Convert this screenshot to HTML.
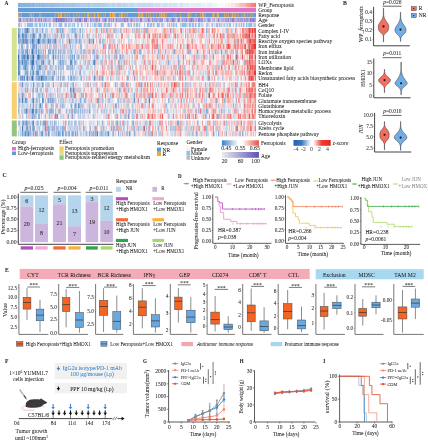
<!DOCTYPE html>
<html><head><meta charset="utf-8"><style>html,body{margin:0;padding:0;background:#fff;width:428px;height:440px;overflow:hidden}svg{display:block;will-change:transform;filter:blur(0.25px)}</style></head><body>
<svg width="428" height="440" viewBox="0 0 428 440" font-family="Liberation Serif, serif" fill="#222"><style>text{stroke:#222;stroke-width:0.04px}</style>
<rect x="0" y="0" width="428" height="440" fill="#fff"/>
<text x="4.5" y="4.5" font-size="6.16" textLength="3.97" lengthAdjust="spacingAndGlyphs" font-weight="bold">A</text>
<text x="258.2" y="7.05" font-size="6.16" textLength="35.75" lengthAdjust="spacingAndGlyphs">WP_Ferroptosis</text>
<text x="258.2" y="12.05" font-size="6.16" textLength="14.05" lengthAdjust="spacingAndGlyphs">Group</text>
<text x="258.2" y="17.1" font-size="6.16" textLength="21.08" lengthAdjust="spacingAndGlyphs">Response</text>
<text x="258.2" y="22.05" font-size="6.16" textLength="9.16" lengthAdjust="spacingAndGlyphs">Age</text>
<text x="258.2" y="27" font-size="6.16" textLength="16.19" lengthAdjust="spacingAndGlyphs">Gender</text>
<rect x="11.8" y="28" width="5" height="52.8" fill="#d5e38e"/>
<text x="258.2" y="32.54" font-size="6.16" textLength="31.01" lengthAdjust="spacingAndGlyphs">Complex I-IV</text>
<text x="258.2" y="37.82" font-size="6.16" textLength="21.84" lengthAdjust="spacingAndGlyphs">Fatty acid</text>
<text x="258.2" y="43.1" font-size="6.16" textLength="74.07" lengthAdjust="spacingAndGlyphs">Reactive oxygen species pathway</text>
<text x="258.2" y="48.38" font-size="6.16" textLength="23.57" lengthAdjust="spacingAndGlyphs">Iron efflux</text>
<text x="258.2" y="53.66" font-size="6.16" textLength="23.98" lengthAdjust="spacingAndGlyphs">Iron intake</text>
<text x="258.2" y="58.94" font-size="6.16" textLength="32.84" lengthAdjust="spacingAndGlyphs">Iron utilization</text>
<text x="258.2" y="64.22" font-size="6.16" textLength="13.44" lengthAdjust="spacingAndGlyphs">LOXs</text>
<text x="258.2" y="69.5" font-size="6.16" textLength="35.28" lengthAdjust="spacingAndGlyphs">Membrane lipid</text>
<text x="258.2" y="74.78" font-size="6.16" textLength="14.36" lengthAdjust="spacingAndGlyphs">Redox</text>
<text x="258.2" y="80.06" font-size="6.16" textLength="96.84" lengthAdjust="spacingAndGlyphs">Unsaturated fatty acids biosynthetic process</text>
<rect x="11.8" y="82.2" width="5" height="36.8" fill="#f8cf73"/>
<text x="258.2" y="86.73" font-size="6.16" textLength="10.39" lengthAdjust="spacingAndGlyphs">BH4</text>
<text x="258.2" y="91.99" font-size="6.16" textLength="15.89" lengthAdjust="spacingAndGlyphs">CoQ10</text>
<text x="258.2" y="97.24" font-size="6.16" textLength="13.75" lengthAdjust="spacingAndGlyphs">Folate</text>
<text x="258.2" y="102.5" font-size="6.16" textLength="58.19" lengthAdjust="spacingAndGlyphs">Glutamate transmembrane</text>
<text x="258.2" y="107.76" font-size="6.16" textLength="25.97" lengthAdjust="spacingAndGlyphs">Glutathione</text>
<text x="258.2" y="113.01" font-size="6.16" textLength="72.70" lengthAdjust="spacingAndGlyphs">Homocysteine metabolic process</text>
<text x="258.2" y="118.27" font-size="6.16" textLength="27.19" lengthAdjust="spacingAndGlyphs">Thioredoxin</text>
<rect x="11.8" y="120.5" width="5" height="15.9" fill="#93c57f"/>
<text x="258.2" y="125.05" font-size="6.16" textLength="23.53" lengthAdjust="spacingAndGlyphs">Glycolysis</text>
<text x="258.2" y="130.35" font-size="6.16" textLength="26.11" lengthAdjust="spacingAndGlyphs">Krebs cycle</text>
<text x="258.2" y="135.65" font-size="6.16" textLength="60.79" lengthAdjust="spacingAndGlyphs">Pentose phosphate pathway</text>
<path d="M18.5 2.90v4.50m5 -4.50v4.50m5 -4.50v4.50m1 -4.50v4.50m3 -4.50v4.50" stroke="#8ab4de" stroke-width="1" fill="none"/>
<path d="M19.5 2.90v4.50m2 -4.50v4.50" stroke="#84aede" stroke-width="1" fill="none"/>
<path d="M20.5 2.90v4.50m2 -4.50v4.50m3 -4.50v4.50m2 -4.50v4.50m3 -4.50v4.50m3 -4.50v4.50m6 -4.50v4.50" stroke="#90b4de" stroke-width="1" fill="none"/>
<path d="M24.5 2.90v4.50m2 -4.50v4.50" stroke="#84b4de" stroke-width="1" fill="none"/>
<path d="M31.5 2.90v4.50m3 -4.50v4.50m2 -4.50v4.50m8 -4.50v4.50m2 -4.50v4.50m5 -4.50v4.50m1 -4.50v4.50m1 -4.50v4.50" stroke="#96bae4" stroke-width="1" fill="none"/>
<path d="M35.5 2.90v4.50m3 -4.50v4.50m2 -4.50v4.50m5 -4.50v4.50m2 -4.50v4.50m1 -4.50v4.50m2 -4.50v4.50m5 -4.50v4.50m1 -4.50v4.50m2 -4.50v4.50m1 -4.50v4.50m3 -4.50v4.50m7 -4.50v4.50" stroke="#9cc0e4" stroke-width="1" fill="none"/>
<path d="M37.5 2.90v4.50m5 -4.50v4.50m1 -4.50v4.50" stroke="#90bade" stroke-width="1" fill="none"/>
<path d="M41.5 2.90v4.50" stroke="#90bae4" stroke-width="1" fill="none"/>
<path d="M49.5 2.90v4.50" stroke="#9cbae4" stroke-width="1" fill="none"/>
<path d="M54.5 2.90v4.50m3 -4.50v4.50m6 -4.50v4.50m1 -4.50v4.50m3 -4.50v4.50m5 -4.50v4.50m2 -4.50v4.50" stroke="#a2c0e4" stroke-width="1" fill="none"/>
<path d="M60.5 2.90v4.50m5 -4.50v4.50m1 -4.50v4.50m5 -4.50v4.50m2 -4.50v4.50m2 -4.50v4.50m2 -4.50v4.50m2 -4.50v4.50m9 -4.50v4.50m-17 31.16v5.28m-50 5.28v5.28m30 10.56v5.28m7 0v5.28m2 -5.28v5.28m-12 0v5.28m16 -5.28v5.28m8 1.40v5.26m18 -5.26v5.26m-53 10.51v5.26m32 5.26v5.26m66 -5.26v5.26m-85 6.76v5.30m63 -5.30v5.30m-64 0v5.30m121 -5.30v5.30m-20 0v5.30" stroke="#a8c6e4" stroke-width="1" fill="none"/>
<path d="M61.5 2.90v4.50m9 -4.50v4.50" stroke="#a2c6e4" stroke-width="1" fill="none"/>
<path d="M68.5 2.90v4.50m8 -4.50v4.50m2 -4.50v4.50m2 -4.50v4.50m1 -4.50v4.50m1 -4.50v4.50m1 -4.50v4.50m3 -4.50v4.50m7 -4.50v4.50m1 -4.50v4.50m2 -4.50v4.50m2 -4.50v4.50m1 -4.50v4.50m1 -4.50v4.50m2 -4.50v4.50" stroke="#aeccea" stroke-width="1" fill="none"/>
<path d="M84.5 2.90v4.50m1 -4.50v4.50m2 -4.50v4.50m2 -4.50v4.50m1 -4.50v4.50m5 -4.50v4.50m2 -4.50v4.50m6 -4.50v4.50m1 -4.50v4.50m2 -4.50v4.50" stroke="#b4ccea" stroke-width="1" fill="none"/>
<path d="M91.5 2.90v4.50m10 -4.50v4.50m6 -4.50v4.50m1 -4.50v4.50m4 -4.50v4.50m1 -4.50v4.50m1 -4.50v4.50m3 -4.50v4.50m1 -4.50v4.50m1 -4.50v4.50m1 -4.50v4.50m4 -4.50v4.50m-63 20.60v5.28m55 0v5.28m-38 0v5.28m37 -0v5.28m-38 0v5.28m41 -5.28v5.28m-42 5.28v5.28m-27 0v5.28m80 0v5.28m54 -5.28v5.28m-106 0v5.28m26 -5.28v5.28m13 -5.28v5.28m-85 1.40v5.26m15 -5.26v5.26m-3 5.26v5.26m-22 0v5.26m54 -5.26v5.26m1 -5.26v5.26m5 -5.26v5.26m24 -5.26v5.26m-12 0v5.26m9 0v5.26m-79 12.06v5.30m149 -5.30v5.30m54 -5.30v5.30m-208 0v5.30m13 -5.30v5.30m8 -5.30v5.30m41 -5.30v5.30" stroke="#bad2ea" stroke-width="1" fill="none"/>
<path d="M92.5 2.90v4.50" stroke="#b4d2ea" stroke-width="1" fill="none"/>
<path d="M105.5 2.90v4.50" stroke="#c0d2f0" stroke-width="1" fill="none"/>
<path d="M109.5 2.90v4.50m1 -4.50v4.50m1 -4.50v4.50m4 -4.50v4.50m6 -4.50v4.50m1 -4.50v4.50m3 -4.50v4.50m1 -4.50v4.50m7 -4.50v4.50m7 -4.50v4.50m2 -4.50v4.50" stroke="#c0d8f0" stroke-width="1" fill="none"/>
<path d="M116.5 2.90v4.50m11 -4.50v4.50m2 -4.50v4.50m1 -4.50v4.50m1 -4.50v4.50m1 -4.50v4.50m6 -4.50v4.50m1 -4.50v4.50m4 -4.50v4.50m1 -4.50v4.50m1 -4.50v4.50m2 -4.50v4.50m1 -4.50v4.50m1 -4.50v4.50m1 -4.50v4.50m2 -4.50v4.50m-127 15.60v4.20m9 -4.20v4.20m3 -4.20v4.20m6 -4.20v4.20m12 -4.20v4.20m3 -4.20v4.20m6 -4.20v4.20m6 -4.20v4.20m3 -4.20v4.20m9 -4.20v4.20m3 -4.20v4.20m12 -4.20v4.20m6 -4.20v4.20m3 -4.20v4.20m21 -4.20v4.20m3 -4.20v4.20m3 -4.20v4.20m21 -4.20v4.20m9 -4.20v4.20m9 -4.20v4.20m3 -4.20v4.20m6 -4.20v4.20m6 -4.20v4.20m9 -4.20v4.20m6 -4.20v4.20m6 -4.20v4.20m3 -4.20v4.20m3 -4.20v4.20m6 -4.20v4.20m3 -4.20v4.20m3 -4.20v4.20m9 -4.20v4.20m9 -4.20v4.20m3 -4.20v4.20m6 -4.20v4.20m-231 37.76v5.28" stroke="#c6d8f0" stroke-width="1" fill="none"/>
<path d="M123.5 2.90v4.50m-88 20.60v5.28m8 -5.28v5.28m4 -5.28v5.28m23 -5.28v5.28m-49 0v5.28m15 -5.28v5.28m35 -5.28v5.28m3 -5.28v5.28m-2 0v5.28m56 -5.28v5.28m15 -5.28v5.28m34 -5.28v5.28m-149 -0v5.28m22 -5.28v5.28m10 -5.28v5.28m2 -5.28v5.28m-42 0v5.28m9 0v5.28m7 -5.28v5.28m10 -5.28v5.28m147 -5.28v5.28m13 -5.28v5.28m-162 -0v5.28m20 -5.28v5.28m20 -5.28v5.28m59 -5.28v5.28m-91 0v5.28m71 -5.28v5.28m101 -5.28v5.28m-204 0v5.28m8 -5.28v5.28m3 -5.28v5.28m8 -5.28v5.28m1 -5.28v5.28m49 -5.28v5.28m39 -5.28v5.28m-53 0v5.28m18 -5.28v5.28m125 -5.28v5.28m-193 1.40v5.26m9 -5.26v5.26m2 -5.26v5.26m34 -5.26v5.26m5 -5.26v5.26m19 -5.26v5.26m129 -5.26v5.26m-180 0v5.26m11 -5.26v5.26m6 -5.26v5.26m7 -5.26v5.26m65 -5.26v5.26m-113 0v5.26m21 -5.26v5.26m8 -5.26v5.26m19 -5.26v5.26m-47 0v5.26m45 -5.26v5.26m56 -5.26v5.26m62 -5.26v5.26m1 -5.26v5.26m-161 0v5.26m9 -5.26v5.26m15 -5.26v5.26m8 -5.26v5.26m15 -5.26v5.26m13 -5.26v5.26m11 -5.26v5.26m129 -5.26v5.26m-201 0v5.26m21 -5.26v5.26m27 -5.26v5.26m16 -5.26v5.26m1 -5.26v5.26m3 -5.26v5.26m26 -5.26v5.26m106 -5.26v5.26m1 -5.26v5.26m20 -5.26v5.26m-207 0v5.26m5 -5.26v5.26m20 -5.26v5.26m-25 1.50v5.30m36 -5.30v5.30m43 -5.30v5.30m42 -5.30v5.30m22 -5.30v5.30m35 -5.30v5.30m-177 0v5.30m5 -5.30v5.30m8 -5.30v5.30m39 -5.30v5.30m8 -5.30v5.30m5 -5.30v5.30m30 -5.30v5.30m58 -5.30v5.30m-169 0v5.30m11 -5.30v5.30m21 -5.30v5.30m32 -5.30v5.30m14 -5.30v5.30m5 -5.30v5.30m2 -5.30v5.30m55 -5.30v5.30" stroke="#c0d2ea" stroke-width="1" fill="none"/>
<path d="M128.5 2.90v4.50m6 -4.50v4.50m1 -4.50v4.50m1 -4.50v4.50m1 -4.50v4.50m4 -4.50v4.50m5 -4.50v4.50m5 -4.50v4.50m4 -4.50v4.50m1 -4.50v4.50m1 -4.50v4.50m2 -4.50v4.50m5 -4.50v4.50m1 -4.50v4.50m-142 20.60v5.28m45 -5.28v5.28m149 -5.28v5.28m-164 0v5.28m16 5.28v5.28m4 -5.28v5.28m-49 0v5.28m55 -5.28v5.28m65 -5.28v5.28m-31 0v5.28m53 -5.28v5.28m45 -5.28v5.28m-50 -0v5.28m-88 0v5.28m4 -5.28v5.28m47 -5.28v5.28m4 -5.28v5.28m-51 0v5.28m8 -5.28v5.28m30 -5.28v5.28m-23 0v5.28m48 -5.28v5.28m4 -5.28v5.28m-114 1.40v5.26m91 0v5.26m-84 0v5.26m73 0v5.26m2 -5.26v5.26m-92 0v5.26m17 -5.26v5.26m1 -5.26v5.26m41 0v5.26m2 -5.26v5.26m30 -5.26v5.26m33 -5.26v5.26m-71 0v5.26m6 -5.26v5.26m104 -5.26v5.26m-113 1.50v5.30m55 -5.30v5.30m-40 0v5.30m43 0v5.30m63 -5.30v5.30" stroke="#ccdef0" stroke-width="1" fill="none"/>
<path d="M153.5 2.90v4.50m-119 20.60v5.28m19 -5.28v5.28m2 -5.28v5.28m23 -5.28v5.28m62 -5.28v5.28m48 -5.28v5.28m9 -5.28v5.28m-125 0v5.28m31 -5.28v5.28m15 -5.28v5.28m-3 0v5.28m104 -5.28v5.28m-182 -0v5.28m48 -5.28v5.28m55 -5.28v5.28m66 -5.28v5.28m-132 0v5.28m4 -5.28v5.28m47 -5.28v5.28m18 -5.28v5.28m2 -5.28v5.28m75 -5.28v5.28m-200 0v5.28m45 -5.28v5.28m2 -5.28v5.28m25 -5.28v5.28m33 -5.28v5.28m1 -5.28v5.28m46 -5.28v5.28m7 -5.28v5.28m21 -5.28v5.28m-148 -0v5.28m39 -5.28v5.28m-1 5.28v5.28m40 -5.28v5.28m1 -5.28v5.28m61 -5.28v5.28m14 -5.28v5.28m-128 0v5.28m1 -5.28v5.28m68 -5.28v5.28m17 -5.28v5.28m25 -5.28v5.28m44 -5.28v5.28m-201 1.40v5.26m48 -5.26v5.26m34 -5.26v5.26m94 -5.26v5.26m-188 0v5.26m73 0v5.26m81 -5.26v5.26m-81 0v5.26m48 -5.26v5.26m-116 0v5.26m6 -5.26v5.26m17 -5.26v5.26m17 -5.26v5.26m2 -5.26v5.26m62 -5.26v5.26m38 -5.26v5.26m35 -5.26v5.26m30 -5.26v5.26m-167 0v5.26m54 -5.26v5.26m8 -5.26v5.26m30 -5.26v5.26m2 -5.26v5.26m11 -5.26v5.26m1 -5.26v5.26m-128 0v5.26m44 -5.26v5.26m5 -5.26v5.26m19 -5.26v5.26m75 -5.26v5.26m-65 1.50v5.30m33 -5.30v5.30m4 -5.30v5.30m26 -5.30v5.30m-75 0v5.30m-48 0v5.30m17 -5.30v5.30m150 -5.30v5.30" stroke="#d8e4f0" stroke-width="1" fill="none"/>
<path d="M154.5 2.90v4.50m8 -4.50v4.50m1 -4.50v4.50m3 -4.50v4.50m1 -4.50v4.50m2 -4.50v4.50m4 -4.50v4.50m2 -4.50v4.50m56 47v5.28m-185 -0v5.28m86 33.01v5.26m-8 5.26v5.26m51 -5.26v5.26m-127 0v5.26m22 -5.26v5.26m31 1.50v5.30m47 -5.30v5.30m58 -5.30v5.30m-147 0v5.30" stroke="#d2e4f0" stroke-width="1" fill="none"/>
<path d="M158.5 2.90v4.50m12 -4.50v4.50m-118 20.60v5.28m2 -5.28v5.28m15 -5.28v5.28m15 -5.28v5.28m8 -5.28v5.28m10 -5.28v5.28m40 -5.28v5.28m-100 0v5.28m41 -5.28v5.28m66 0v5.28m-126 -0v5.28m8 -5.28v5.28m8 -5.28v5.28m22 -5.28v5.28m7 -5.28v5.28m6 -5.28v5.28m28 -5.28v5.28m4 -5.28v5.28m-55 0v5.28m25 -5.28v5.28m19 -5.28v5.28m67 -5.28v5.28m-111 0v5.28m48 -5.28v5.28m12 -5.28v5.28m1 -5.28v5.28m19 -5.28v5.28m9 -5.28v5.28m-111 -0v5.28m11 -5.28v5.28m37 -5.28v5.28m13 -5.28v5.28m51 -5.28v5.28m19 -5.28v5.28m37 -5.28v5.28m-176 0v5.28m108 -5.28v5.28m12 -5.28v5.28m48 -5.28v5.28m7 -5.28v5.28m45 -5.28v5.28m-196 0v5.28m156 -5.28v5.28m-182 0v5.28m6 -5.28v5.28m9 -5.28v5.28m27 -5.28v5.28m89 -5.28v5.28m15 -5.28v5.28m21 -5.28v5.28m20 -5.28v5.28m-122 1.40v5.26m51 -5.26v5.26m49 -5.26v5.26m-165 0v5.26m29 -5.26v5.26m149 -5.26v5.26m24 -5.26v5.26m-201 0v5.26m5 -5.26v5.26m19 -5.26v5.26m3 -5.26v5.26m32 -5.26v5.26m21 -5.26v5.26m68 -5.26v5.26m74 -5.26v5.26m-204 0v5.26m18 -5.26v5.26m55 -5.26v5.26m122 -5.26v5.26m-212 0v5.26m89 -5.26v5.26m21 -5.26v5.26m-97 0v5.26m14 -5.26v5.26m20 -5.26v5.26m20 -5.26v5.26m27 -5.26v5.26m15 -5.26v5.26m38 -5.26v5.26m-106 0v5.26m33 -5.26v5.26m102 -5.26v5.26m-156 1.50v5.30m41 -5.30v5.30m8 -5.30v5.30m3 -5.30v5.30m-57 0v5.30m50 -5.30v5.30m56 -5.30v5.30m8 -5.30v5.30m-83 0v5.30m110 -5.30v5.30m13 -5.30v5.30m44 -5.30v5.30" stroke="#d2def0" stroke-width="1" fill="none"/>
<path d="M160.5 2.90v4.50m12 -4.50v4.50m2 -4.50v4.50m2 -4.50v4.50m4 -4.50v4.50m1 -4.50v4.50m1 -4.50v4.50m5 -4.50v4.50" stroke="#d8e4f6" stroke-width="1" fill="none"/>
<path d="M161.5 2.90v4.50" stroke="#d8eaf6" stroke-width="1" fill="none"/>
<path d="M168.5 2.90v4.50m3 -4.50v4.50m8 -4.50v4.50m5 -4.50v4.50m2 -4.50v4.50m8 -4.50v4.50m3 -4.50v4.50m1 -4.50v4.50m-168 20.60v5.28m19 -5.28v5.28m32 -5.28v5.28m6 -5.28v5.28m6 -5.28v5.28m-20 0v5.28m59 0v5.28m10 -5.28v5.28m82 -5.28v5.28m-206 -0v5.28m2 -5.28v5.28m154 -5.28v5.28m-42 0v5.28m32 -5.28v5.28m-115 0v5.28m58 -5.28v5.28m-56 -0v5.28m22 -5.28v5.28m9 -5.28v5.28m17 -5.28v5.28m34 -5.28v5.28m29 -5.28v5.28m-105 0v5.28m41 -5.28v5.28m-69 0v5.28m12 -5.28v5.28m30 -5.28v5.28m-17 0v5.28m15 -5.28v5.28m60 -5.28v5.28m114 -5.28v5.28m-208 1.40v5.26m14 0v5.26m188 -5.26v5.26m1 -5.26v5.26m-164 5.26v5.26m13 -5.26v5.26m98 -5.26v5.26m-81 0v5.26m93 -5.26v5.26m-92 0v5.26m92 -5.26v5.26m21 -5.26v5.26m-160 0v5.26m27 -5.26v5.26m13 -5.26v5.26m1 -5.26v5.26m71 -5.26v5.26m-131 1.50v5.30m-8 0v5.30m9 -5.30v5.30m38 -5.30v5.30m91 -5.30v5.30m-105 0v5.30m18 -5.30v5.30m16 -5.30v5.30m133 -5.30v5.30m15 -5.30v5.30" stroke="#deeaf6" stroke-width="1" fill="none"/>
<path d="M177.5 2.90v4.50m1 -4.50v4.50m5 -4.50v4.50m13 -4.50v4.50m3 -4.50v4.50m1 -4.50v4.50m-152 20.60v5.28m50 -5.28v5.28m63 -5.28v5.28m64 0v5.28m-127 0v5.28m36 -5.28v5.28m-50 -0v5.28m7 0v5.28m9 0v5.28m1 -5.28v5.28m38 -5.28v5.28m-70 -0v5.28m69 -5.28v5.28m1 -5.28v5.28m-6 0v5.28m16 -5.28v5.28m74 -5.28v5.28m-200 0v5.28m58 -5.28v5.28m1 -5.28v5.28m33 0v5.28m6 -5.28v5.28m-47 1.40v5.26m4 -5.26v5.26m1 -5.26v5.26m55 -5.26v5.26m88 -5.26v5.26m16 -5.26v5.26m-187 0v5.26m127 -5.26v5.26m52 -5.26v5.26m-115 0v5.26m5 -5.26v5.26m114 -5.26v5.26m-188 0v5.26m31 -5.26v5.26m36 -5.26v5.26m26 -5.26v5.26m11 -5.26v5.26m32 -5.26v5.26m-65 0v5.26m-48 5.26v5.26m31 -5.26v5.26m1 -5.26v5.26m152 1.50v5.30m-131 0v5.30m4 -5.30v5.30m-107 0v5.30m97 -5.30v5.30m68 -5.30v5.30m57 -5.30v5.30" stroke="#e4eaf6" stroke-width="1" fill="none"/>
<path d="M185.5 2.90v4.50m3 -4.50v4.50m2 -4.50v4.50m1 -4.50v4.50m1 -4.50v4.50m1 -4.50v4.50m2 -4.50v4.50m8 -4.50v4.50m4 -4.50v4.50m1 -4.50v4.50m1 -4.50v4.50m1 -4.50v4.50m1 -4.50v4.50m-120 20.60v5.28m40 0v5.28m63 -5.28v5.28m-133 0v5.28m123 -5.28v5.28m-55 5.28v5.28m-16 10.56v5.28m-91 0v5.28m162 0v5.28m-35 1.40v5.26m-111 0v5.26m127 -5.26v5.26m-125 5.26v5.26m118 -5.26v5.26m68 0v5.26m-81 0v5.26m-92 0v5.26m22 -5.26v5.26m-37 12.10v5.30" stroke="#e4f0f6" stroke-width="1" fill="none"/>
<path d="M189.5 2.90v4.50m-101 20.60v5.28m2 0v5.28m56 -5.28v5.28m19 0v5.28m-99 5.28v5.28m84 -5.28v5.28m-20 0v5.28m16 -5.28v5.28m-90 -0v5.28m84 -5.28v5.28m44 -5.28v5.28m-136 0v5.28m77 -5.28v5.28m112 -5.28v5.28m-171 0v5.28m60 -5.28v5.28m50 0v5.28m29 -5.28v5.28m16 -5.28v5.28m11 -5.28v5.28m-203 1.40v5.26m13 0v5.26m2 -5.26v5.26m70 -5.26v5.26m74 5.26v5.26m49 -5.26v5.26m9 -5.26v5.26m-143 0v5.26m65 -5.26v5.26m-76 0v5.26m26 -5.26v5.26m54 -5.26v5.26m2 -5.26v5.26m53 -5.26v5.26m13 -5.26v5.26m-219 0v5.26m16 -5.26v5.26m44 -5.26v5.26m29 -5.26v5.26m90 -5.26v5.26m-133 1.50v5.30m28 -5.30v5.30m5 -5.30v5.30m10 -5.30v5.30m46 -5.30v5.30m45 -5.30v5.30m10 -5.30v5.30m-104 0v5.30m1 -5.30v5.30m3 0v5.30m21 -5.30v5.30m51 -5.30v5.30" stroke="#eaf0f6" stroke-width="1" fill="none"/>
<path d="M201.5 2.90v4.50m11 -4.50v4.50m3 -4.50v4.50m-150 57.56v5.28m98 50.26v5.30" stroke="#eaf0fc" stroke-width="1" fill="none"/>
<path d="M202.5 2.90v4.50m2 -4.50v4.50m-119 20.60v5.28m90 10.56v5.28m33 10.56v5.28m-149 5.28v5.28m32 0v5.28m118 50.30v5.30" stroke="#f0f0fc" stroke-width="1" fill="none"/>
<path d="M205.5 2.90v4.50m1 -4.50v4.50m7 -4.50v4.50m1 -4.50v4.50m2 -4.50v4.50m1 -4.50v4.50m-180 25.88v5.28m67 -5.28v5.28m68 -5.28v5.28m13 0v5.28m25 5.28v5.28m-160 0v5.28m80 -0v5.28m-37 0v5.28m6 -5.28v5.28m91 -5.28v5.28m-169 0v5.28m77 -5.28v5.28m29 -5.28v5.28m64 -5.28v5.28m43 -5.28v5.28m-130 0v5.28m135 -5.28v5.28m-195 1.40v5.26m22 0v5.26m34 -5.26v5.26m33 -5.26v5.26m-106 0v5.26m18 -5.26v5.26m69 0v5.26m28 -5.26v5.26m9 -5.26v5.26m-97 0v5.26m125 -5.26v5.26m-135 0v5.26m68 -5.26v5.26m53 0v5.26m-92 1.50v5.30m23 -5.30v5.30m9 -5.30v5.30m9 -5.30v5.30m89 -5.30v5.30m-162 0v5.30m46 -5.30v5.30m82 0v5.30m48 -5.30v5.30m27 -5.30v5.30m5 -5.30v5.30" stroke="#f0f6fc" stroke-width="1" fill="none"/>
<path d="M218.5 2.90v4.50m1 -4.50v4.50m4 -4.50v4.50m1 -4.50v4.50m-110 25.88v5.28m12 0v5.28m50 -5.28v5.28m-147 -0v5.28m54 -5.28v5.28m59 0v5.28m63 5.28v5.28m36 -5.28v5.28m-177 0v5.28m70 -5.28v5.28m-27 0v5.28m70 0v5.28m39 -5.28v5.28m-135 1.40v5.26m30 -5.26v5.26m1 -5.26v5.26m-10 0v5.26m27 0v5.26m-13 0v5.26m50 -5.26v5.26m54 -5.26v5.26m-70 0v5.26m-37 5.26v5.26" stroke="#fcfcfc" stroke-width="1" fill="none"/>
<path d="M220.5 2.90v4.50m2 -4.50v4.50m4 -4.50v4.50m-16 20.60v5.28m-87 0v5.28m10 -5.28v5.28m7 0v5.28m10 -5.28v5.28m48 -5.28v5.28m4 -5.28v5.28m1 -5.28v5.28m7 -5.28v5.28m-103 -0v5.28m54 -5.28v5.28m-55 0v5.28m82 0v5.28m-81 -0v5.28m9 -5.28v5.28m22 0v5.28m-69 0v5.28m69 -5.28v5.28m6 -5.28v5.28m70 -5.28v5.28m-61 0v5.28m97 1.40v5.26m-197 0v5.26m36 -5.26v5.26m67 -5.26v5.26m-100 0v5.26m-15 0v5.26m180 -5.26v5.26m-152 0v5.26m61 -5.26v5.26m111 -5.26v5.26m-79 0v5.26m19 -5.26v5.26m-139 0v5.26m88 -5.26v5.26m16 -5.26v5.26m18 -5.26v5.26m46 -5.26v5.26m-151 1.50v5.30m132 -5.30v5.30m-125 0v5.30m32 -5.30v5.30m112 0v5.30" stroke="#fcf6f6" stroke-width="1" fill="none"/>
<path d="M221.5 2.90v4.50m-187 85.31v5.26" stroke="#fcfcf6" stroke-width="1" fill="none"/>
<path d="M225.5 2.90v4.50m2 -4.50v4.50m2 -4.50v4.50m-13 20.60v5.28m-11 0v5.28m10 -5.28v5.28m-107 0v5.28m66 -5.28v5.28m39 -5.28v5.28m-165 -0v5.28m29 -5.28v5.28m43 -5.28v5.28m58 -5.28v5.28m-132 0v5.28m61 -5.28v5.28m16 -5.28v5.28m-48 0v5.28m111 -5.28v5.28m33 -5.28v5.28m-92 5.28v5.28m103 -5.28v5.28m-173 0v5.28m66 0v5.28m2 -5.28v5.28m13 -5.28v5.28m90 -5.28v5.28m14 -5.28v5.28m-144 1.40v5.26m127 -5.26v5.26m-131 0v5.26m19 -5.26v5.26m36 -5.26v5.26m-114 0v5.26m22 0v5.26m47 -5.26v5.26m56 -5.26v5.26m1 -5.26v5.26m33 -5.26v5.26m13 -5.26v5.26m-164 0v5.26m1 -5.26v5.26m41 -5.26v5.26m21 -5.26v5.26m53 -5.26v5.26m54 -5.26v5.26m-62 0v5.26m88 -5.26v5.26m-148 0v5.26m87 -5.26v5.26m-48 1.50v5.30m69 -5.30v5.30m-108 0v5.30m8 -5.30v5.30m122 -5.30v5.30m-80 0v5.30m41 -5.30v5.30" stroke="#fcf0f0" stroke-width="1" fill="none"/>
<path d="M228.5 2.90v4.50m-162 20.60v5.28m87 -5.28v5.28m4 -5.28v5.28m-72 0v5.28m35 -5.28v5.28m98 -5.28v5.28m-153 0v5.28m81 -5.28v5.28m35 -5.28v5.28m64 -5.28v5.28m-220 -0v5.28m57 -5.28v5.28m19 -5.28v5.28m26 -5.28v5.28m98 -5.28v5.28m21 -5.28v5.28m-76 0v5.28m-32 0v5.28m52 -5.28v5.28m25 -5.28v5.28m33 -5.28v5.28m-111 -0v5.28m78 -5.28v5.28m28 0v5.28m-175 0v5.28m151 -5.28v5.28m-169 6.68v5.26m4 -5.26v5.26m56 -5.26v5.26m23 -5.26v5.26m20 -5.26v5.26m68 -5.26v5.26m-152 0v5.26m85 -5.26v5.26m-77 0v5.26m80 -5.26v5.26m59 -5.26v5.26m-7 0v5.26m-52 0v5.26m33 -5.26v5.26m-170 0v5.26m88 -5.26v5.26m-62 0v5.26m73 -5.26v5.26m47 -5.26v5.26m32 -5.26v5.26m-112 1.50v5.30m110 -5.30v5.30m-40 0v5.30m11 -5.30v5.30m78 -5.30v5.30m-105 0v5.30" stroke="#fceaea" stroke-width="1" fill="none"/>
<path d="M230.5 2.90v4.50m-71 20.60v5.28m12 5.28v5.28m-46 -0v5.28m88 26.40v5.28" stroke="#fcf0ea" stroke-width="1" fill="none"/>
<path d="M231.5 2.90v4.50m1 -4.50v4.50m3 -4.50v4.50m-129 31.16v5.28m111 10.56v5.28m-124 10.56v5.28m145 -5.28v5.28m-23 0v5.28m-116 1.40v5.26m81 -5.26v5.26m-85 5.26v5.26m52 0v5.26m-13 0v5.26m88 5.26v5.26m-57 12.10v5.30" stroke="#fce4de" stroke-width="1" fill="none"/>
<path d="M233.5 2.90v4.50m-54 20.60v5.28m-132 15.84v5.28m167 0v5.28m-33 22.52v5.26m-84 15.77v5.26" stroke="#fceae4" stroke-width="1" fill="none"/>
<path d="M234.5 2.90v4.50m-14 20.60v5.28m4 -5.28v5.28m-173 0v5.28m73 -5.28v5.28m1 -5.28v5.28m9 -5.28v5.28m44 0v5.28m20 -0v5.28m-52 0v5.28m7 -5.28v5.28m92 0v5.28m-94 -0v5.28m30 -5.28v5.28m18 -5.28v5.28m15 -5.28v5.28m28 -5.28v5.28m-111 0v5.28m41 -5.28v5.28m15 -5.28v5.28m1 -5.28v5.28m-43 0v5.28m33 -5.28v5.28m-96 0v5.28m63 -5.28v5.28m49 -5.28v5.28m26 -5.28v5.28m-107 1.40v5.26m115 -5.26v5.26m2 -5.26v5.26m-145 0v5.26m66 -5.26v5.26m9 -5.26v5.26m29 -5.26v5.26m-85 0v5.26m55 -5.26v5.26m1 -5.26v5.26m29 -5.26v5.26m22 -5.26v5.26m6 -5.26v5.26m-74 0v5.26m-52 0v5.26m55 -5.26v5.26m27 -5.26v5.26m13 0v5.26m67 -5.26v5.26m-188 0v5.26m12 -5.26v5.26m45 -5.26v5.26m34 -5.26v5.26m25 -5.26v5.26m9 -5.26v5.26m42 -5.26v5.26m-214 6.80v5.30m165 -5.30v5.30m39 -5.30v5.30m17 -5.30v5.30m-102 0v5.30m57 -5.30v5.30" stroke="#fce4e4" stroke-width="1" fill="none"/>
<path d="M236.5 2.90v4.50m1 -4.50v4.50m-85 20.60v5.28m-51 0v5.28m82 -5.28v5.28m28 -5.28v5.28m28 -5.28v5.28m-182 0v5.28m138 -5.28v5.28m-76 -0v5.28m113 -5.28v5.28m-81 0v5.28m27 -5.28v5.28m-72 21.12v5.28m43 -5.28v5.28m32 -5.28v5.28m-126 1.40v5.26m1 -5.26v5.26m44 -5.26v5.26m66 -5.26v5.26m31 5.26v5.26m-78 0v5.26m112 -5.26v5.26m-23 22.57v5.30m25 -5.30v5.30m-13 0v5.30" stroke="#fcd2cc" stroke-width="1" fill="none"/>
<path d="M238.5 2.90v4.50m-27 20.60v5.28m-110 5.28v5.28m38 -5.28v5.28m-50 10.56v5.28m100 -5.28v5.28m-2 -0v5.28m-45 0v5.28m-47 0v5.28m56 -5.28v5.28m2 -5.28v5.28m-23 0v5.28m18 6.66v5.26m70 5.26v5.26m-36 5.26v5.26m-47 0v5.26m111 -5.26v5.26m-161 1.50v5.30" stroke="#fcd8d2" stroke-width="1" fill="none"/>
<path d="M239.5 2.90v4.50" stroke="#fcc6c0" stroke-width="1" fill="none"/>
<path d="M240.5 2.90v4.50m2 -4.50v4.50m-24 20.60v5.28m-82 0v5.28m99 -5.28v5.28m-116 0v5.28m82 -5.28v5.28m-34 -0v5.28m38 -5.28v5.28m12 -5.28v5.28m26 -5.28v5.28m4 -5.28v5.28m-113 5.28v5.28m18 -5.28v5.28m53 -5.28v5.28m-96 10.56v5.28m47 6.68v5.26m38 -5.26v5.26m5 -5.26v5.26m4 0v5.26m-113 0v5.26m98 -5.26v5.26m16 -5.26v5.26m-60 0v5.26m86 -5.26v5.26m17 17.27v5.30" stroke="#f6c0ba" stroke-width="1" fill="none"/>
<path d="M241.5 2.90v4.50" stroke="#fcc0ba" stroke-width="1" fill="none"/>
<path d="M243.5 2.90v4.50m1 -4.50v4.50m1 -4.50v4.50m-71 20.60v5.28m41 -5.28v5.28m-42 0v5.28m77 -5.28v5.28m-99 0v5.28m-28 -0v5.28m7 -5.28v5.28m15 -5.28v5.28m26 -5.28v5.28m62 -5.28v5.28m-86 0v5.28m-3 0v5.28m83 -0v5.28m-131 5.28v5.28m8 -5.28v5.28m14 -5.28v5.28m122 -5.28v5.28m-132 6.68v5.26m79 -5.26v5.26m-51 0v5.26m50 -5.26v5.26m67 -5.26v5.26m-80 0v5.26m29 0v5.26m-63 5.26v5.26m75 0v5.26m7 -5.26v5.26m10 -5.26v5.26m-107 12.10v5.30m51 -5.30v5.30" stroke="#f6bab4" stroke-width="1" fill="none"/>
<path d="M246.5 2.90v4.50" stroke="#f6a89c" stroke-width="1" fill="none"/>
<path d="M247.5 2.90v4.50m-33 20.60v5.28m-106 0v5.28m1 -5.28v5.28m30 -5.28v5.28m9 5.28v5.28m64 -5.28v5.28m-39 0v5.28m-37 0v5.28m-17 -0v5.28m135 -5.28v5.28m-124 0v5.28m108 -5.28v5.28m-119 0v5.28m109 -5.28v5.28m8 -5.28v5.28m-98 6.68v5.26m14 -5.26v5.26m-66 5.26v5.26m50 -5.26v5.26m12 -5.26v5.26m85 -5.26v5.26m13 -5.26v5.26m7 -5.26v5.26m-108 0v5.26m109 -5.26v5.26m-7 0v5.26m-19 5.26v5.26" stroke="#f6a29c" stroke-width="1" fill="none"/>
<path d="M248.5 2.90v4.50" stroke="#f6a296" stroke-width="1" fill="none"/>
<path d="M249.5 2.90v4.50" stroke="#f6968a" stroke-width="1" fill="none"/>
<path d="M250.5 2.90v4.50m-86 20.60v5.28m39 -5.28v5.28m44 5.28v5.28m-7 -0v5.28m-88 0v5.28m71 5.28v5.28m26 0v5.28m-85 0v5.28m87 -5.28v5.28m-46 6.68v5.26m-64 15.77v5.26m109 -5.26v5.26m-101 17.31v5.30m31 0v5.30" stroke="#f69690" stroke-width="1" fill="none"/>
<path d="M251.5 2.90v4.50m2 -4.50v4.50" stroke="#f08a7e" stroke-width="1" fill="none"/>
<path d="M252.5 2.90v4.50m2 -4.50v4.50" stroke="#f08478" stroke-width="1" fill="none"/>
<path d="M255.5 2.90v4.50" stroke="#f0786c" stroke-width="1" fill="none"/>
<path d="M18.5 8v4.30m1 -4.30v4.30m1 -4.30v4.30m1 -4.30v4.30m1 -4.30v4.30m1 -4.30v4.30m1 -4.30v4.30m1 -4.30v4.30m1 -4.30v4.30m1 -4.30v4.30m1 -4.30v4.30m1 -4.30v4.30m1 -4.30v4.30m1 -4.30v4.30m1 -4.30v4.30m1 -4.30v4.30m1 -4.30v4.30m1 -4.30v4.30m1 -4.30v4.30m1 -4.30v4.30m1 -4.30v4.30m1 -4.30v4.30m1 -4.30v4.30m1 -4.30v4.30m1 -4.30v4.30m1 -4.30v4.30m1 -4.30v4.30m1 -4.30v4.30m1 -4.30v4.30m1 -4.30v4.30m1 -4.30v4.30m1 -4.30v4.30m1 -4.30v4.30m1 -4.30v4.30m1 -4.30v4.30m1 -4.30v4.30m1 -4.30v4.30m1 -4.30v4.30m1 -4.30v4.30m1 -4.30v4.30m1 -4.30v4.30m1 -4.30v4.30m1 -4.30v4.30m1 -4.30v4.30m1 -4.30v4.30m1 -4.30v4.30m1 -4.30v4.30m1 -4.30v4.30m1 -4.30v4.30m1 -4.30v4.30m1 -4.30v4.30m1 -4.30v4.30m1 -4.30v4.30m1 -4.30v4.30m1 -4.30v4.30m1 -4.30v4.30m1 -4.30v4.30m1 -4.30v4.30m1 -4.30v4.30m1 -4.30v4.30m1 -4.30v4.30m1 -4.30v4.30m1 -4.30v4.30m1 -4.30v4.30m1 -4.30v4.30m1 -4.30v4.30m1 -4.30v4.30m1 -4.30v4.30m1 -4.30v4.30m1 -4.30v4.30m1 -4.30v4.30m1 -4.30v4.30m1 -4.30v4.30m1 -4.30v4.30m1 -4.30v4.30m1 -4.30v4.30m1 -4.30v4.30m1 -4.30v4.30m1 -4.30v4.30m1 -4.30v4.30m1 -4.30v4.30m1 -4.30v4.30m1 -4.30v4.30m1 -4.30v4.30m1 -4.30v4.30m1 -4.30v4.30m1 -4.30v4.30m1 -4.30v4.30m1 -4.30v4.30m1 -4.30v4.30m1 -4.30v4.30m1 -4.30v4.30m1 -4.30v4.30m1 -4.30v4.30m1 -4.30v4.30m1 -4.30v4.30m1 -4.30v4.30m1 -4.30v4.30m1 -4.30v4.30m1 -4.30v4.30m1 -4.30v4.30m1 -4.30v4.30m1 -4.30v4.30m1 -4.30v4.30m1 -4.30v4.30m1 -4.30v4.30m1 -4.30v4.30m1 -4.30v4.30m1 -4.30v4.30m1 -4.30v4.30m1 -4.30v4.30m1 -4.30v4.30m1 -4.30v4.30m1 -4.30v4.30m1 -4.30v4.30m1 -4.30v4.30m1 -4.30v4.30m1 -4.30v4.30m1 -4.30v4.30m1 -4.30v4.30m-115 0.70v4.40m1 -4.40v4.40m1 -4.40v4.40m1 -4.40v4.40m1 -4.40v4.40m1 -4.40v4.40m1 -4.40v4.40m6 -4.40v4.40m1 -4.40v4.40m1 -4.40v4.40m1 -4.40v4.40m1 -4.40v4.40m4 -4.40v4.40m1 -4.40v4.40m1 -4.40v4.40m1 -4.40v4.40m1 -4.40v4.40m1 -4.40v4.40m1 -4.40v4.40m1 -4.40v4.40m1 -4.40v4.40m1 -4.40v4.40m1 -4.40v4.40m1 -4.40v4.40m3 -4.40v4.40m7 -4.40v4.40m5 -4.40v4.40m2 -4.40v4.40m1 -4.40v4.40m1 -4.40v4.40m3 -4.40v4.40m5 -4.40v4.40m2 -4.40v4.40m1 -4.40v4.40m2 -4.40v4.40m1 -4.40v4.40m6 -4.40v4.40m4 -4.40v4.40m3 -4.40v4.40m3 -4.40v4.40m4 -4.40v4.40m1 -4.40v4.40m1 -4.40v4.40m8 -4.40v4.40m1 -4.40v4.40m1 -4.40v4.40m5 -4.40v4.40m5 -4.40v4.40m1 -4.40v4.40m1 -4.40v4.40m1 -4.40v4.40m1 -4.40v4.40m1 -4.40v4.40m1 -4.40v4.40m1 -4.40v4.40m1 -4.40v4.40m1 -4.40v4.40m7 -4.40v4.40m1 -4.40v4.40m2 -4.40v4.40m4 -4.40v4.40m1 -4.40v4.40m2 -4.40v4.40m1 -4.40v4.40m2 -4.40v4.40m1 -4.40v4.40m9 -4.40v4.40m1 -4.40v4.40m1 -4.40v4.40m1 -4.40v4.40m1 -4.40v4.40m1 -4.40v4.40m2 -4.40v4.40m3 -4.40v4.40m1 -4.40v4.40m1 -4.40v4.40m2 -4.40v4.40m1 -4.40v4.40m1 -4.40v4.40m1 -4.40v4.40m1 -4.40v4.40m1 -4.40v4.40m6 -4.40v4.40m1 -4.40v4.40m1 -4.40v4.40m3 -4.40v4.40m1 -4.40v4.40m1 -4.40v4.40m7 -4.40v4.40m1 -4.40v4.40m1 -4.40v4.40m1 -4.40v4.40m1 -4.40v4.40m1 -4.40v4.40m4 -4.40v4.40m4 -4.40v4.40m1 -4.40v4.40m1 -4.40v4.40m1 -4.40v4.40m1 -4.40v4.40m4 -4.40v4.40m2 -4.40v4.40m1 -4.40v4.40m9 -4.40v4.40m1 -4.40v4.40m6 -4.40v4.40m3 -4.40v4.40m5 -4.40v4.40m1 -4.40v4.40" stroke="#609cd8" stroke-width="1" fill="none"/>
<path d="M138.5 8v4.30m1 -4.30v4.30m1 -4.30v4.30m1 -4.30v4.30m1 -4.30v4.30m1 -4.30v4.30m1 -4.30v4.30m1 -4.30v4.30m1 -4.30v4.30m1 -4.30v4.30m1 -4.30v4.30m1 -4.30v4.30m1 -4.30v4.30m1 -4.30v4.30m1 -4.30v4.30m1 -4.30v4.30m1 -4.30v4.30m1 -4.30v4.30m1 -4.30v4.30m1 -4.30v4.30m1 -4.30v4.30m1 -4.30v4.30m1 -4.30v4.30m1 -4.30v4.30m1 -4.30v4.30m1 -4.30v4.30m1 -4.30v4.30m1 -4.30v4.30m1 -4.30v4.30m1 -4.30v4.30m1 -4.30v4.30m1 -4.30v4.30m1 -4.30v4.30m1 -4.30v4.30m1 -4.30v4.30m1 -4.30v4.30m1 -4.30v4.30m1 -4.30v4.30m1 -4.30v4.30m1 -4.30v4.30m1 -4.30v4.30m1 -4.30v4.30m1 -4.30v4.30m1 -4.30v4.30m1 -4.30v4.30m1 -4.30v4.30m1 -4.30v4.30m1 -4.30v4.30m1 -4.30v4.30m1 -4.30v4.30m1 -4.30v4.30m1 -4.30v4.30m1 -4.30v4.30m1 -4.30v4.30m1 -4.30v4.30m1 -4.30v4.30m1 -4.30v4.30m1 -4.30v4.30m1 -4.30v4.30m1 -4.30v4.30m1 -4.30v4.30m1 -4.30v4.30m1 -4.30v4.30m1 -4.30v4.30m1 -4.30v4.30m1 -4.30v4.30m1 -4.30v4.30m1 -4.30v4.30m1 -4.30v4.30m1 -4.30v4.30m1 -4.30v4.30m1 -4.30v4.30m1 -4.30v4.30m1 -4.30v4.30m1 -4.30v4.30m1 -4.30v4.30m1 -4.30v4.30m1 -4.30v4.30m1 -4.30v4.30m1 -4.30v4.30m1 -4.30v4.30m1 -4.30v4.30m1 -4.30v4.30m1 -4.30v4.30m1 -4.30v4.30m1 -4.30v4.30m1 -4.30v4.30m1 -4.30v4.30m1 -4.30v4.30m1 -4.30v4.30m1 -4.30v4.30m1 -4.30v4.30m1 -4.30v4.30m1 -4.30v4.30m1 -4.30v4.30m1 -4.30v4.30m1 -4.30v4.30m1 -4.30v4.30m1 -4.30v4.30m1 -4.30v4.30m1 -4.30v4.30m1 -4.30v4.30m1 -4.30v4.30m1 -4.30v4.30m1 -4.30v4.30m1 -4.30v4.30m1 -4.30v4.30m1 -4.30v4.30m1 -4.30v4.30m1 -4.30v4.30m1 -4.30v4.30m1 -4.30v4.30m1 -4.30v4.30m1 -4.30v4.30m1 -4.30v4.30m1 -4.30v4.30m1 -4.30v4.30m1 -4.30v4.30" stroke="#de72c6" stroke-width="1" fill="none"/>
<path d="M18.5 13v4.40m3 -4.40v4.40m8 -4.40v4.40m4 -4.40v4.40m6 -4.40v4.40m30 -4.40v4.40m12 -4.40v4.40m3 -4.40v4.40m21 -4.40v4.40m14 -4.40v4.40m27 -4.40v4.40m4 -4.40v4.40m3 -4.40v4.40m3 -4.40v4.40m3 -4.40v4.40m3 -4.40v4.40m11 -4.40v4.40m7 -4.40v4.40m9 -4.40v4.40m11 -4.40v4.40m12 -4.40v4.40m12 -4.40v4.40m4 -4.40v4.40m6 -4.40v4.40" stroke="#cca260" stroke-width="1" fill="none"/>
<path d="M19.5 13v4.40m21 -4.40v4.40m15 -4.40v4.40m9 -4.40v4.40m3 -4.40v4.40m6 -4.40v4.40m3 -4.40v4.40m3 -4.40v4.40m12 -4.40v4.40m6 -4.40v4.40m3 -4.40v4.40m3 -4.40v4.40m6 -4.40v4.40m6 -4.40v4.40m9 -4.40v4.40m3 -4.40v4.40m21 -4.40v4.40m12 -4.40v4.40m3 -4.40v4.40m3 -4.40v4.40m9 -4.40v4.40m12 -4.40v4.40m3 -4.40v4.40m6 -4.40v4.40m9 -4.40v4.40m9 -4.40v4.40m12 -4.40v4.40m9 -4.40v4.40m3 -4.40v4.40m3 -4.40v4.40m6 -4.40v4.40m3 -4.40v4.40m3 -4.40v4.40" stroke="#a8a28a" stroke-width="1" fill="none"/>
<path d="M20.5 13v4.40m10 -4.40v4.40m2 -4.40v4.40m9 -4.40v4.40m13 -4.40v4.40m3 -4.40v4.40m2 -4.40v4.40m3 -4.40v4.40m3 -4.40v4.40m1 -4.40v4.40m8 -4.40v4.40m3 -4.40v4.40m1 -4.40v4.40m11 -4.40v4.40m1 -4.40v4.40m3 -4.40v4.40m2 -4.40v4.40m6 -4.40v4.40m3 -4.40v4.40m7 -4.40v4.40m9 -4.40v4.40m5 -4.40v4.40m1 -4.40v4.40m14 -4.40v4.40m3 -4.40v4.40m6 -4.40v4.40m16 -4.40v4.40m11 -4.40v4.40m15 -4.40v4.40m4 -4.40v4.40m6 -4.40v4.40m3 -4.40v4.40m12 -4.40v4.40m9 -4.40v4.40m6 -4.40v4.40m2 -4.40v4.40m3 -4.40v4.40m1 -4.40v4.40m5 -4.40v4.40m1 -4.40v4.40m2 -4.40v4.40m3 -4.40v4.40m3 -4.40v4.40m1 -4.40v4.40" stroke="#84a2ae" stroke-width="1" fill="none"/>
<path d="M31.5 13v4.40m27 -4.40v4.40m2 -4.40v4.40m1 -4.40v4.40m26 -4.40v4.40m1 -4.40v4.40m6 -4.40v4.40m4 -4.40v4.40m12 -4.40v4.40m2 -4.40v4.40m1 -4.40v4.40m1 -4.40v4.40m7 -4.40v4.40m1 -4.40v4.40m16 -4.40v4.40m1 -4.40v4.40m2 -4.40v4.40m1 -4.40v4.40m19 -4.40v4.40m3 -4.40v4.40m24 -4.40v4.40m14 -4.40v4.40m1 -4.40v4.40m10 -4.40v4.40m4 -4.40v4.40m1 -4.40v4.40m14 -4.40v4.40m12 -4.40v4.40" stroke="#f6a83c" stroke-width="1" fill="none"/>
<path d="M18.5 18v4.30m6 -4.30v4.30m24 -4.30v4.30m2 -4.30v4.30m38 -4.30v4.30m10 -4.30v4.30m14 -4.30v4.30m21 -4.30v4.30m5 -4.30v4.30m7 -4.30v4.30m13 -4.30v4.30m29 -4.30v4.30m34 -4.30v4.30m3 -4.30v4.30m19 -4.30v4.30" stroke="#bab4de" stroke-width="1" fill="none"/>
<path d="M19.5 18v4.30m11 -4.30v4.30m41 -4.30v4.30m25 -4.30v4.30m13 -4.30v4.30m53 -4.30v4.30m89 -4.30v4.30" stroke="#9c90cc" stroke-width="1" fill="none"/>
<path d="M20.5 18v4.30m46 -4.30v4.30m74 -4.30v4.30m32 -4.30v4.30m1 -4.30v4.30m25 -4.30v4.30m34 -4.30v4.30" stroke="#9084cc" stroke-width="1" fill="none"/>
<path d="M21.5 18v4.30m52 -4.30v4.30m56 -4.30v4.30m6 -4.30v4.30m4 -4.30v4.30m12 -4.30v4.30m54 -4.30v4.30m15 -4.30v4.30" stroke="#c6c0e4" stroke-width="1" fill="none"/>
<path d="M22.5 18v4.30m11 -4.30v4.30m19 -4.30v4.30m145 -4.30v4.30" stroke="#ccc0e4" stroke-width="1" fill="none"/>
<path d="M23.5 18v4.30m9 -4.30v4.30m6 -4.30v4.30m27 -4.30v4.30m4 -4.30v4.30m7 -4.30v4.30m27 -4.30v4.30m16 -4.30v4.30m7 -4.30v4.30m29 -4.30v4.30m2 -4.30v4.30m28 -4.30v4.30m11 -4.30v4.30m18 -4.30v4.30m11 -4.30v4.30m16 -4.30v4.30m14 -4.30v4.30" stroke="#aea2d8" stroke-width="1" fill="none"/>
<path d="M25.5 18v4.30m4 -4.30v4.30m99 -4.30v4.30m9 -4.30v4.30m9 -4.30v4.30m7 -4.30v4.30m24 -4.30v4.30m11 -4.30v4.30" stroke="#b4aede" stroke-width="1" fill="none"/>
<path d="M26.5 18v4.30m41 -4.30v4.30m14 -4.30v4.30m21 -4.30v4.30m81 -4.30v4.30m12 -4.30v4.30" stroke="#b4aed8" stroke-width="1" fill="none"/>
<path d="M27.5 18v4.30m18 -4.30v4.30m12 -4.30v4.30m28 -4.30v4.30m12 -4.30v4.30m82 -4.30v4.30m13 -4.30v4.30m1 -4.30v4.30m47 -4.30v4.30m2 -4.30v4.30m4 -4.30v4.30" stroke="#a296d2" stroke-width="1" fill="none"/>
<path d="M28.5 18v4.30m12 -4.30v4.30m135 -4.30v4.30m6 -4.30v4.30m54 -4.30v4.30" stroke="#c0b4de" stroke-width="1" fill="none"/>
<path d="M31.5 18v4.30m12 -4.30v4.30m1 -4.30v4.30m5 -4.30v4.30m21 -4.30v4.30m12 -4.30v4.30m26 -4.30v4.30m9 -4.30v4.30m1 -4.30v4.30m3 -4.30v4.30m11 -4.30v4.30m2 -4.30v4.30m2 -4.30v4.30m34 -4.30v4.30m1 -4.30v4.30m33 -4.30v4.30m3 -4.30v4.30m15 -4.30v4.30m1 -4.30v4.30m4 -4.30v4.30m12 -4.30v4.30m6 -4.30v4.30m3 -4.30v4.30m1 -4.30v4.30" stroke="#b4a8d8" stroke-width="1" fill="none"/>
<path d="M34.5 18v4.30m38 -4.30v4.30m72 -4.30v4.30m6 -4.30v4.30m14 -4.30v4.30m53 -4.30v4.30m12 -4.30v4.30" stroke="#c0bae4" stroke-width="1" fill="none"/>
<path d="M35.5 18v4.30m18 -4.30v4.30m2 -4.30v4.30m20 -4.30v4.30m38 -4.30v4.30m12 -4.30v4.30m27 -4.30v4.30m8 -4.30v4.30m7 -4.30v4.30m23 -4.30v4.30m11 -4.30v4.30m8 -4.30v4.30m35 -4.30v4.30m3 -4.30v4.30m7 -4.30v4.30" stroke="#9c90d2" stroke-width="1" fill="none"/>
<path d="M36.5 18v4.30m56 -4.30v4.30m2 -4.30v4.30m53 -4.30v4.30m63 -4.30v4.30m2 -4.30v4.30m7 -4.30v4.30m17 -4.30v4.30" stroke="#baaede" stroke-width="1" fill="none"/>
<path d="M37.5 18v4.30m10 -4.30v4.30m40 -4.30v4.30m107 -4.30v4.30" stroke="#c6bae4" stroke-width="1" fill="none"/>
<path d="M39.5 18v4.30m117 -4.30v4.30m52 -4.30v4.30" stroke="#9c96d2" stroke-width="1" fill="none"/>
<path d="M41.5 18v4.30m18 -4.30v4.30m3 -4.30v4.30m2 -4.30v4.30m13 -4.30v4.30m13 -4.30v4.30m9 -4.30v4.30m17 -4.30v4.30m8 -4.30v4.30m7 -4.30v4.30m10 -4.30v4.30m37 -4.30v4.30m8 -4.30v4.30m13 -4.30v4.30m19 -4.30v4.30m10 -4.30v4.30m24 -4.30v4.30" stroke="#968acc" stroke-width="1" fill="none"/>
<path d="M42.5 18v4.30m72 -4.30v4.30m28 -4.30v4.30m1 -4.30v4.30m26 -4.30v4.30m11 -4.30v4.30m23 -4.30v4.30" stroke="#ccc6e4" stroke-width="1" fill="none"/>
<path d="M46.5 18v4.30m45 -4.30v4.30m15 -4.30v4.30m24 -4.30v4.30m70 -4.30v4.30m31 -4.30v4.30" stroke="#aea8d8" stroke-width="1" fill="none"/>
<path d="M51.5 18v4.30m50 -4.30v4.30m6 -4.30v4.30m69 -4.30v4.30m35 -4.30v4.30m4 -4.30v4.30" stroke="#d8d2ea" stroke-width="1" fill="none"/>
<path d="M54.5 18v4.30m14 -4.30v4.30m36 -4.30v4.30m50 -4.30v4.30m7 -4.30v4.30m13 -4.30v4.30m8 -4.30v4.30m44 -4.30v4.30m4 -4.30v4.30m7 -4.30v4.30" stroke="#a89cd2" stroke-width="1" fill="none"/>
<path d="M56.5 18v4.30" stroke="#7e6cc0" stroke-width="1" fill="none"/>
<path d="M58.5 18v4.30m47 -4.30v4.30" stroke="#8478c6" stroke-width="1" fill="none"/>
<path d="M60.5 18v4.30m3 -4.30v4.30m21 -4.30v4.30m2 -4.30v4.30m105 -4.30v4.30" stroke="#8a7ec6" stroke-width="1" fill="none"/>
<path d="M61.5 18v4.30m19 -4.30v4.30" stroke="#8a78c6" stroke-width="1" fill="none"/>
<path d="M74.5 18v4.30m36 -4.30v4.30m5 -4.30v4.30m98 -4.30v4.30m3 -4.30v4.30" stroke="#c0bade" stroke-width="1" fill="none"/>
<path d="M78.5 18v4.30m15 -4.30v4.30m27 -4.30v4.30m3 -4.30v4.30m45 -4.30v4.30m66 -4.30v4.30" stroke="#a8a2d8" stroke-width="1" fill="none"/>
<path d="M79.5 18v4.30m48 -4.30v4.30m21 -4.30v4.30m85 -4.30v4.30" stroke="#9684cc" stroke-width="1" fill="none"/>
<path d="M83.5 18v4.30m17 -4.30v4.30m65 -4.30v4.30" stroke="#d2ccea" stroke-width="1" fill="none"/>
<path d="M89.5 18v4.30m74 -4.30v4.30" stroke="#ded8f0" stroke-width="1" fill="none"/>
<path d="M95.5 18v4.30m27 -4.30v4.30m27 -4.30v4.30m10 -4.30v4.30m7 -4.30v4.30m18 -4.30v4.30m5 -4.30v4.30m13 -4.30v4.30" stroke="#a89cd8" stroke-width="1" fill="none"/>
<path d="M111.5 18v4.30m127 -4.30v4.30" stroke="#a29cd2" stroke-width="1" fill="none"/>
<path d="M206.5 18v4.30" stroke="#ccc6ea" stroke-width="1" fill="none"/>
<path d="M250.5 18v4.30m3 -4.30v4.30" stroke="#907ec6" stroke-width="1" fill="none"/>
<path d="M18.5 23v4.20m77 -4.20v4.20m39 -4.20v4.20m82 -4.20v4.20" stroke="#aec0c6" stroke-width="1" fill="none"/>
<path d="M19.5 23v4.20m8 -4.20v4.20m1 -4.20v4.20m1 -4.20v4.20m1 -4.20v4.20m1 -4.20v4.20m1 -4.20v4.20m4 -4.20v4.20m3 -4.20v4.20m1 -4.20v4.20m4 -4.20v4.20m2 -4.20v4.20m3 -4.20v4.20m1 -4.20v4.20m9 -4.20v4.20m1 -4.20v4.20m1 -4.20v4.20m4 -4.20v4.20m9 -4.20v4.20m7 -4.20v4.20m13 -4.20v4.20m4 -4.20v4.20m1 -4.20v4.20m1 -4.20v4.20m1 -4.20v4.20m3 -4.20v4.20m1 -4.20v4.20m3 -4.20v4.20m1 -4.20v4.20m12 -4.20v4.20m1 -4.20v4.20m6 -4.20v4.20m3 -4.20v4.20m5 -4.20v4.20m1 -4.20v4.20m2 -4.20v4.20m8 -4.20v4.20m1 -4.20v4.20m5 -4.20v4.20m4 -4.20v4.20m1 -4.20v4.20m11 -4.20v4.20m4 -4.20v4.20m3 -4.20v4.20m6 -4.20v4.20m1 -4.20v4.20m1 -4.20v4.20m1 -4.20v4.20m4 -4.20v4.20m1 -4.20v4.20m5 -4.20v4.20m3 -4.20v4.20m1 -4.20v4.20m13 -4.20v4.20m5 -4.20v4.20m2 -4.20v4.20m10 -4.20v4.20m1 -4.20v4.20m6 -4.20v4.20m5 -4.20v4.20m2 -4.20v4.20m3 -4.20v4.20m3 -4.20v4.20m1 -4.20v4.20m1 -4.20v4.20" stroke="#8ac0ea" stroke-width="1" fill="none"/>
<path d="M20.5 23v4.20m4 -4.20v4.20m9 -4.20v4.20m8 -4.20v4.20m4 -4.20v4.20m2 -4.20v4.20m1 -4.20v4.20m6 -4.20v4.20m8 -4.20v4.20m9 -4.20v4.20m13 -4.20v4.20m9 -4.20v4.20m17 -4.20v4.20m6 -4.20v4.20m4 -4.20v4.20m15 -4.20v4.20m3 -4.20v4.20m2 -4.20v4.20m9 -4.20v4.20m3 -4.20v4.20m4 -4.20v4.20m8 -4.20v4.20m4 -4.20v4.20m2 -4.20v4.20m18 -4.20v4.20m3 -4.20v4.20m3 -4.20v4.20m6 -4.20v4.20m3 -4.20v4.20m6 -4.20v4.20m6 -4.20v4.20m3 -4.20v4.20m4 -4.20v4.20m3 -4.20v4.20m3 -4.20v4.20m12 -4.20v4.20m2 -4.20v4.20m10 -4.20v4.20m-214 0.80v5.28m113 -5.28v5.28m-36 0v5.28m6 10.56v5.28m98 -5.28v5.28m-158 0v5.28m85 -0v5.28m-49 0v5.28m134 -5.28v5.28m-20 0v5.28m-1 0v5.28m-40 1.40v5.26m-141 0v5.26m64 -5.26v5.26m104 5.26v5.26m-141 5.26v5.26m42 -5.26v5.26m33 -5.26v5.26m47 -5.26v5.26m48 -5.26v5.26m-182 0v5.26m3 -5.26v5.26m50 -5.26v5.26m41 -5.26v5.26m-117 1.50v5.30m39 -5.30v5.30m32 -5.30v5.30" stroke="#dee4f0" stroke-width="1" fill="none"/>
<path d="M21.5 23v4.20m14 -4.20v4.20m7 -4.20v4.20m11 -4.20v4.20m3 -4.20v4.20m10 -4.20v4.20m2 -4.20v4.20m1 -4.20v4.20m3 -4.20v4.20m5 -4.20v4.20m1 -4.20v4.20m12 -4.20v4.20m2 -4.20v4.20m15 -4.20v4.20m4 -4.20v4.20m12 -4.20v4.20m6 -4.20v4.20m15 -4.20v4.20m15 -4.20v4.20m2 -4.20v4.20m1 -4.20v4.20m5 -4.20v4.20m4 -4.20v4.20m9 -4.20v4.20m6 -4.20v4.20m20 -4.20v4.20m1 -4.20v4.20m14 -4.20v4.20m3 -4.20v4.20m3 -4.20v4.20m6 -4.20v4.20m6 -4.20v4.20m9 -4.20v4.20m6 -4.20v4.20m1 -4.20v4.20" stroke="#a8ccea" stroke-width="1" fill="none"/>
<path d="M22.5 23v4.20m1 -4.20v4.20m3 -4.20v4.20m12 -4.20v4.20m13 -4.20v4.20m1 -4.20v4.20m5 -4.20v4.20m6 -4.20v4.20m4 -4.20v4.20m8 -4.20v4.20m1 -4.20v4.20m3 -4.20v4.20m1 -4.20v4.20m3 -4.20v4.20m3 -4.20v4.20m3 -4.20v4.20m2 -4.20v4.20m11 -4.20v4.20m10 -4.20v4.20m1 -4.20v4.20m4 -4.20v4.20m1 -4.20v4.20m1 -4.20v4.20m5 -4.20v4.20m1 -4.20v4.20m1 -4.20v4.20m6 -4.20v4.20m9 -4.20v4.20m1 -4.20v4.20m1 -4.20v4.20m2 -4.20v4.20m1 -4.20v4.20m9 -4.20v4.20m5 -4.20v4.20m5 -4.20v4.20m1 -4.20v4.20m11 -4.20v4.20m1 -4.20v4.20m1 -4.20v4.20m18 -4.20v4.20m7 -4.20v4.20m1 -4.20v4.20m5 -4.20v4.20m3 -4.20v4.20m18 -4.20v4.20m1 -4.20v4.20m2 -4.20v4.20m11 -4.20v4.20m-26 0.80v5.28m-37 10.56v5.28m-17 76.68v5.30" stroke="#fcf0f6" stroke-width="1" fill="none"/>
<path d="M87.5 23v4.20m63 -4.20v4.20m42 -4.20v4.20" stroke="#96c0de" stroke-width="1" fill="none"/>
<path d="M88.5 23v4.20m150 -4.20v4.20" stroke="#ded8d8" stroke-width="1" fill="none"/>
<path d="M96.5 23v4.20m78 -4.20v4.20m27 -4.20v4.20" stroke="#cccccc" stroke-width="1" fill="none"/>
<path d="M114.5 23v4.20m123 -4.20v4.20m-187 0.80v5.28m79 0v5.28m53 -5.28v5.28m4 -5.28v5.28m-42 0v5.28m-103 -0v5.28m165 0v5.28m-126 0v5.28m96 -5.28v5.28m-109 -0v5.28m1 -5.28v5.28m80 0v5.28m47 0v5.28m-62 0v5.28m33 -5.28v5.28m40 1.40v5.26m-172 0v5.26m47 -5.26v5.26m120 -5.26v5.26m13 -5.26v5.26m-170 5.26v5.26m198 -5.26v5.26m-156 0v5.26m76 -5.26v5.26m34 -5.26v5.26m38 -5.26v5.26m-138 0v5.26m38 6.76v5.30m-113 0v5.30m72 -5.30v5.30m159 -5.30v5.30m-133 0v5.30" stroke="#eae4ea" stroke-width="1" fill="none"/>
<path d="M115.5 23v4.20m36 -4.20v4.20m42 -4.20v4.20" stroke="#a2c0d2" stroke-width="1" fill="none"/>
<path d="M18.5 28v5.28m1 0v5.28m17 10.56v5.28m-17 5.28v5.28m21 0v5.28m-2 5.28v5.28m33 -5.28v5.28m31 -5.28v5.28m-69 22.43v5.26" stroke="#78a2d2" stroke-width="1" fill="none"/>
<path d="M19.5 28v5.28m5 -5.28v5.28m50 -5.28v5.28m-44 0v5.28m12 0v5.28m5 -5.28v5.28m33 -0v5.28m-62 0v5.28m25 -5.28v5.28m17 -5.28v5.28m24 -5.28v5.28m10 -5.28v5.28m-75 0v5.28m7 -5.28v5.28m4 -5.28v5.28m1 -5.28v5.28m10 -5.28v5.28m29 -5.28v5.28m8 -5.28v5.28m-51 -0v5.28m11 0v5.28m32 -5.28v5.28m-8 5.28v5.28m12 6.66v5.26m-35 0v5.26m42 -5.26v5.26m-42 0v5.26m12 -5.26v5.26m33 -5.26v5.26m21 0v5.26m-87 0v5.26m35 -5.26v5.26m22 -5.26v5.26m38 -5.26v5.26m16 -5.26v5.26m-96 0v5.26m16 -5.26v5.26m-30 1.50v5.30m18 -5.30v5.30m31 -5.30v5.30m48 -5.30v5.30m16 -5.30v5.30m74 0v5.30m-180 0v5.30m10 -5.30v5.30m9 -5.30v5.30m4 -5.30v5.30m7 -5.30v5.30m4 -5.30v5.30m6 -5.30v5.30m20 -5.30v5.30m16 -5.30v5.30m3 -5.30v5.30m2 -5.30v5.30" stroke="#9cbade" stroke-width="1" fill="none"/>
<path d="M20.5 28v5.28m9 -5.28v5.28m197 -5.28v5.28m-195 0v5.28m12 -5.28v5.28m21 -5.28v5.28m15 -5.28v5.28m19 -5.28v5.28m108 -5.28v5.28m-165 0v5.28m49 -5.28v5.28m-37 -0v5.28m-34 0v5.28m21 -5.28v5.28m35 -5.28v5.28m5 -5.28v5.28m12 -5.28v5.28m41 -5.28v5.28m-86 0v5.28m5 -5.28v5.28m46 -5.28v5.28m44 -5.28v5.28m-104 -0v5.28m20 -5.28v5.28m3 -5.28v5.28m40 -5.28v5.28m49 -5.28v5.28m-114 0v5.28m19 -5.28v5.28m6 -5.28v5.28m1 -5.28v5.28m70 -5.28v5.28m31 -5.28v5.28m21 -5.28v5.28m-137 0v5.28m3 -5.28v5.28m134 -5.28v5.28m-154 0v5.28m161 -5.28v5.28m31 -5.28v5.28m-174 1.40v5.26m-12 0v5.26m9 -5.26v5.26m-12 0v5.26m37 -5.26v5.26m40 -5.26v5.26m133 -5.26v5.26m-135 0v5.26m15 -5.26v5.26m1 -5.26v5.26m-106 0v5.26m24 -5.26v5.26m38 -5.26v5.26m1 -5.26v5.26m1 -5.26v5.26m7 -5.26v5.26m104 -5.26v5.26m-163 0v5.26m12 -5.26v5.26m34 -5.26v5.26m30 -5.26v5.26m22 -5.26v5.26m39 -5.26v5.26m-143 6.76v5.30m28 -5.30v5.30m22 -5.30v5.30m5 -5.30v5.30m4 -5.30v5.30m44 -5.30v5.30m19 -5.30v5.30m22 -5.30v5.30m-110 0v5.30m21 -5.30v5.30m5 -5.30v5.30m10 -5.30v5.30m29 -5.30v5.30m68 -5.30v5.30m52 -5.30v5.30m-172 0v5.30m21 -5.30v5.30m8 -5.30v5.30m12 -5.30v5.30m37 -5.30v5.30m48 -5.30v5.30" stroke="#aec6e4" stroke-width="1" fill="none"/>
<path d="M21.5 28v5.28m191 0v5.28m20 0v5.28m-208 -0v5.28m145 5.28v5.28m-7 5.28v5.28m-21 5.28v5.28m2 1.40v5.26m65 0v5.26m7 0v5.26m-165 5.26v5.26m88 0v5.26m74 6.76v5.30m-193 0v5.30m165 -5.30v5.30m43 -5.30v5.30m-113 0v5.30" stroke="#eadee4" stroke-width="1" fill="none"/>
<path d="M22.5 28v5.28m53 -5.28v5.28m-28 0v5.28m130 -5.28v5.28m-125 0v5.28m10 -5.28v5.28m40 -5.28v5.28m-31 10.56v5.28m152 -5.28v5.28m-151 -0v5.28m13 -5.28v5.28m-44 0v5.28m9 -5.28v5.28m-32 5.28v5.28m33 -5.28v5.28m38 -5.28v5.28m90 -5.28v5.28m-142 1.40v5.26m50 -5.26v5.26m-69 10.51v5.26m31 -5.26v5.26m36 -5.26v5.26m17 -5.26v5.26m-42 0v5.26m14 -5.26v5.26m-19 0v5.26m29 -5.26v5.26m20 -5.26v5.26m-11 0v5.26m-75 1.50v5.30m11 -5.30v5.30m197 -5.30v5.30m-166 0v5.30m-37 0v5.30" stroke="#a8c0e4" stroke-width="1" fill="none"/>
<path d="M25.5 28v5.28m18 5.28v5.28m50 15.84v5.28m-74 0v5.28m8 0v5.28m9 -5.28v5.28m18 -5.28v5.28m-34 0v5.28m11 -5.28v5.28m15 -5.28v5.28m88 -5.28v5.28m-59 11.91v5.26m-49 0v5.26m-3 17.27v5.30m21 -5.30v5.30m-18 0v5.30m4 -5.30v5.30m45 0v5.30m43 -5.30v5.30" stroke="#7ea2d2" stroke-width="1" fill="none"/>
<path d="M26.5 28v5.28m-3 0v5.28m52 -5.28v5.28m-50 0v5.28m2 -5.28v5.28m6 -5.28v5.28m-9 15.84v5.28m7 -5.28v5.28m8 10.56v5.28m3 1.40v5.26m-17 10.51v5.26m50 0v5.26m-39 0v5.26m19 0v5.26m-29 1.50v5.30m7 0v5.30m15 0v5.30m81 -5.30v5.30" stroke="#729ccc" stroke-width="1" fill="none"/>
<path d="M27.5 28v5.28m0 42.24v5.28m-5 17.17v5.26" stroke="#487ec0" stroke-width="1" fill="none"/>
<path d="M28.5 28v5.28m44 -5.28v5.28m-48 0v5.28m10 0v5.28m19 -5.28v5.28m46 -5.28v5.28m-28 5.28v5.28m-41 5.28v5.28m33 -5.28v5.28m11 -5.28v5.28m-30 10.56v5.28m19 -5.28v5.28m5 -5.28v5.28m2 -5.28v5.28m-45 6.66v5.26m11 5.26v5.26m188 -5.26v5.26m-194 0v5.26m9 -5.26v5.26m12 -5.26v5.26m-13 5.26v5.26m7 -5.26v5.26m-5 1.50v5.30m57 -5.30v5.30m5 -5.30v5.30m-65 5.30v5.30m189 -5.30v5.30" stroke="#96b4d8" stroke-width="1" fill="none"/>
<path d="M31.5 28v5.28m45 -5.28v5.28m59 -5.28v5.28m97 -5.28v5.28m-203 0v5.28m17 -5.28v5.28m16 -5.28v5.28m25 0v5.28m24 -5.28v5.28m1 -5.28v5.28m2 -5.28v5.28m15 -5.28v5.28m44 -5.28v5.28m-131 -0v5.28m23 -5.28v5.28m-11 0v5.28m18 -5.28v5.28m135 -5.28v5.28m-172 0v5.28m19 -5.28v5.28m28 -5.28v5.28m24 -5.28v5.28m11 -5.28v5.28m10 -5.28v5.28m68 -5.28v5.28m17 -5.28v5.28m-129 -0v5.28m9 -5.28v5.28m22 -5.28v5.28m53 -5.28v5.28m-139 0v5.28m19 -5.28v5.28m6 -5.28v5.28m37 -5.28v5.28m26 -5.28v5.28m116 -5.28v5.28m-208 0v5.28m59 -5.28v5.28m107 -5.28v5.28m-133 0v5.28m140 -5.28v5.28m20 -5.28v5.28m21 -5.28v5.28m-210 1.40v5.26m55 -5.26v5.26m134 -5.26v5.26m-187 0v5.26m-4 0v5.26m10 -5.26v5.26m5 -5.26v5.26m39 -5.26v5.26m-1 0v5.26m7 -5.26v5.26m-25 0v5.26m29 -5.26v5.26m36 -5.26v5.26m18 -5.26v5.26m-121 0v5.26m60 -5.26v5.26m2 -5.26v5.26m8 -5.26v5.26m2 -5.26v5.26m8 -5.26v5.26m7 -5.26v5.26m48 -5.26v5.26m8 -5.26v5.26m-78 0v5.26m6 -5.26v5.26m-46 1.50v5.30m3 -5.30v5.30m52 -5.30v5.30m44 -5.30v5.30m18 -5.30v5.30m-141 0v5.30m19 -5.30v5.30m18 -5.30v5.30m8 -5.30v5.30m2 -5.30v5.30m4 -5.30v5.30m31 -5.30v5.30m9 -5.30v5.30m70 -5.30v5.30m-70 0v5.30m28 -5.30v5.30m11 -5.30v5.30m4 -5.30v5.30m14 -5.30v5.30" stroke="#c6d8ea" stroke-width="1" fill="none"/>
<path d="M32.5 28v5.28m4 -5.28v5.28m9 5.28v5.28m25 -5.28v5.28m-41 5.28v5.28m10 -5.28v5.28m50 -5.28v5.28m-12 0v5.28m4 -5.28v5.28m-44 -0v5.28m22 -5.28v5.28m30 -5.28v5.28m-55 0v5.28m37 -5.28v5.28m107 -5.28v5.28m-108 0v5.28m9 -5.28v5.28m16 0v5.28m-52 1.40v5.26m78 -5.26v5.26m-74 0v5.26m73 -5.26v5.26m-47 0v5.26m36 0v5.26m-73 0v5.26m182 -5.26v5.26m-161 17.31v5.30m34 0v5.30m35 -5.30v5.30" stroke="#a8c0de" stroke-width="1" fill="none"/>
<path d="M33.5 28v5.28m22 0v5.28m8 -5.28v5.28m24 -5.28v5.28m-56 0v5.28m5 -5.28v5.28m13 -0v5.28m3 0v5.28m12 -5.28v5.28m17 -5.28v5.28m-36 0v5.28m-25 -0v5.28m8 -5.28v5.28m-1 0v5.28m33 -5.28v5.28m7 -5.28v5.28m1 -5.28v5.28m4 0v5.28m-7 6.68v5.26m93 -5.26v5.26m48 0v5.26m-188 0v5.26m20 -5.26v5.26m34 0v5.26m4 0v5.26m-29 0v5.26m11 -5.26v5.26m-32 0v5.26m21 1.50v5.30m73 -5.30v5.30m-64 0v5.30m58 -5.30v5.30m13 0v5.30m65 -5.30v5.30" stroke="#a2c0de" stroke-width="1" fill="none"/>
<path d="M37.5 28v5.28m43 -5.28v5.28m-35 0v5.28m-26 0v5.28m25 -5.28v5.28m49 5.28v5.28m-72 0v5.28m21 -0v5.28m-16 10.56v5.28m7 -5.28v5.28m25 -5.28v5.28m23 -5.28v5.28m-48 6.66v5.26m9 0v5.26m20 5.26v5.26m54 -5.26v5.26m7 0v5.26m-101 6.76v5.30m3 -5.30v5.30m152 -5.30v5.30m20 -5.30v5.30m-132 0v5.30m78 -5.30v5.30m-116 0v5.30m66 -5.30v5.30" stroke="#90aed8" stroke-width="1" fill="none"/>
<path d="M39.5 28v5.28m159 15.84v5.28m-142 0v5.28m-21 -0v5.28m92 -5.28v5.28m73 5.28v5.28m43 -5.28v5.28m-76 0v5.28m-126 1.40v5.26m62 10.51v5.26m50 -5.26v5.26m-65 0v5.26m-28 5.26v5.26m-29 1.50v5.30m69 0v5.30m-53 0v5.30" stroke="#ccd2e4" stroke-width="1" fill="none"/>
<path d="M40.5 28v5.28m88 0v5.28m-44 0v5.28m132 -5.28v5.28m-140 10.56v5.28m47 -0v5.28m94 -5.28v5.28m-19 10.56v5.28m-119 6.66v5.26m74 -5.26v5.26m-129 5.26v5.26m180 -5.26v5.26m20 0v5.26m12 12.01v5.30m-185 0v5.30m130 -5.30v5.30m60 -5.30v5.30m-158 0v5.30" stroke="#ccccde" stroke-width="1" fill="none"/>
<path d="M41.5 28v5.28m53 -5.28v5.28m33 -5.28v5.28m-33 0v5.28m78 0v5.28m50 5.28v5.28m-98 0v5.28m-2 -0v5.28m58 -5.28v5.28m12 -5.28v5.28m-137 5.28v5.28m67 -5.28v5.28m85 17.19v5.26m-177 0v5.26m37 5.26v5.26m-49 0v5.26m9 -5.26v5.26m143 12.10v5.30" stroke="#d8deea" stroke-width="1" fill="none"/>
<path d="M42.5 28v5.28m19 0v5.28m-39 0v5.28m2 -5.28v5.28m13 -5.28v5.28m17 -5.28v5.28m-32 5.28v5.28m28 -5.28v5.28m22 0v5.28m-48 5.28v5.28m-3 5.28v5.28m16 6.66v5.26m-18 5.26v5.26m24 -5.26v5.26m9 -5.26v5.26m63 0v5.26m-80 0v5.26m6 -5.26v5.26m10 -5.26v5.26m38 -5.26v5.26m-57 0v5.26m102 12.10v5.30" stroke="#84a8d8" stroke-width="1" fill="none"/>
<path d="M44.5 28v5.28m21 0v5.28m62 0v5.28m77 -5.28v5.28m-54 -0v5.28m43 0v5.28m-60 0v5.28m-27 5.28v5.28m80 -5.28v5.28m-121 0v5.28m21 -5.28v5.28m118 -5.28v5.28m6 -5.28v5.28m-144 0v5.28m16 1.40v5.26m36 -5.26v5.26m84 -5.26v5.26m-4 0v5.26m-31 5.26v5.26m67 -5.26v5.26m-185 0v5.26m128 -5.26v5.26m-123 0v5.26m9 -5.26v5.26m1 -5.26v5.26m167 -5.26v5.26m-154 6.76v5.30m7 -5.30v5.30m22 -5.30v5.30m23 -5.30v5.30m-4 0v5.30m76 -5.30v5.30m29 -5.30v5.30" stroke="#f0f0f6" stroke-width="1" fill="none"/>
<path d="M45.5 28v5.28m89 -5.28v5.28m37 -5.28v5.28m-133 0v5.28m11 -5.28v5.28m11 0v5.28m53 -5.28v5.28m-49 10.56v5.28m9 -5.28v5.28m35 -5.28v5.28m123 -0v5.28m-198 0v5.28m55 -5.28v5.28m-46 0v5.28m74 -5.28v5.28m101 -5.28v5.28m-161 0v5.28m20 -5.28v5.28m-12 1.40v5.26m-4 10.51v5.26m2 -5.26v5.26m163 -5.26v5.26m-147 10.51v5.26m-40 1.50v5.30m40 -5.30v5.30m46 -5.30v5.30m50 0v5.30m-154 0v5.30m32 -5.30v5.30m3 -5.30v5.30m35 -5.30v5.30m4 -5.30v5.30" stroke="#bacce4" stroke-width="1" fill="none"/>
<path d="M46.5 28v5.28m17 -5.28v5.28m10 -5.28v5.28m-53 0v5.28m39 0v5.28m-18 5.28v5.28m15 -5.28v5.28m14 -5.28v5.28m-2 0v5.28m22 -5.28v5.28m59 -0v5.28m-96 5.28v5.28m-26 6.68v5.26m11 -5.26v5.26m9 -5.26v5.26m143 -5.26v5.26m-145 10.51v5.26m161 -5.26v5.26m-153 0v5.26m79 -5.26v5.26m-95 0v5.26m60 -5.26v5.26m-17 0v5.26m-9 1.50v5.30m-32 0v5.30m62 -5.30v5.30m72 -5.30v5.30" stroke="#b4c6e4" stroke-width="1" fill="none"/>
<path d="M51.5 28v5.28m-24 0v5.28m141 -5.28v5.28m-138 5.28v5.28m38 0v5.28m-34 0v5.28m51 -5.28v5.28m74 -5.28v5.28m-59 -0v5.28m139 -5.28v5.28m-180 0v5.28m7 -5.28v5.28m12 -5.28v5.28m-35 0v5.28m32 -5.28v5.28m-3 0v5.28m-27 1.40v5.26m173 -5.26v5.26m-186 5.26v5.26m20 -5.26v5.26m-25 0v5.26m34 -5.26v5.26m68 -5.26v5.26m14 0v5.26m-11 0v5.26m59 -5.26v5.26m37 -5.26v5.26m-197 0v5.26m11 1.50v5.30m14 -5.30v5.30m-36 0v5.30m24 -5.30v5.30m30 -5.30v5.30m-34 0v5.30m36 -5.30v5.30m5 -5.30v5.30" stroke="#baccea" stroke-width="1" fill="none"/>
<path d="M56.5 28v5.28m24 31.68v5.28m40 -5.28v5.28m20 0v5.28m-94 32.97v5.26m8 0v5.26" stroke="#deb4ba" stroke-width="1" fill="none"/>
<path d="M57.5 28v5.28m14 59.43v5.26" stroke="#9ca8cc" stroke-width="1" fill="none"/>
<path d="M58.5 28v5.28m25 21.12v5.28m106 -0v5.28" stroke="#b4b4d2" stroke-width="1" fill="none"/>
<path d="M59.5 28v5.28m31 -5.28v5.28m77 -5.28v5.28m20 -5.28v5.28m-92 0v5.28m98 -5.28v5.28m23 -5.28v5.28m-129 5.28v5.28m73 -5.28v5.28m30 -5.28v5.28m4 -5.28v5.28m9 -5.28v5.28m1 -5.28v5.28m-104 0v5.28m36 -5.28v5.28m43 -5.28v5.28m-84 0v5.28m40 -5.28v5.28m112 -5.28v5.28m-121 5.28v5.28m17 -5.28v5.28m4 -5.28v5.28m3 -5.28v5.28m1 -5.28v5.28m47 -5.28v5.28m11 -5.28v5.28m4 -5.28v5.28m4 -5.28v5.28m22 0v5.28m-149 0v5.28m52 -5.28v5.28m26 -5.28v5.28m44 -5.28v5.28m18 -5.28v5.28m1 -5.28v5.28m6 -5.28v5.28m17 -5.28v5.28m-145 1.40v5.26m74 -5.26v5.26m12 -5.26v5.26m56 -5.26v5.26m-47 0v5.26m33 0v5.26m-75 0v5.26m65 -5.26v5.26m-120 0v5.26m41 -5.26v5.26m38 -5.26v5.26m36 -5.26v5.26m-113 0v5.26m39 -5.26v5.26m64 -5.26v5.26m25 -5.26v5.26m9 -5.26v5.26m3 -5.26v5.26m-221 0v5.26m79 -5.26v5.26m54 -5.26v5.26m30 -5.26v5.26m1 -5.26v5.26m19 -5.26v5.26m22 -5.26v5.26m9 -5.26v5.26m-176 1.50v5.30m86 -5.30v5.30m23 -5.30v5.30m7 -5.30v5.30m38 -5.30v5.30m-8 0v5.30m34 -5.30v5.30m-3 0v5.30" stroke="#f6c0c0" stroke-width="1" fill="none"/>
<path d="M60.5 28v5.28m-28 0v5.28m7 -5.28v5.28m37 0v5.28m3 -5.28v5.28m-53 5.28v5.28m7 -5.28v5.28m107 -5.28v5.28m-85 0v5.28m-19 -0v5.28m13 -5.28v5.28m119 -5.28v5.28m-142 0v5.28m5 -5.28v5.28m-1 0v5.28m2 -5.28v5.28m13 0v5.28m8 -5.28v5.28m74 -5.28v5.28m-100 6.66v5.26m5 5.26v5.26m48 -5.26v5.26m-9 0v5.26m-44 12.01v5.30m16 -5.30v5.30m11 -5.30v5.30m79 -5.30v5.30m-85 0v5.30m14 -5.30v5.30m51 -5.30v5.30m-48 0v5.30m131 -5.30v5.30" stroke="#8aaed8" stroke-width="1" fill="none"/>
<path d="M62.5 28v5.28m-18 0v5.28m-6 10.56v5.28m15 -5.28v5.28m-28 0v5.28m0 -0v5.28m16 -5.28v5.28m-16 5.28v5.28" stroke="#7ea8d2" stroke-width="1" fill="none"/>
<path d="M64.5 28v5.28m85 -5.28v5.28m51 -5.28v5.28m23 -5.28v5.28m-78 0v5.28m25 -5.28v5.28m68 -5.28v5.28m-93 0v5.28m21 -5.28v5.28m23 -5.28v5.28m5 -5.28v5.28m36 -5.28v5.28m3 -5.28v5.28m6 -5.28v5.28m-149 -0v5.28m43 -5.28v5.28m2 -5.28v5.28m56 -5.28v5.28m-78 0v5.28m73 -5.28v5.28m8 -5.28v5.28m11 -5.28v5.28m-35 0v5.28m11 -5.28v5.28m35 -5.28v5.28m-70 5.28v5.28m35 -5.28v5.28m18 -5.28v5.28m1 -5.28v5.28m11 -5.28v5.28m9 -5.28v5.28m-120 0v5.28m41 -5.28v5.28m9 -5.28v5.28m20 -5.28v5.28m-14 0v5.28m32 -5.28v5.28m7 -5.28v5.28m1 -5.28v5.28m40 -5.28v5.28m11 -5.28v5.28m-190 1.40v5.26m35 -5.26v5.26m73 -5.26v5.26m78 -5.26v5.26m4 -5.26v5.26m-157 0v5.26m5 -5.26v5.26m16 -5.26v5.26m1 -5.26v5.26m132 -5.26v5.26m-181 0v5.26m68 -5.26v5.26m63 -5.26v5.26m26 -5.26v5.26m-45 0v5.26m4 -5.26v5.26m-67 0v5.26m26 -5.26v5.26m9 -5.26v5.26m25 -5.26v5.26m53 -5.26v5.26m8 0v5.26m-169 0v5.26m39 -5.26v5.26m55 -5.26v5.26m79 -5.26v5.26m4 -5.26v5.26m-98 1.50v5.30m92 -5.30v5.30m-168 0v5.30m63 -5.30v5.30m15 -5.30v5.30m14 -5.30v5.30m66 -5.30v5.30m-102 0v5.30m16 -5.30v5.30m14 -5.30v5.30" stroke="#fcd2d2" stroke-width="1" fill="none"/>
<path d="M65.5 28v5.28m161 5.28v5.28m-144 5.28v5.28m-6 10.56v5.28m16 -5.28v5.28m-34 17.22v5.26m110 -5.26v5.26m23 -5.26v5.26m-115 0v5.26m94 0v5.26m-24 5.26v5.26m-111 6.76v5.30m90 5.30v5.30" stroke="#dedeea" stroke-width="1" fill="none"/>
<path d="M67.5 28v5.28m172 -5.28v5.28m-50 0v5.28m49 10.56v5.28m-97 0v5.28m24 -0v5.28m-136 0v5.28m85 5.28v5.28m32 1.40v5.26m93 -5.26v5.26m-174 0v5.26m99 -5.26v5.26m-10 0v5.26m2 0v5.26m84 -5.26v5.26m-144 0v5.26m24 -5.26v5.26m43 0v5.26m-114 6.76v5.30m105 0v5.30m9 0v5.30m5 -5.30v5.30" stroke="#f6e4e4" stroke-width="1" fill="none"/>
<path d="M71.5 28v5.28m8 -5.28v5.28m64 -5.28v5.28m58 -5.28v5.28m-173 0v5.28m28 -5.28v5.28m24 -5.28v5.28m144 -5.28v5.28m-189 0v5.28m11 -5.28v5.28m42 -5.28v5.28m-69 -0v5.28m7 -5.28v5.28m12 -5.28v5.28m34 -5.28v5.28m-11 0v5.28m6 -5.28v5.28m108 -5.28v5.28m43 -5.28v5.28m-139 0v5.28m23 -5.28v5.28m30 -5.28v5.28m89 -5.28v5.28m-182 -0v5.28m26 -5.28v5.28m-45 0v5.28m36 -5.28v5.28m13 -5.28v5.28m5 -5.28v5.28m20 0v5.28m-59 0v5.28m12 -5.28v5.28m3 -5.28v5.28m30 -5.28v5.28m-54 1.40v5.26m13 -5.26v5.26m10 -5.26v5.26m81 -5.26v5.26m-55 0v5.26m24 -5.26v5.26m85 -5.26v5.26m-111 5.26v5.26m96 -5.26v5.26m48 -5.26v5.26m-198 0v5.26m3 -5.26v5.26m30 -5.26v5.26m-31 0v5.26m17 -5.26v5.26m39 -5.26v5.26m107 -5.26v5.26m20 -5.26v5.26m15 -5.26v5.26m5 -5.26v5.26m-104 0v5.26m6 -5.26v5.26m6 -5.26v5.26m8 -5.26v5.26m-112 1.50v5.30m27 -5.30v5.30m14 -5.30v5.30m1 0v5.30m101 -5.30v5.30m15 -5.30v5.30m-132 0v5.30m49 -5.30v5.30m56 -5.30v5.30m1 -5.30v5.30m29 -5.30v5.30m56 -5.30v5.30" stroke="#b4cce4" stroke-width="1" fill="none"/>
<path d="M77.5 28v5.28m128 5.28v5.28" stroke="#f6ccd2" stroke-width="1" fill="none"/>
<path d="M82.5 28v5.28m21 5.28v5.28m-49 -0v5.28m48 10.56v5.28m-39 38.27v5.26m0 12.01v5.30" stroke="#b4c6de" stroke-width="1" fill="none"/>
<path d="M83.5 28v5.28m34 -5.28v5.28m-69 0v5.28m44 -5.28v5.28m35 -5.28v5.28m-64 0v5.28m23 -0v5.28m5 15.84v5.28m-56 0v5.28m73 0v5.28m115 -5.28v5.28m-171 1.40v5.26m73 -5.26v5.26m-103 0v5.26m6 -5.26v5.26m87 -5.26v5.26m31 0v5.26m-112 0v5.26m36 -5.26v5.26m162 -5.26v5.26m-204 0v5.26m204 12.01v5.30m-123 5.30v5.30m99 -5.30v5.30m30 -5.30v5.30" stroke="#d8d8e4" stroke-width="1" fill="none"/>
<path d="M86.5 28v5.28m0 15.84v5.28m63 -5.28v5.28m60 0v5.28m-124 22.52v5.26m-57 5.26v5.26m93 -5.26v5.26m12 -5.26v5.26m118 0v5.26m-78 5.26v5.26m26 -5.26v5.26m36 17.36v5.30m1 -5.30v5.30" stroke="#f0c0c0" stroke-width="1" fill="none"/>
<path d="M89.5 28v5.28m95 21.12v5.28m-127 -0v5.28m26 0v5.28m1 -5.28v5.28m111 -5.28v5.28m-12 5.28v5.28m21 -5.28v5.28m-13 1.40v5.26m-99 0v5.26m2 27.79v5.30m4 -5.30v5.30m6 -5.30v5.30m101 -5.30v5.30m-135 5.30v5.30m40 -5.30v5.30" stroke="#dee4f6" stroke-width="1" fill="none"/>
<path d="M95.5 28v5.28m14 15.84v5.28m63 -5.28v5.28m-62 5.28v5.28m26 -5.28v5.28m17 -5.28v5.28m2 -5.28v5.28m-29 10.56v5.28m118 -5.28v5.28m-176 1.40v5.26m56 5.26v5.26m-17 0v5.26m17 0v5.26m48 12.01v5.30m53 -5.30v5.30m-33 0v5.30m3 0v5.30" stroke="#e4d2d8" stroke-width="1" fill="none"/>
<path d="M96.5 28v5.28m149 26.40v5.28m-123 43.53v5.26m77 12.06v5.30" stroke="#de9ca2" stroke-width="1" fill="none"/>
<path d="M97.5 28v5.28m-1 0v5.28m16 -5.28v5.28m97 -5.28v5.28m-88 0v5.28m26 -5.28v5.28m35 -5.28v5.28m45 -5.28v5.28m13 -5.28v5.28m6 -5.28v5.28m-201 -0v5.28m93 -5.28v5.28m8 -5.28v5.28m1 -5.28v5.28m42 -5.28v5.28m19 -5.28v5.28m11 -5.28v5.28m22 -5.28v5.28m-114 0v5.28m-18 5.28v5.28m137 5.28v5.28m-124 0v5.28m39 -5.28v5.28m-57 1.40v5.26m73 -5.26v5.26m-16 0v5.26m38 -5.26v5.26m6 -5.26v5.26m19 -5.26v5.26m3 -5.26v5.26m-198 0v5.26m28 -5.26v5.26m42 -5.26v5.26m41 -5.26v5.26m1 -5.26v5.26m2 -5.26v5.26m29 -5.26v5.26m4 -5.26v5.26m72 -5.26v5.26m-3 5.26v5.26m-96 5.26v5.26m12 1.50v5.30m9 -5.30v5.30m64 -5.30v5.30m15 -5.30v5.30m-220 0v5.30m90 -5.30v5.30m42 -5.30v5.30m61 0v5.30m17 -5.30v5.30" stroke="#f6aeae" stroke-width="1" fill="none"/>
<path d="M99.5 28v5.28m96 0v5.28m-90 0v5.28m65 -5.28v5.28m-133 5.28v5.28m61 -5.28v5.28m-35 0v5.28m95 -5.28v5.28m-108 -0v5.28m48 -5.28v5.28m-68 0v5.28m4 0v5.28m50 -5.28v5.28m-61 6.68v5.26m35 -5.26v5.26m13 -5.26v5.26m-21 0v5.26m3 0v5.26m36 -5.26v5.26m42 0v5.26m-107 0v5.26m48 -5.26v5.26m61 -5.26v5.26m-19 0v5.26m55 0v5.26m-18 1.50v5.30m4 -5.30v5.30m2 0v5.30m-70 0v5.30m59 -5.30v5.30m68 -5.30v5.30m2 -5.30v5.30" stroke="#ccd8ea" stroke-width="1" fill="none"/>
<path d="M100.5 28v5.28m64 26.40v5.28m-110 0v5.28m35 11.96v5.26m107 -5.26v5.26m29 0v5.26m-148 10.51v5.26" stroke="#f0e4e4" stroke-width="1" fill="none"/>
<path d="M101.5 28v5.28m-31 10.56v5.28m-25 0v5.28" stroke="#96aed2" stroke-width="1" fill="none"/>
<path d="M103.5 28v5.28m-22 31.68v5.28m46 55.56v5.30" stroke="#b4bad2" stroke-width="1" fill="none"/>
<path d="M104.5 28v5.28m8 15.84v5.28m36 0v5.28m-11 10.56v5.28m66 -5.28v5.28m-48 0v5.28m65 1.40v5.26m3 0v5.26m-62 0v5.26m3 -5.26v5.26m11 5.26v5.26m6 -5.26v5.26m54 -5.26v5.26m-98 0v5.26m82 0v5.26m-48 1.50v5.30m37 -5.30v5.30" stroke="#f6b4ae" stroke-width="1" fill="none"/>
<path d="M105.5 28v5.28m32 0v5.28m3 -5.28v5.28m79 -5.28v5.28m10 0v5.28m-151 -0v5.28m43 -5.28v5.28m3 -5.28v5.28m98 -5.28v5.28m-84 0v5.28m25 0v5.28m28 -5.28v5.28m-95 -0v5.28m60 -5.28v5.28m69 -5.28v5.28m-130 0v5.28m44 -5.28v5.28m15 -5.28v5.28m16 -5.28v5.28m31 -5.28v5.28m38 -5.28v5.28m-78 0v5.28m25 -5.28v5.28m10 -5.28v5.28m2 -5.28v5.28m20 -5.28v5.28m3 -5.28v5.28m-134 0v5.28m67 -5.28v5.28m4 -5.28v5.28m2 1.40v5.26m40 -5.26v5.26m15 -5.26v5.26m18 -5.26v5.26m-210 0v5.26m132 -5.26v5.26m76 -5.26v5.26m-109 0v5.26m20 -5.26v5.26m24 -5.26v5.26m25 -5.26v5.26m47 -5.26v5.26m3 -5.26v5.26m-87 0v5.26m59 -5.26v5.26m13 -5.26v5.26m-139 0v5.26m91 -5.26v5.26m4 -5.26v5.26m3 -5.26v5.26m45 -5.26v5.26m-76 0v5.26m11 -5.26v5.26m15 -5.26v5.26m-21 0v5.26m66 -5.26v5.26m-72 1.50v5.30m-61 0v5.30m55 0v5.30m74 -5.30v5.30m4 -5.30v5.30" stroke="#fccccc" stroke-width="1" fill="none"/>
<path d="M106.5 28v5.28m136 97.82v5.30" stroke="#a2a8cc" stroke-width="1" fill="none"/>
<path d="M107.5 28v5.28m73 -5.28v5.28m5 -5.28v5.28m-28 0v5.28m17 -5.28v5.28m13 -5.28v5.28m34 -5.28v5.28m1 -5.28v5.28m10 -5.28v5.28m-76 0v5.28m72 -5.28v5.28m-100 -0v5.28m9 -5.28v5.28m40 -5.28v5.28m49 -5.28v5.28m4 -5.28v5.28m-95 0v5.28m52 -5.28v5.28m46 -5.28v5.28m-118 0v5.28m-9 -0v5.28m120 -5.28v5.28m27 -5.28v5.28m-12 17.24v5.26m-134 0v5.26m105 -5.26v5.26m35 -5.26v5.26m-26 0v5.26m18 -5.26v5.26m1 -5.26v5.26m-25 0v5.26m-158 0v5.26m107 0v5.26m24 0v5.26m55 -5.26v5.26m1 -5.26v5.26m-31 1.50v5.30m42 -5.30v5.30m-77 0v5.30m-16 0v5.30" stroke="#f6a2a2" stroke-width="1" fill="none"/>
<path d="M108.5 28v5.28m60 -5.28v5.28m-83 5.28v5.28m70 -5.28v5.28m-88 -0v5.28m157 0v5.28m-60 10.56v5.28m47 5.28v5.28m-104 11.91v5.26m68 -5.26v5.26m-104 0v5.26m158 5.26v5.26m-88 0v5.26m-86 6.80v5.30m131 0v5.30" stroke="#ead2d8" stroke-width="1" fill="none"/>
<path d="M109.5 28v5.28m32 -5.28v5.28m26 0v5.28m24 -5.28v5.28m45 5.28v5.28m-146 0v5.28m131 5.28v5.28m-9 38.27v5.26" stroke="#f0baba" stroke-width="1" fill="none"/>
<path d="M110.5 28v5.28m3 -5.28v5.28m77 -5.28v5.28m-47 0v5.28m9 -5.28v5.28m85 -5.28v5.28m-141 0v5.28m-10 10.56v5.28m80 -0v5.28m60 5.28v5.28m9 -5.28v5.28m-214 17.19v5.26m81 5.26v5.26m43 -5.26v5.26" stroke="#f0b4b4" stroke-width="1" fill="none"/>
<path d="M111.5 28v5.28m-28 5.28v5.28m-55 5.28v5.28m102 -5.28v5.28m31 0v5.28m-30 -0v5.28m18 5.28v5.28m-38 27.71v5.26m12 5.26v5.26m8 -5.26v5.26m71 -5.26v5.26m-182 1.50v5.30m98 -5.30v5.30m-75 5.30v5.30m1 -5.30v5.30m40 -5.30v5.30" stroke="#ded8e4" stroke-width="1" fill="none"/>
<path d="M112.5 28v5.28m70 -5.28v5.28m-79 26.40v5.28m109 -5.28v5.28m-107 0v5.28m51 -5.28v5.28m37 5.28v5.28m-61 11.91v5.26m-64 0v5.26m67 -5.26v5.26m65 22.57v5.30" stroke="#e4dee4" stroke-width="1" fill="none"/>
<path d="M114.5 28v5.28m79 -5.28v5.28m-154 75.21v5.26m-5 0v5.26" stroke="#a2b4d2" stroke-width="1" fill="none"/>
<path d="M115.5 28v5.28m-19 15.84v5.28m-40 15.84v5.28m151 0v5.28m-172 6.66v5.26m148 -5.26v5.26m-128 5.26v5.26m-14 0v5.26m86 -5.26v5.26m109 -5.26v5.26m-112 5.26v5.26m99 1.50v5.30m-92 0v5.30m25 0v5.30" stroke="#d8c0cc" stroke-width="1" fill="none"/>
<path d="M116.5 28v5.28" stroke="#d8c6cc" stroke-width="1" fill="none"/>
<path d="M118.5 28v5.28m-14 5.28v5.28m102 48.87v5.26m-137 0v5.26m-5 0v5.26m134 12.01v5.30" stroke="#c0d2e4" stroke-width="1" fill="none"/>
<path d="M119.5 28v5.28m39 -5.28v5.28m19 -5.28v5.28m9 -5.28v5.28m18 -5.28v5.28m33 -5.28v5.28m-95 0v5.28m38 -5.28v5.28m17 -5.28v5.28m44 -5.28v5.28m-124 0v5.28m7 -5.28v5.28m40 -5.28v5.28m11 -5.28v5.28m4 -5.28v5.28m1 -5.28v5.28m28 -5.28v5.28m3 -5.28v5.28m-123 -0v5.28m1 -5.28v5.28m62 -5.28v5.28m13 -5.28v5.28m1 -5.28v5.28m1 -5.28v5.28m13 -5.28v5.28m22 -5.28v5.28m30 -5.28v5.28m-74 0v5.28m4 -5.28v5.28m16 -5.28v5.28m18 -5.28v5.28m4 -5.28v5.28m-111 0v5.28m16 -5.28v5.28m50 -5.28v5.28m92 -5.28v5.28m-138 -0v5.28m20 -5.28v5.28m48 -5.28v5.28m35 -5.28v5.28m-45 0v5.28m39 -5.28v5.28m-39 0v5.28m8 -5.28v5.28m50 -5.28v5.28m-165 0v5.28m65 -5.28v5.28m15 -5.28v5.28m48 -5.28v5.28m59 -5.28v5.28m-89 1.40v5.26m5 -5.26v5.26m-61 0v5.26m17 -5.26v5.26m4 -5.26v5.26m-58 0v5.26m45 -5.26v5.26m29 -5.26v5.26m45 -5.26v5.26m3 -5.26v5.26m45 -5.26v5.26m-36 0v5.26m3 -5.26v5.26m2 -5.26v5.26m19 -5.26v5.26m-118 0v5.26m150 -5.26v5.26m-194 0v5.26m90 -5.26v5.26m103 -5.26v5.26m-93 0v5.26m79 -5.26v5.26m-18 1.50v5.30m1 -5.30v5.30m2 -5.30v5.30m25 -5.30v5.30m-86 0v5.30m49 -5.30v5.30m-73 0v5.30m69 -5.30v5.30" stroke="#fcd8d8" stroke-width="1" fill="none"/>
<path d="M120.5 28v5.28m102 26.40v5.28m-131 33.01v5.26" stroke="#bab4cc" stroke-width="1" fill="none"/>
<path d="M121.5 28v5.28m87 -5.28v5.28m-143 15.84v5.28m66 -5.28v5.28m101 -5.28v5.28m-73 5.28v5.28m-55 0v5.28m-43 0v5.28m131 0v5.28m39 1.40v5.26m-147 0v5.26m111 -5.26v5.26m-96 5.26v5.26m1 0v5.26m50 5.26v5.26m43 12.10v5.30" stroke="#e4c0c6" stroke-width="1" fill="none"/>
<path d="M122.5 28v5.28m119 -5.28v5.28m-171 0v5.28m120 0v5.28m11 5.28v5.28m-83 0v5.28m69 -5.28v5.28m10 10.56v5.28m-4 11.94v5.26m-107 21.03v5.26m122 -5.26v5.26m-120 1.50v5.30m78 5.30v5.30" stroke="#f6eaf0" stroke-width="1" fill="none"/>
<path d="M123.5 28v5.28m89 15.84v5.28m-72 10.56v5.28m-81 22.47v5.26m144 5.26v5.26m5 0v5.26m-125 0v5.26m32 -5.26v5.26m-3 6.80v5.30m28 -5.30v5.30" stroke="#dec6d2" stroke-width="1" fill="none"/>
<path d="M124.5 28v5.28m62 10.56v5.28m-144 0v5.28m31 15.84v5.28m89 0v5.28m-128 50.30v5.30" stroke="#deccd2" stroke-width="1" fill="none"/>
<path d="M125.5 28v5.28m37 -5.28v5.28m-32 5.28v5.28m76 -5.28v5.28m-160 -0v5.28m67 -5.28v5.28m62 5.28v5.28m-74 5.28v5.28m0 0v5.28m58 22.45v5.26m-17 17.27v5.30m34 5.30v5.30" stroke="#e4deea" stroke-width="1" fill="none"/>
<path d="M126.5 28v5.28" stroke="#e49696" stroke-width="1" fill="none"/>
<path d="M128.5 28v5.28m20 -5.28v5.28m59 -5.28v5.28m-107 0v5.28m56 -5.28v5.28m25 -5.28v5.28m18 -5.28v5.28m31 -5.28v5.28m23 -5.28v5.28m-144 0v5.28m91 -5.28v5.28m16 -0v5.28m-114 0v5.28m114 -5.28v5.28m28 0v5.28m-16 -0v5.28m-92 0v5.28m17 -5.28v5.28m12 -5.28v5.28m28 -5.28v5.28m15 -5.28v5.28m7 -5.28v5.28m4 -5.28v5.28m3 -5.28v5.28m-88 0v5.28m8 -5.28v5.28m12 -5.28v5.28m5 -5.28v5.28m1 -5.28v5.28m5 -5.28v5.28m16 -5.28v5.28m24 -5.28v5.28m18 -5.28v5.28m7 -5.28v5.28m7 -5.28v5.28m-113 6.68v5.26m49 -5.26v5.26m28 -5.26v5.26m-180 0v5.26m56 -5.26v5.26m19 -5.26v5.26m50 -5.26v5.26m6 -5.26v5.26m20 -5.26v5.26m3 -5.26v5.26m38 -5.26v5.26m5 -5.26v5.26m-157 0v5.26m84 -5.26v5.26m20 -5.26v5.26m35 -5.26v5.26m-104 0v5.26m133 -5.26v5.26m-108 0v5.26m86 -5.26v5.26m41 0v5.26m-219 0v5.26m22 -5.26v5.26m125 -5.26v5.26m44 -5.26v5.26m-85 1.50v5.30m54 -5.30v5.30m51 -5.30v5.30m-29 0v5.30m18 -5.30v5.30" stroke="#f6baba" stroke-width="1" fill="none"/>
<path d="M129.5 28v5.28m-6 5.28v5.28m40 15.84v5.28m-38 5.28v5.28m46 0v5.28m-95 1.40v5.26m-37 0v5.26m15 0v5.26m82 0v5.26m-77 0v5.26m55 -5.26v5.26m112 5.26v5.26m-116 6.80v5.30m37 -5.30v5.30m52 0v5.30" stroke="#e4d8e4" stroke-width="1" fill="none"/>
<path d="M130.5 28v5.28m36 15.84v5.28m52 0v5.28m-64 -0v5.28m50 -5.28v5.28m12 -5.28v5.28m-40 5.28v5.28m25 0v5.28m26 -5.28v5.28m-209 6.66v5.26m224 -5.26v5.26m-128 0v5.26m106 5.26v5.26m1 -5.26v5.26m6 -5.26v5.26m1 -5.26v5.26m-86 22.61v5.30m43 -5.30v5.30" stroke="#f6d2d2" stroke-width="1" fill="none"/>
<path d="M131.5 28v5.28m-101 15.84v5.28m39 27.80v5.26m100 -5.26v5.26m30 26.29v5.26m-35 6.80v5.30" stroke="#f0f0f0" stroke-width="1" fill="none"/>
<path d="M132.5 28v5.28m111 5.28v5.28m-209 5.28v5.28m-5 21.12v5.28m117 17.17v5.26m-24 27.87v5.30" stroke="#aec0de" stroke-width="1" fill="none"/>
<path d="M133.5 28v5.28m-67 48.92v5.26m125 10.51v5.26m-171 10.51v5.26m147 12.10v5.30" stroke="#ded2d8" stroke-width="1" fill="none"/>
<path d="M136.5 28v5.28m8 -5.28v5.28m-77 48.92v5.26" stroke="#dea2a8" stroke-width="1" fill="none"/>
<path d="M137.5 28v5.28m-26 0v5.28m37 -5.28v5.28m14 -5.28v5.28m38 -5.28v5.28m22 0v5.28m-156 -0v5.28m115 -5.28v5.28m14 -5.28v5.28m18 -5.28v5.28m14 0v5.28m8 5.28v5.28m-64 0v5.28m2 -5.28v5.28m69 -5.28v5.28m-150 0v5.28m95 -5.28v5.28m-59 6.68v5.26m36 -5.26v5.26m15 -5.26v5.26m34 -5.26v5.26m42 -5.26v5.26m-151 0v5.26m70 -5.26v5.26m-35 0v5.26m32 -5.26v5.26m24 -5.26v5.26m53 0v5.26m-135 0v5.26m52 -5.26v5.26m83 -5.26v5.26m1 -5.26v5.26m-61 0v5.26m48 -5.26v5.26m-127 0v5.26m71 -5.26v5.26m59 -5.26v5.26m-121 6.80v5.30m80 -5.30v5.30" stroke="#f6aea8" stroke-width="1" fill="none"/>
<path d="M138.5 28v5.28m-110 5.28v5.28m155 -0v5.28m-95 0v5.28m91 33.06v5.26" stroke="#ccc0d2" stroke-width="1" fill="none"/>
<path d="M139.5 28v5.28m70 -5.28v5.28m-63 42.24v5.28m-29 6.66v5.26m2 0v5.26m77 15.77v5.26" stroke="#f0aeae" stroke-width="1" fill="none"/>
<path d="M145.5 28v5.28m2 -5.28v5.28m98 -5.28v5.28m2 -5.28v5.28m-143 10.56v5.28m92 -5.28v5.28m-59 5.28v5.28m66 -5.28v5.28m45 -0v5.28m-146 0v5.28m9 -5.28v5.28m34 -5.28v5.28m-33 0v5.28m59 -5.28v5.28m17 -5.28v5.28m54 -5.28v5.28m-28 0v5.28m-77 6.66v5.26m-114 0v5.26m121 -5.26v5.26m71 10.51v5.26m-22 0v5.26m34 -5.26v5.26" stroke="#f69c9c" stroke-width="1" fill="none"/>
<path d="M146.5 28v5.28m-75 54.18v5.26" stroke="#a8aecc" stroke-width="1" fill="none"/>
<path d="M150.5 28v5.28m-72 0v5.28m93 -5.28v5.28m28 0v5.28m-140 -0v5.28m69 0v5.28m39 -5.28v5.28m2 10.56v5.28m4 0v5.28m-69 38.22v5.26m27 1.50v5.30" stroke="#f0d8d8" stroke-width="1" fill="none"/>
<path d="M154.5 28v5.28m2 -5.28v5.28m13 -5.28v5.28m14 -5.28v5.28m-78 0v5.28m87 -5.28v5.28m28 0v5.28m-88 -0v5.28m2 -5.28v5.28m39 -5.28v5.28m9 5.28v5.28m47 -5.28v5.28m-35 5.28v5.28m-74 0v5.28m79 -5.28v5.28m-91 11.94v5.26m1 -5.26v5.26m68 5.26v5.26m-132 5.26v5.26m115 -5.26v5.26m-55 0v5.26m68 1.50v5.30m66 -5.30v5.30m-45 0v5.30m8 0v5.30" stroke="#f6cccc" stroke-width="1" fill="none"/>
<path d="M155.5 28v5.28m52 48.92v5.26m-172 10.51v5.26m69 22.57v5.30" stroke="#eacccc" stroke-width="1" fill="none"/>
<path d="M160.5 28v5.28m-44 5.28v5.28m6 -5.28v5.28m112 5.28v5.28m-143 0v5.28m116 -0v5.28m-76 17.24v5.26m-100 5.26v5.26m84 0v5.26m40 -5.26v5.26m-82 0v5.26m83 -5.26v5.26m44 -5.26v5.26m1 -5.26v5.26m-110 0v5.26m-67 0v5.26m1 -5.26v5.26m51 -5.26v5.26m36 -5.26v5.26m-55 1.50v5.30m107 -5.30v5.30m3 -5.30v5.30m37 -5.30v5.30m-116 0v5.30m29 0v5.30" stroke="#f6f6fc" stroke-width="1" fill="none"/>
<path d="M163.5 28v5.28m2 -5.28v5.28m27 -5.28v5.28m21 -5.28v5.28m23 -5.28v5.28m-169 0v5.28m111 -5.28v5.28m-71 0v5.28m80 -5.28v5.28m-92 -0v5.28m8 0v5.28m101 -5.28v5.28m13 -5.28v5.28m-49 0v5.28m17 -5.28v5.28m-98 5.28v5.28m92 -5.28v5.28m33 -5.28v5.28m-106 0v5.28m46 -5.28v5.28m-45 0v5.28m30 -5.28v5.28m-20 1.40v5.26m44 -5.26v5.26m49 -5.26v5.26m19 -5.26v5.26m-106 0v5.26m22 -5.26v5.26m12 -5.26v5.26m-127 0v5.26m61 -5.26v5.26m46 -5.26v5.26m10 -5.26v5.26m30 -5.26v5.26m13 -5.26v5.26m40 -5.26v5.26m6 -5.26v5.26m-119 0v5.26m16 -5.26v5.26m56 -5.26v5.26m65 0v5.26m-99 5.26v5.26m93 -5.26v5.26m7 -5.26v5.26m-74 1.50v5.30m6 -5.30v5.30m30 -5.30v5.30m21 -5.30v5.30m-83 0v5.30m21 -5.30v5.30m34 -5.30v5.30m44 -5.30v5.30m-1 0v5.30" stroke="#f6b4b4" stroke-width="1" fill="none"/>
<path d="M166.5 28v5.28m-3 0v5.28m27 -5.28v5.28m18 -5.28v5.28m-25 0v5.28m24 -5.28v5.28m-149 -0v5.28m39 -5.28v5.28m52 -5.28v5.28m10 -5.28v5.28m48 -5.28v5.28m7 -5.28v5.28m-110 0v5.28m51 -5.28v5.28m25 -5.28v5.28m3 -5.28v5.28m25 -5.28v5.28m21 -5.28v5.28m11 -5.28v5.28m-95 0v5.28m81 -5.28v5.28m3 -0v5.28m14 -5.28v5.28m-9 0v5.28m-99 0v5.28m-24 0v5.28m25 -5.28v5.28m63 -5.28v5.28m-106 1.40v5.26m147 -5.26v5.26m-21 0v5.26m-164 0v5.26m124 -5.26v5.26m24 -5.26v5.26m23 -5.26v5.26m19 0v5.26m8 -5.26v5.26m-116 0v5.26m34 -5.26v5.26m34 -5.26v5.26m41 -5.26v5.26m-121 0v5.26m25 -5.26v5.26m2 -5.26v5.26m37 -5.26v5.26m-45 0v5.26m33 -5.26v5.26m27 -5.26v5.26m43 -5.26v5.26m3 -5.26v5.26m1 -5.26v5.26m-162 1.50v5.30m105 -5.30v5.30m16 -5.30v5.30m6 -5.30v5.30m12 -5.30v5.30m1 -5.30v5.30m-92 0v5.30m51 -5.30v5.30m52 -5.30v5.30m-62 0v5.30m26 -5.30v5.30m8 -5.30v5.30m12 -5.30v5.30m6 -5.30v5.30" stroke="#f6c6c6" stroke-width="1" fill="none"/>
<path d="M170.5 28v5.28m-26 26.40v5.28" stroke="#e49096" stroke-width="1" fill="none"/>
<path d="M172.5 28v5.28m-131 0v5.28m2 5.28v5.28m120 0v5.28m-118 5.28v5.28m21 -5.28v5.28m104 -5.28v5.28m-88 0v5.28m33 -5.28v5.28m-39 0v5.28m37 0v5.28m22 -5.28v5.28m-37 6.66v5.26m42 -5.26v5.26m-82 0v5.26m82 0v5.26m-114 0v5.26m69 -5.26v5.26m97 -5.26v5.26m-98 0v5.26m136 -5.26v5.26m-200 0v5.26m44 -5.26v5.26m10 -5.26v5.26m150 -5.26v5.26m-106 1.50v5.30m-90 0v5.30m34 -5.30v5.30m-21 0v5.30" stroke="#ccd8f0" stroke-width="1" fill="none"/>
<path d="M173.5 28v5.28m12 36.96v5.28m0 11.94v5.26m-33 33.09v5.30" stroke="#eaa8a8" stroke-width="1" fill="none"/>
<path d="M175.5 28v5.28m-62 0v5.28m-20 5.28v5.28m131 -5.28v5.28m-22 15.84v5.28m18 0v5.28m15 0v5.28m-42 1.40v5.26m21 -5.26v5.26m-22 0v5.26m-132 0v5.26m5 -5.26v5.26m53 -5.26v5.26m94 -5.26v5.26m20 -5.26v5.26m3 -5.26v5.26m-140 0v5.26m85 -5.26v5.26m-161 10.51v5.26m89 1.50v5.30m28 -5.30v5.30m84 0v5.30m29 -5.30v5.30m-70 0v5.30" stroke="#fcc6c6" stroke-width="1" fill="none"/>
<path d="M176.5 28v5.28m57 -5.28v5.28m-74 5.28v5.28m38 -5.28v5.28m15 -5.28v5.28m-112 -0v5.28m31 -5.28v5.28m-72 5.28v5.28m147 -0v5.28m7 -5.28v5.28m-22 0v5.28m-23 0v5.28m-16 0v5.28m6 6.66v5.26m62 -5.26v5.26m-142 0v5.26m44 0v5.26m107 0v5.26m-112 0v5.26m26 -5.26v5.26m64 0v5.26m46 6.80v5.30m-5 0v5.30" stroke="#f6dede" stroke-width="1" fill="none"/>
<path d="M178.5 28v5.28m-84 5.28v5.28m5 5.28v5.28m-45 5.28v5.28m35 0v5.28m2 11.96v5.26m78 0v5.26m-46 0v5.26m-29 0v5.26m-32 17.27v5.30m17 5.30v5.30" stroke="#e4eaf0" stroke-width="1" fill="none"/>
<path d="M181.5 28v5.28m71 5.28v5.28m-110 -0v5.28m69 -5.28v5.28m18 -5.28v5.28m-8 15.84v5.28m-48 17.22v5.26m9 0v5.26m36 -5.26v5.26m9 -5.26v5.26m28 -5.26v5.26m-3 10.51v5.26m-2 12.06v5.30" stroke="#f07872" stroke-width="1" fill="none"/>
<path d="M184.5 28v5.28m-43 0v5.28m-46 0v5.28m42 -5.28v5.28m12 10.56v5.28m71 -5.28v5.28m14 -5.28v5.28m-103 15.84v5.28m-69 6.66v5.26m183 -5.26v5.26m-186 21.03v5.26m28 1.50v5.30m77 5.30v5.30m90 -5.30v5.30" stroke="#f6f0f0" stroke-width="1" fill="none"/>
<path d="M189.5 28v5.28m5 -5.28v5.28m-73 31.68v5.28m72 0v5.28" stroke="#ea9c9c" stroke-width="1" fill="none"/>
<path d="M191.5 28v5.28m12 0v5.28m-71 36.96v5.28m38 -5.28v5.28m19 1.40v5.26m-22 5.26v5.26m-89 0v5.26m47 -5.26v5.26" stroke="#f0d2d2" stroke-width="1" fill="none"/>
<path d="M195.5 28v5.28m1 -5.28v5.28m-128 5.28v5.28m135 15.84v5.28m-31 5.28v5.28m16 6.68v5.26" stroke="#dec0cc" stroke-width="1" fill="none"/>
<path d="M198.5 28v5.28m-112 42.24v5.28" stroke="#aec6de" stroke-width="1" fill="none"/>
<path d="M199.5 28v5.28m27 0v5.28m-38 0v5.28m-25 -0v5.28m76 -5.28v5.28m-1 5.28v5.28m-91 -0v5.28m98 0v5.28m-137 0v5.28m126 6.68v5.26m11 -5.26v5.26m-176 5.26v5.26m18 -5.26v5.26m38 5.26v5.26m62 -5.26v5.26m32 -5.26v5.26m24 -5.26v5.26m-68 5.26v5.26m-36 1.50v5.30m51 -5.30v5.30m29 5.30v5.30" stroke="#fcccc6" stroke-width="1" fill="none"/>
<path d="M202.5 28v5.28m48 -5.28v5.28m3 5.28v5.28m1 21.12v5.28m-4 5.28v5.28m3 -5.28v5.28m-4 6.66v5.26m5 0v5.26m-106 15.77v5.26m4 -5.26v5.26" stroke="#f06c66" stroke-width="1" fill="none"/>
<path d="M205.5 28v5.28m-36 5.28v5.28m-11 21.12v5.28m-70 0v5.28m17 -5.28v5.28m129 0v5.28m-147 6.66v5.26m16 0v5.26m-21 0v5.26m-53 0v5.26m5 12.01v5.30m166 -5.30v5.30" stroke="#eaeaf6" stroke-width="1" fill="none"/>
<path d="M206.5 28v5.28" stroke="#96aed8" stroke-width="1" fill="none"/>
<path d="M212.5 28v5.28m-63 0v5.28m26 -5.28v5.28m77 -5.28v5.28m1 10.56v5.28m-25 33.06v5.26m16 10.51v5.26m-49 5.26v5.26" stroke="#f07878" stroke-width="1" fill="none"/>
<path d="M221.5 28v5.28m-91 0v5.28m21 -5.28v5.28m33 -5.28v5.28m-59 0v5.28m71 -5.28v5.28m-118 15.84v5.28m107 -5.28v5.28m55 -5.28v5.28m-131 10.56v5.28m-15 11.91v5.26m-28 5.26v5.26m85 17.31v5.30m72 0v5.30" stroke="#f6f6f6" stroke-width="1" fill="none"/>
<path d="M222.5 28v5.28m-4 26.40v5.28m-168 48.78v5.26m94 1.50v5.30m48 -5.30v5.30" stroke="#d8d8ea" stroke-width="1" fill="none"/>
<path d="M225.5 28v5.28m15 -5.28v5.28m-42 0v5.28m-10 21.12v5.28m-21 0v5.28m-21 0v5.28m-27 0v5.28m107 -5.28v5.28m-120 1.40v5.26m61 -5.26v5.26m77 -5.26v5.26m-146 5.26v5.26m19 -5.26v5.26m36 -5.26v5.26m39 -5.26v5.26m27 -5.26v5.26m-7 0v5.26m-57 5.26v5.26m32 -5.26v5.26m63 17.36v5.30" stroke="#f6c6c0" stroke-width="1" fill="none"/>
<path d="M227.5 28v5.28" stroke="#d8b4ba" stroke-width="1" fill="none"/>
<path d="M228.5 28v5.28m-90 0v5.28m63 -5.28v5.28m1 -5.28v5.28m12 0v5.28m-102 -0v5.28m60 -5.28v5.28m82 5.28v5.28m-142 -0v5.28m74 -5.28v5.28m-12 0v5.28m8 -5.28v5.28m10 -5.28v5.28m24 -5.28v5.28m-80 0v5.28m20 -5.28v5.28m66 -5.28v5.28m7 0v5.28m-122 1.40v5.26m65 -5.26v5.26m-47 0v5.26m19 -5.26v5.26m58 -5.26v5.26m-46 0v5.26m45 0v5.26m48 -5.26v5.26m-45 0v5.26m-175 0v5.26m125 0v5.26m49 -5.26v5.26m51 -5.26v5.26m-145 1.50v5.30m139 -5.30v5.30m0 0v5.30" stroke="#f6a8a8" stroke-width="1" fill="none"/>
<path d="M229.5 28v5.28m-91 5.28v5.28m39 15.84v5.28m13 -5.28v5.28m-91 5.28v5.28m-34 0v5.28m69 6.66v5.26m27 10.51v5.26m34 -5.26v5.26m-59 0v5.26m-22 0v5.26m55 1.50v5.30m-1 0v5.30" stroke="#e4e4ea" stroke-width="1" fill="none"/>
<path d="M230.5 28v5.28m-30 10.56v5.28m21 -5.28v5.28m-2 10.56v5.28m15 -5.28v5.28m-121 5.28v5.28m22 11.94v5.26m106 -5.26v5.26m-106 10.51v5.26m31 12.01v5.30" stroke="#f6ccc6" stroke-width="1" fill="none"/>
<path d="M231.5 28v5.28m-112 21.12v5.28m60 -0v5.28m-3 0v5.28m56 17.22v5.26m4 -5.26v5.26m-176 15.77v5.26m155 6.76v5.30" stroke="#d2bac6" stroke-width="1" fill="none"/>
<path d="M234.5 28v5.28m-170 5.28v5.28m18 -5.28v5.28m-1 15.84v5.28m-19 5.28v5.28m58 0v5.28m43 17.17v5.26m-95 0v5.26m147 5.26v5.26" stroke="#f0eaea" stroke-width="1" fill="none"/>
<path d="M235.5 28v5.28m11 -5.28v5.28m-86 0v5.28m73 -5.28v5.28m-12 0v5.28m-66 -0v5.28m7 -5.28v5.28m88 -5.28v5.28m-124 0v5.28m77 -5.28v5.28m-48 15.84v5.28m20 -5.28v5.28m72 -5.28v5.28m-2 0v5.28m1 1.40v5.26m2 -5.26v5.26m-98 0v5.26m32 -5.26v5.26m29 -5.26v5.26m-126 0v5.26m95 -5.26v5.26m16 -5.26v5.26m51 -5.26v5.26m-25 0v5.26m16 -5.26v5.26m-85 0v5.26m56 12.01v5.30m-92 0v5.30" stroke="#f69696" stroke-width="1" fill="none"/>
<path d="M238.5 28v5.28m-147 0v5.28m78 64.67v5.26m26 12.01v5.30" stroke="#fceaf0" stroke-width="1" fill="none"/>
<path d="M242.5 28v5.28m6 -5.28v5.28m-21 21.12v5.28m-94 10.56v5.28m14 6.68v5.26m28 -5.26v5.26m35 0v5.26m40 -5.26v5.26m1 -5.26v5.26m-11 21.03v5.26" stroke="#f07e78" stroke-width="1" fill="none"/>
<path d="M243.5 28v5.28m-99 0v5.28m38 36.96v5.28m-109 1.40v5.26m136 15.77v5.26m-60 12.01v5.30" stroke="#ea8a8a" stroke-width="1" fill="none"/>
<path d="M244.5 28v5.28m-134 5.28v5.28m-32 43.62v5.26m123 38.39v5.30" stroke="#eabac0" stroke-width="1" fill="none"/>
<path d="M249.5 28v5.28m0 0v5.28m0 10.56v5.28m2 21.12v5.28m-42 11.91v5.26" stroke="#ea423c" stroke-width="1" fill="none"/>
<path d="M251.5 28v5.28m-34 0v5.28m25 -5.28v5.28m6 0v5.28m-91 -0v5.28m31 -5.28v5.28m60 0v5.28m-86 0v5.28m88 10.56v5.28m2 -5.28v5.28m-65 17.19v5.26m63 0v5.26m-142 10.51v5.26m96 6.80v5.30m1 -5.30v5.30" stroke="#f08484" stroke-width="1" fill="none"/>
<path d="M252.5 28v5.28m3 -5.28v5.28m0 0v5.28m-5 0v5.28" stroke="#ea4842" stroke-width="1" fill="none"/>
<path d="M253.5 28v5.28m-10 0v5.28m-5 0v5.28m-121 -0v5.28m85 -5.28v5.28m40 0v5.28m13 -5.28v5.28m-136 10.56v5.28m61 -5.28v5.28m73 -5.28v5.28m-5 0v5.28m6 11.94v5.26m-142 0v5.26m40 5.26v5.26m61 0v5.26m42 -5.26v5.26m-119 0v5.26m24 -5.26v5.26" stroke="#f08a84" stroke-width="1" fill="none"/>
<path d="M254.5 28v5.28m-26 10.56v5.28m17 -5.28v5.28m8 -5.28v5.28m-1 15.84v5.28m-78 11.96v5.26" stroke="#ea544e" stroke-width="1" fill="none"/>
<path d="M18.5 33.28v5.28m15 -5.28v5.28m-10 0v5.28m25 -5.28v5.28m45 -5.28v5.28m-40 10.56v5.28m-35 -0v5.28m4 -5.28v5.28m-4 0v5.28m14 -5.28v5.28m-14 0v5.28m60 27.71v5.26m-52 0v5.26m-1 17.36v5.30m3 -5.30v5.30" stroke="#5a8ac6" stroke-width="1" fill="none"/>
<path d="M22.5 33.28v5.28m10 69.93v5.26" stroke="#4e84c0" stroke-width="1" fill="none"/>
<path d="M25.5 33.28v5.28m28 21.12v5.28m7 -5.28v5.28m-17 10.56v5.28m9 -5.28v5.28m-7 39.70v5.30m-18 0v5.30" stroke="#789cd2" stroke-width="1" fill="none"/>
<path d="M26.5 33.28v5.28m7 43.64v5.26" stroke="#6c9ccc" stroke-width="1" fill="none"/>
<path d="M34.5 33.28v5.28" stroke="#8a9cc6" stroke-width="1" fill="none"/>
<path d="M35.5 33.28v5.28" stroke="#deb4c0" stroke-width="1" fill="none"/>
<path d="M40.5 33.28v5.28m49 0v5.28m-63 15.84v5.28m13 0v5.28m-17 5.28v5.28m20 -5.28v5.28m52 -5.28v5.28m-49 45v5.30" stroke="#6c96cc" stroke-width="1" fill="none"/>
<path d="M50.5 33.28v5.28m38 -5.28v5.28m86 21.12v5.28m-37 33.01v5.26m41 -5.26v5.26m-97 17.27v5.30m43 0v5.30" stroke="#c6d2e4" stroke-width="1" fill="none"/>
<path d="M52.5 33.28v5.28m37 -5.28v5.28m69 5.28v5.28m-101 5.28v5.28m-23 -0v5.28m81 -5.28v5.28m-73 0v5.28m2 -5.28v5.28m98 11.96v5.26m12 -5.26v5.26m-34 10.51v5.26m118 5.26v5.26m-180 6.76v5.30m18 0v5.30m54 0v5.30" stroke="#c0cce4" stroke-width="1" fill="none"/>
<path d="M54.5 33.28v5.28m115 -5.28v5.28m-34 21.12v5.28m95 -5.28v5.28m6 0v5.28m-187 0v5.28m182 -5.28v5.28m-210 6.68v5.26m36 43.64v5.30" stroke="#e4bac0" stroke-width="1" fill="none"/>
<path d="M57.5 33.28v5.28m-17 0v5.28m40 -5.28v5.28m-25 5.28v5.28m8 -5.28v5.28m53 -5.28v5.28m62 0v5.28m-157 -0v5.28m42 0v5.28m-19 0v5.28m4 -5.28v5.28m1 0v5.28m79 -5.28v5.28m35 -5.28v5.28m-61 1.40v5.26m-57 15.77v5.26m121 -5.26v5.26m-142 0v5.26m7 -5.26v5.26m21 -5.26v5.26m26 -5.26v5.26m4 -5.26v5.26m116 -5.26v5.26m-123 6.76v5.30m28 0v5.30m30 -5.30v5.30m5 -5.30v5.30m-114 0v5.30m5 -5.30v5.30m122 -5.30v5.30m55 -5.30v5.30" stroke="#a2bade" stroke-width="1" fill="none"/>
<path d="M58.5 33.28v5.28m-34 43.64v5.26m42 10.51v5.26m43 0v5.26m-18 12.01v5.30m91 0v5.30" stroke="#d8def0" stroke-width="1" fill="none"/>
<path d="M59.5 33.28v5.28m91 -5.28v5.28m29 -5.28v5.28m-38 0v5.28m20 -5.28v5.28m83 -5.28v5.28m-187 -0v5.28m14 -5.28v5.28m47 -5.28v5.28m67 -5.28v5.28m8 -5.28v5.28m6 -5.28v5.28m11 -5.28v5.28m-90 0v5.28m36 -5.28v5.28m-6 0v5.28m1 -5.28v5.28m4 -5.28v5.28m70 -5.28v5.28m14 -5.28v5.28m14 -5.28v5.28m-136 -0v5.28m55 -5.28v5.28m3 -5.28v5.28m16 -5.28v5.28m7 -5.28v5.28m2 -5.28v5.28m-100 0v5.28m44 -5.28v5.28m13 -5.28v5.28m46 -5.28v5.28m1 -5.28v5.28m6 -5.28v5.28m16 -5.28v5.28m1 -5.28v5.28m-163 0v5.28m27 -5.28v5.28m14 0v5.28m119 -5.28v5.28m-173 1.40v5.26m104 -5.26v5.26m8 -5.26v5.26m64 -5.26v5.26m-141 0v5.26m24 -5.26v5.26m32 -5.26v5.26m75 -5.26v5.26m5 -5.26v5.26m-94 0v5.26m50 -5.26v5.26m23 -5.26v5.26m4 -5.26v5.26m-113 0v5.26m107 -5.26v5.26m36 -5.26v5.26m-127 0v5.26m52 -5.26v5.26m-60 0v5.26m40 -5.26v5.26m9 -5.26v5.26m-59 0v5.26m28 -5.26v5.26m25 -5.26v5.26m2 -5.26v5.26m26 -5.26v5.26m23 -5.26v5.26m-20 1.50v5.30m14 -5.30v5.30m42 -5.30v5.30m-149 0v5.30m151 -5.30v5.30m6 -5.30v5.30m-27 0v5.30" stroke="#fcdede" stroke-width="1" fill="none"/>
<path d="M60.5 33.28v5.28m26 26.40v5.28m72 0v5.28m-42 6.68v5.26m-57 0v5.26m48 27.79v5.30" stroke="#d2ccd8" stroke-width="1" fill="none"/>
<path d="M66.5 33.28v5.28m48 10.56v5.28m39 0v5.28m-46 48.81v5.26m85 -5.26v5.26" stroke="#ded2de" stroke-width="1" fill="none"/>
<path d="M68.5 33.28v5.28m26 26.40v5.28m147 0v5.28" stroke="#bac0de" stroke-width="1" fill="none"/>
<path d="M69.5 33.28v5.28m67 0v5.28m27 -5.28v5.28m48 5.28v5.28m-113 21.12v5.28m134 1.40v5.26m-149 0v5.26m46 -5.26v5.26m-39 5.26v5.26m-17 5.26v5.26m154 6.76v5.30" stroke="#e4ccd2" stroke-width="1" fill="none"/>
<path d="M76.5 33.28v5.28m-51 10.56v5.28m6 -5.28v5.28m143 -5.28v5.28m23 -5.28v5.28m-100 0v5.28m-17 10.56v5.28m54 17.19v5.26m-84 0v5.26m-9 27.87v5.30" stroke="#8aa8d8" stroke-width="1" fill="none"/>
<path d="M77.5 33.28v5.28m83 15.84v5.28m-56 -0v5.28m123 5.28v5.28m-96 11.94v5.26m-31 5.26v5.26m108 0v5.26m-87 5.26v5.26" stroke="#e4c6cc" stroke-width="1" fill="none"/>
<path d="M81.5 33.28v5.28m-26 21.12v5.28m102 -5.28v5.28m-20 0v5.28m22 -5.28v5.28m-92 0v5.28m7 -5.28v5.28m69 -5.28v5.28m-11 6.68v5.26m-71 0v5.26m132 0v5.26m-17 0v5.26m-54 0v5.26m69 -5.26v5.26m47 -5.26v5.26m-29 0v5.26m1 -5.26v5.26m-25 6.76v5.30m57 -5.30v5.30m-192 5.30v5.30" stroke="#f6f0f6" stroke-width="1" fill="none"/>
<path d="M82.5 33.28v5.28m-61 0v5.28m9 -5.28v5.28m19 -5.28v5.28m-28 -0v5.28m28 0v5.28m109 -5.28v5.28m-116 0v5.28m20 -5.28v5.28m-39 -0v5.28m0 0v5.28m35 -5.28v5.28m-32 0v5.28m-3 0v5.28m14 -5.28v5.28m3 -5.28v5.28m34 -5.28v5.28m41 1.40v5.26m11 -5.26v5.26m-47 15.77v5.26m-29 0v5.26m30 -5.26v5.26m-15 6.76v5.30m-18 0v5.30m12 0v5.30m9 -5.30v5.30m9 -5.30v5.30m24 -5.30v5.30m12 -5.30v5.30" stroke="#96b4de" stroke-width="1" fill="none"/>
<path d="M84.5 33.28v5.28m74 -5.28v5.28m-61 0v5.28m70 -5.28v5.28m-91 -0v5.28m3 -5.28v5.28m-6 0v5.28m20 0v5.28m-8 5.28v5.28m38 0v5.28m79 -5.28v5.28m-30 0v5.28m47 -5.28v5.28m-60 6.66v5.26m20 15.77v5.26m46 -5.26v5.26m-94 17.36v5.30" stroke="#f0dee4" stroke-width="1" fill="none"/>
<path d="M86.5 33.28v5.28m126 31.68v5.28m-73 27.71v5.26m-114 17.31v5.30" stroke="#eac6c6" stroke-width="1" fill="none"/>
<path d="M93.5 33.28v5.28m18 5.28v5.28m121 5.28v5.28m-123 5.28v5.28m-12 11.96v5.26m114 -5.26v5.26m-35 0v5.26m-13 10.51v5.26m-111 5.26v5.26m101 -5.26v5.26m-12 6.80v5.30m46 -5.30v5.30" stroke="#f0ccd2" stroke-width="1" fill="none"/>
<path d="M97.5 33.28v5.28m35 -5.28v5.28m53 10.56v5.28m43 -5.28v5.28m16 -5.28v5.28m-131 5.28v5.28m49 22.50v5.26m19 -5.26v5.26m27 5.26v5.26m-52 5.26v5.26m23 0v5.26m-144 6.80v5.30m163 0v5.30m29 -5.30v5.30" stroke="#f6eaea" stroke-width="1" fill="none"/>
<path d="M99.5 33.28v5.28m134 48.90v5.26m-94 33.09v5.30" stroke="#ead2d2" stroke-width="1" fill="none"/>
<path d="M102.5 33.28v5.28m59 -5.28v5.28m35 -5.28v5.28m-28 0v5.28m49 -5.28v5.28m-121 -0v5.28m101 -5.28v5.28m5 0v5.28m-92 0v5.28m123 -5.28v5.28m-147 -0v5.28m72 -5.28v5.28m13 -5.28v5.28m-93 5.28v5.28m151 -5.28v5.28m-70 0v5.28m-30 1.40v5.26m-74 0v5.26m1 -5.26v5.26m40 0v5.26m44 5.26v5.26m77 -5.26v5.26m25 0v5.26m-146 0v5.26m-8 12.10v5.30m85 -5.30v5.30" stroke="#f0e4ea" stroke-width="1" fill="none"/>
<path d="M106.5 33.28v5.28m14 0v5.28m66 -5.28v5.28m29 -5.28v5.28m-121 -0v5.28m115 -5.28v5.28m-113 15.84v5.28m71 0v5.28m-37 11.94v5.26m73 5.26v5.26m11 -5.26v5.26m-47 10.51v5.26m78 1.50v5.30m-117 0v5.30m100 -5.30v5.30" stroke="#fcded8" stroke-width="1" fill="none"/>
<path d="M107.5 33.28v5.28m48 -5.28v5.28m72 -5.28v5.28m27 -5.28v5.28m-62 5.28v5.28m62 0v5.28m-6 21.12v5.28m-103 1.40v5.26" stroke="#f69090" stroke-width="1" fill="none"/>
<path d="M110.5 33.28v5.28m87 15.84v5.28m-134 10.56v5.28m-44 32.97v5.26" stroke="#ccccd8" stroke-width="1" fill="none"/>
<path d="M117.5 33.28v5.28m2 -5.28v5.28m39 0v5.28m65 -5.28v5.28m-125 -0v5.28m18 -5.28v5.28m-6 0v5.28m74 -5.28v5.28m8 -5.28v5.28m16 0v5.28m-173 5.28v5.28m40 -5.28v5.28m102 -5.28v5.28m-131 0v5.28m154 0v5.28m-118 6.66v5.26m34 -5.26v5.26m127 -5.26v5.26m-159 0v5.26m126 -5.26v5.26m-36 0v5.26m-116 0v5.26m96 -5.26v5.26m-13 0v5.26m1 -5.26v5.26m35 -5.26v5.26m17 -5.26v5.26m-154 0v5.26m123 -5.26v5.26m11 -5.26v5.26m-121 1.50v5.30m8 -5.30v5.30m80 -5.30v5.30m52 -5.30v5.30m29 -5.30v5.30m-65 5.30v5.30m58 -5.30v5.30m37 -5.30v5.30" stroke="#f0eaf0" stroke-width="1" fill="none"/>
<path d="M121.5 33.28v5.28m32 0v5.28m-1 -0v5.28m2 -5.28v5.28m26 -5.28v5.28m65 0v5.28m2 5.28v5.28m-70 5.28v5.28m76 -5.28v5.28m-103 6.68v5.26m85 -5.26v5.26m17 -5.26v5.26m2 -5.26v5.26m-130 0v5.26m85 -5.26v5.26m31 -5.26v5.26m8 -5.26v5.26m-135 0v5.26m86 -5.26v5.26m7 5.26v5.26m-69 5.26v5.26m114 6.80v5.30" stroke="#f08a8a" stroke-width="1" fill="none"/>
<path d="M122.5 33.28v5.28m92 -5.28v5.28m30 -5.28v5.28m-87 0v5.28m-31 -0v5.28m44 -5.28v5.28m72 -5.28v5.28m9 10.56v5.28m-3 0v5.28m-109 11.96v5.26m110 -5.26v5.26m-20 0v5.26m6 -5.26v5.26m-80 0v5.26m15 -5.26v5.26m43 -5.26v5.26m10 -5.26v5.26m29 -5.26v5.26m2 10.51v5.26m-69 0v5.26m20 -5.26v5.26m4 -5.26v5.26m4 6.80v5.30" stroke="#f0908a" stroke-width="1" fill="none"/>
<path d="M126.5 33.28v5.28m9 0v5.28m98 21.12v5.28m-121 5.28v5.28m39 1.40v5.26m39 10.51v5.26m26 5.26v5.26m-33 6.76v5.30m19 0v5.30" stroke="#f0d2d8" stroke-width="1" fill="none"/>
<path d="M135.5 33.28v5.28m18 -5.28v5.28m75 -5.28v5.28m12 -5.28v5.28m11 -5.28v5.28m-129 5.28v5.28m7 -5.28v5.28m7 -5.28v5.28m89 0v5.28m-15 5.28v5.28m14 -5.28v5.28m4 0v5.28m-20 0v5.28m-6 0v5.28m-77 11.91v5.26m26 -5.26v5.26m77 0v5.26m-81 10.51v5.26" stroke="#f69c96" stroke-width="1" fill="none"/>
<path d="M147.5 33.28v5.28m-107 5.28v5.28m108 0v5.28m87 -5.28v5.28" stroke="#debac6" stroke-width="1" fill="none"/>
<path d="M154.5 33.28v5.28m12 -5.28v5.28m63 -5.28v5.28m2 -5.28v5.28m-109 10.56v5.28m38 -5.28v5.28m22 -5.28v5.28m-7 10.56v5.28m69 -5.28v5.28m-101 17.22v5.26m43 5.26v5.26m28 5.26v5.26m33 -5.26v5.26m-105 0v5.26m87 -5.26v5.26m18 6.80v5.30" stroke="#f6a8a2" stroke-width="1" fill="none"/>
<path d="M159.5 33.28v5.28m48 26.40v5.28" stroke="#ccaeba" stroke-width="1" fill="none"/>
<path d="M164.5 33.28v5.28m21 -5.28v5.28m49 5.28v5.28m-69 0v5.28m14 15.84v5.28m10 -5.28v5.28m24 -5.28v5.28m2 -5.28v5.28m-68 11.94v5.26m2 0v5.26m-32 15.77v5.26m128 -5.26v5.26" stroke="#f09690" stroke-width="1" fill="none"/>
<path d="M165.5 33.28v5.28" stroke="#96a2c6" stroke-width="1" fill="none"/>
<path d="M176.5 33.28v5.28m-33 5.28v5.28m80 0v5.28m20 0v5.28m-164 -0v5.28m141 -5.28v5.28m26 0v5.28m-195 0v5.28m8 6.68v5.26m104 0v5.26m17 -5.26v5.26m-45 0v5.26m70 0v5.26m-16 0v5.26m-54 17.31v5.30m-14 0v5.30m50 -5.30v5.30" stroke="#ead8de" stroke-width="1" fill="none"/>
<path d="M188.5 33.28v5.28m-47 10.56v5.28m-115 33.06v5.26m25 0v5.26m61 22.53v5.30" stroke="#dec0c6" stroke-width="1" fill="none"/>
<path d="M204.5 33.28v5.28m21 0v5.28m-56 5.28v5.28m44 -5.28v5.28m-91 10.56v5.28m72 17.22v5.26m21 -5.26v5.26m-123 0v5.26m-4 0v5.26m164 -5.26v5.26m-101 0v5.26m91 17.31v5.30" stroke="#f0cccc" stroke-width="1" fill="none"/>
<path d="M207.5 33.28v5.28m-116 5.28v5.28m1 -5.28v5.28m99 0v5.28m-63 0v5.28m28 -5.28v5.28m24 -5.28v5.28m-66 5.28v5.28m18 0v5.28m-114 6.68v5.26m101 -5.26v5.26m-88 0v5.26m139 -5.26v5.26m-6 5.26v5.26m7 -5.26v5.26m13 10.51v5.26m11 6.80v5.30" stroke="#f0d8de" stroke-width="1" fill="none"/>
<path d="M210.5 33.28v5.28m31 59.41v5.26m-58 0v5.26" stroke="#eae4f0" stroke-width="1" fill="none"/>
<path d="M213.5 33.28v5.28m-11 21.12v5.28m-5 0v5.28m-61 11.96v5.26m115 21.03v5.26" stroke="#f0a8a8" stroke-width="1" fill="none"/>
<path d="M220.5 33.28v5.28m25 -5.28v5.28m2 -5.28v5.28m-20 5.28v5.28m-47 21.12v5.28m75 0v5.28m-2 1.40v5.26m-87 0v5.26m34 15.77v5.26" stroke="#f0726c" stroke-width="1" fill="none"/>
<path d="M223.5 33.28v5.28m-107 15.84v5.28m-5 10.56v5.28" stroke="#c0a2b4" stroke-width="1" fill="none"/>
<path d="M234.5 33.28v5.28m-177 48.90v5.26" stroke="#f09c96" stroke-width="1" fill="none"/>
<path d="M236.5 33.28v5.28m-4 21.12v5.28m-186 0v5.28m179 -5.28v5.28m-45 32.99v5.26m5 0v5.26m-64 12.06v5.30m114 -5.30v5.30" stroke="#eab4ba" stroke-width="1" fill="none"/>
<path d="M246.5 33.28v5.28m1 26.40v5.28m-34 43.50v5.26" stroke="#f06666" stroke-width="1" fill="none"/>
<path d="M248.5 33.28v5.28m-191 75.18v5.26" stroke="#f06c6c" stroke-width="1" fill="none"/>
<path d="M18.5 38.56v5.28m15 -0v5.28m3 -5.28v5.28m-14 5.28v5.28m15 -5.28v5.28m37 -5.28v5.28m-36 10.56v5.28m20 55.58v5.30" stroke="#729cd2" stroke-width="1" fill="none"/>
<path d="M20.5 38.56v5.28m7 -0v5.28m-4 0v5.28m25 0v5.28m10 -5.28v5.28m4 -0v5.28m13 -5.28v5.28m-38 0v5.28m-1 5.28v5.28m63 -5.28v5.28m-74 27.69v5.26m24 -5.26v5.26m25 -5.26v5.26m49 6.76v5.30m-91 0v5.30m-2 0v5.30m33 -5.30v5.30m6 -5.30v5.30" stroke="#90b4d8" stroke-width="1" fill="none"/>
<path d="M26.5 38.56v5.28m1 5.28v5.28m44 5.28v5.28m-52 5.28v5.28m18 -5.28v5.28m-13 0v5.28m-2 1.40v5.26m48 0v5.26" stroke="#6690cc" stroke-width="1" fill="none"/>
<path d="M29.5 38.56v5.28m172 15.84v5.28m-104 10.56v5.28m61 11.91v5.26m-24 15.77v5.26" stroke="#c6cce4" stroke-width="1" fill="none"/>
<path d="M32.5 38.56v5.28" stroke="#4e7ec0" stroke-width="1" fill="none"/>
<path d="M38.5 38.56v5.28m0 10.56v5.28" stroke="#306cba" stroke-width="1" fill="none"/>
<path d="M39.5 38.56v5.28m16 -5.28v5.28m-22 26.40v5.28m7 27.71v5.26" stroke="#6090cc" stroke-width="1" fill="none"/>
<path d="M50.5 38.56v5.28" stroke="#849ccc" stroke-width="1" fill="none"/>
<path d="M51.5 38.56v5.28m12 -0v5.28m90 -5.28v5.28m-8 10.56v5.28m38 0v5.28m-20 0v5.28m-80 0v5.28m60 -5.28v5.28m28 6.66v5.26m12 15.77v5.26m18 -5.26v5.26m-134 0v5.26m73 1.50v5.30m36 -5.30v5.30m27 0v5.30m4 -5.30v5.30" stroke="#d8c6d2" stroke-width="1" fill="none"/>
<path d="M56.5 38.56v5.28m179 -5.28v5.28m-127 5.28v5.28m133 -5.28v5.28m-43 0v5.28m-71 33.03v5.26" stroke="#bac0d8" stroke-width="1" fill="none"/>
<path d="M58.5 38.56v5.28m90 -5.28v5.28m66 5.28v5.28m-46 10.56v5.28m-80 17.22v5.26m146 -5.26v5.26m-42 5.26v5.26m-93 0v5.26" stroke="#e4d2de" stroke-width="1" fill="none"/>
<path d="M66.5 38.56v5.28m52 -5.28v5.28m11 10.56v5.28m85 5.28v5.28m-108 17.22v5.26m-17 5.26v5.26m12 -5.26v5.26m64 -5.26v5.26m-125 5.26v5.26m42 0v5.26m95 6.80v5.30m54 -5.30v5.30m-93 0v5.30m69 -5.30v5.30" stroke="#d2d2e4" stroke-width="1" fill="none"/>
<path d="M67.5 38.56v5.28m175 -5.28v5.28m-131 48.87v5.26" stroke="#dec6cc" stroke-width="1" fill="none"/>
<path d="M69.5 38.56v5.28" stroke="#6c8ac0" stroke-width="1" fill="none"/>
<path d="M73.5 38.56v5.28m-4 5.28v5.28m55 15.84v5.28m64 11.94v5.26m-139 0v5.26m19 -5.26v5.26m135 10.51v5.26m29 17.36v5.30" stroke="#eac0c6" stroke-width="1" fill="none"/>
<path d="M74.5 38.56v5.28m50 5.28v5.28m-77 5.28v5.28m50 -5.28v5.28m60 10.56v5.28m-133 6.66v5.26m106 0v5.26m27 0v5.26m19 0v5.26m78 12.01v5.30m-125 0v5.30m60 -5.30v5.30" stroke="#d2d8ea" stroke-width="1" fill="none"/>
<path d="M75.5 38.56v5.28m16 -5.28v5.28m27 21.12v5.28m-78 17.22v5.26m199 -5.26v5.26m6 0v5.26" stroke="#babad2" stroke-width="1" fill="none"/>
<path d="M77.5 38.56v5.28m138 -0v5.28m-44 5.28v5.28m39 -5.28v5.28m-62 -0v5.28m88 -5.28v5.28m-133 0v5.28m32 -5.28v5.28m-47 5.28v5.28m87 -5.28v5.28m3 -5.28v5.28m12 -5.28v5.28m-87 6.66v5.26m69 5.26v5.26m39 5.26v5.26m12 0v5.26m-104 1.50v5.30m17 0v5.30m26 -5.30v5.30m35 -5.30v5.30m58 0v5.30" stroke="#eac6cc" stroke-width="1" fill="none"/>
<path d="M81.5 38.56v5.28" stroke="#e4c0cc" stroke-width="1" fill="none"/>
<path d="M86.5 38.56v5.28m-42 5.28v5.28m156 -5.28v5.28m-53 0v5.28m22 10.56v5.28m28 6.68v5.26m-67 10.51v5.26m22 -5.26v5.26m-68 0v5.26m35 -5.26v5.26m113 0v5.26m9 -5.26v5.26m-114 0v5.26m74 -5.26v5.26m34 -5.26v5.26m-102 12.10v5.30m70 -5.30v5.30m34 -5.30v5.30" stroke="#f6d8d8" stroke-width="1" fill="none"/>
<path d="M92.5 38.56v5.28m72 10.56v5.28m-136 15.84v5.28m44 6.66v5.26m56 5.26v5.26" stroke="#c6c0d2" stroke-width="1" fill="none"/>
<path d="M100.5 38.56v5.28m118 21.12v5.28m-168 22.47v5.26m168 15.77v5.26" stroke="#aeb4d2" stroke-width="1" fill="none"/>
<path d="M131.5 38.56v5.28m-87 -0v5.28m100 -5.28v5.28m25 -5.28v5.28m30 5.28v5.28m-14 5.28v5.28m-68 5.28v5.28m-31 1.40v5.26m15 5.26v5.26m7 -5.26v5.26m79 0v5.26m56 -5.26v5.26m-12 0v5.26m-26 0v5.26m-132 12.06v5.30m145 -5.30v5.30m-63 0v5.30" stroke="#eaccd2" stroke-width="1" fill="none"/>
<path d="M133.5 38.56v5.28m-36 48.87v5.26" stroke="#f6fcfc" stroke-width="1" fill="none"/>
<path d="M152.5 38.56v5.28m57 -5.28v5.28m-53 -0v5.28m92 -5.28v5.28m-2 0v5.28m-18 0v5.28m22 -5.28v5.28m0 -0v5.28m5 22.50v5.26m-53 0v5.26m26 -5.26v5.26m21 -5.26v5.26m2 -5.26v5.26m1 5.26v5.26m3 -5.26v5.26m-38 5.26v5.26m36 -5.26v5.26m-87 6.80v5.30m89 -5.30v5.30" stroke="#f0847e" stroke-width="1" fill="none"/>
<path d="M154.5 38.56v5.28m-44 -0v5.28m73 10.56v5.28m26 17.24v5.26m16 5.26v5.26m-63 22.53v5.30m40 -5.30v5.30" stroke="#f09c9c" stroke-width="1" fill="none"/>
<path d="M160.5 38.56v5.28m85 26.40v5.28m-68 11.94v5.26m-89 0v5.26m-26 10.51v5.26" stroke="#f6dee4" stroke-width="1" fill="none"/>
<path d="M162.5 38.56v5.28m68 10.56v5.28m-92 38.29v5.26" stroke="#ea8484" stroke-width="1" fill="none"/>
<path d="M191.5 38.56v5.28m-83 21.12v5.28m-8 5.28v5.28m-65 32.94v5.26m76 1.50v5.30m133 -5.30v5.30" stroke="#d8bac6" stroke-width="1" fill="none"/>
<path d="M192.5 38.56v5.28" stroke="#baa8ba" stroke-width="1" fill="none"/>
<path d="M193.5 38.56v5.28m-22 5.28v5.28m-51 5.28v5.28m112 5.28v5.28m-192 6.68v5.26m63 -5.26v5.26m-40 0v5.26m1 -5.26v5.26m75 -5.26v5.26m-16 10.51v5.26m-49 22.61v5.30m107 -5.30v5.30" stroke="#e4d8de" stroke-width="1" fill="none"/>
<path d="M218.5 38.56v5.28m-56 26.40v5.28m2 27.71v5.26m47 -5.26v5.26m-21 0v5.26m-57 0v5.26m118 1.50v5.30" stroke="#eababa" stroke-width="1" fill="none"/>
<path d="M231.5 38.56v5.28m-144 10.56v5.28m151 -0v5.28m-104 43.53v5.26m86 -5.26v5.26" stroke="#ead8e4" stroke-width="1" fill="none"/>
<path d="M234.5 38.56v5.28" stroke="#de9096" stroke-width="1" fill="none"/>
<path d="M236.5 38.56v5.28m-135 31.68v5.28m17 -5.28v5.28m-38 6.66v5.26m-57 5.26v5.26" stroke="#c0c6d8" stroke-width="1" fill="none"/>
<path d="M237.5 38.56v5.28m-123 -0v5.28m73 38.34v5.26" stroke="#e49ca2" stroke-width="1" fill="none"/>
<path d="M241.5 38.56v5.28m0 76.66v5.30" stroke="#909cc6" stroke-width="1" fill="none"/>
<path d="M249.5 38.56v5.28m6 -5.28v5.28m-4 -0v5.28m-99 15.84v5.28m0 22.47v5.26m70 -5.26v5.26" stroke="#ea5a54" stroke-width="1" fill="none"/>
<path d="M251.5 38.56v5.28m-16 -0v5.28m9 -5.28v5.28m-35 0v5.28m43 5.28v5.28m3 -5.28v5.28m-4 0v5.28m-5 17.22v5.26m-34 21.03v5.26m18 -5.26v5.26m-17 12.10v5.30" stroke="#f07e7e" stroke-width="1" fill="none"/>
<path d="M254.5 38.56v5.28m-12 10.56v5.28" stroke="#ea5a5a" stroke-width="1" fill="none"/>
<path d="M22.5 43.84v5.28m10 -5.28v5.28m88 5.28v5.28m-67 22.52v5.26m153 21.03v5.26m-174 6.76v5.30m146 -5.30v5.30m-156 5.30v5.30m11 -5.30v5.30m39 -5.30v5.30" stroke="#84a8d2" stroke-width="1" fill="none"/>
<path d="M34.5 43.84v5.28m14 48.85v5.26" stroke="#8aa2cc" stroke-width="1" fill="none"/>
<path d="M35.5 43.84v5.28" stroke="#d2bacc" stroke-width="1" fill="none"/>
<path d="M47.5 43.84v5.28m82 10.56v5.28" stroke="#aec0d8" stroke-width="1" fill="none"/>
<path d="M51.5 43.84v5.28m24 -5.28v5.28m-16 0v5.28m66 5.28v5.28m44 10.56v5.28m-48 27.69v5.26m-45 6.76v5.30m98 5.30v5.30" stroke="#d2ccde" stroke-width="1" fill="none"/>
<path d="M52.5 43.84v5.28m5 0v5.28m117 0v5.28m20 10.56v5.28m-127 0v5.28m18 -5.28v5.28m63 -5.28v5.28m36 11.91v5.26m-15 10.51v5.26m48 -5.26v5.26m-135 12.06v5.30" stroke="#f6e4ea" stroke-width="1" fill="none"/>
<path d="M55.5 43.84v5.28m-20 0v5.28m28 43.57v5.26" stroke="#c0c0d8" stroke-width="1" fill="none"/>
<path d="M56.5 43.84v5.28m8 -5.28v5.28m-4 33.08v5.26m63 -5.26v5.26" stroke="#c0b4cc" stroke-width="1" fill="none"/>
<path d="M81.5 43.84v5.28" stroke="#dea8ae" stroke-width="1" fill="none"/>
<path d="M99.5 43.84v5.28m83 10.56v5.28m58 10.56v5.28m-26 22.43v5.26" stroke="#f6d8de" stroke-width="1" fill="none"/>
<path d="M103.5 43.84v5.28" stroke="#ba96a8" stroke-width="1" fill="none"/>
<path d="M105.5 43.84v5.28m-57 10.56v5.28m62 10.56v5.28" stroke="#a8bad8" stroke-width="1" fill="none"/>
<path d="M108.5 43.84v5.28" stroke="#bac6e4" stroke-width="1" fill="none"/>
<path d="M109.5 43.84v5.28m46 15.84v5.28m-33 11.96v5.26" stroke="#de969c" stroke-width="1" fill="none"/>
<path d="M139.5 43.84v5.28m34 5.28v5.28m68 -5.28v5.28m-134 5.28v5.28m7 0v5.28m34 -5.28v5.28m64 6.68v5.26m-86 10.51v5.26m84 -5.26v5.26m27 0v5.26" stroke="#f0c6cc" stroke-width="1" fill="none"/>
<path d="M141.5 43.84v5.28m19 15.84v5.28m-27 38.25v5.26m49 0v5.26m34 -5.26v5.26" stroke="#eab4b4" stroke-width="1" fill="none"/>
<path d="M168.5 43.84v5.28m28 38.34v5.26" stroke="#d2b4c0" stroke-width="1" fill="none"/>
<path d="M176.5 43.84v5.28m64 15.84v5.28m-89 5.28v5.28m-99 6.66v5.26m164 -5.26v5.26m8 0v5.26m5 -5.26v5.26m-170 0v5.26m77 0v5.26m-75 0v5.26m-38 0v5.26m43 -5.26v5.26m163 12.10v5.30" stroke="#f0dede" stroke-width="1" fill="none"/>
<path d="M184.5 43.84v5.28m-21 76.68v5.30" stroke="#ccd8e4" stroke-width="1" fill="none"/>
<path d="M187.5 43.84v5.28m64 0v5.28m1 0v5.28m3 5.28v5.28m-3 17.22v5.26m-2 0v5.26" stroke="#f06660" stroke-width="1" fill="none"/>
<path d="M218.5 43.84v5.28m33 5.28v5.28m-94 10.56v5.28m32 38.22v5.26m49 -5.26v5.26m14 -5.26v5.26" stroke="#f07272" stroke-width="1" fill="none"/>
<path d="M220.5 43.84v5.28m3 -5.28v5.28m14 -5.28v5.28m1 -5.28v5.28m-34 5.28v5.28m42 -0v5.28m-17 0v5.28m6 -5.28v5.28m-26 0v5.28m-33 6.68v5.26m6 -5.26v5.26m18 0v5.26m55 5.26v5.26m-106 0v5.26" stroke="#f09090" stroke-width="1" fill="none"/>
<path d="M249.5 43.84v5.28m3 -5.28v5.28m-5 0v5.28m2 5.28v5.28m0 5.28v5.28" stroke="#f0605a" stroke-width="1" fill="none"/>
<path d="M254.5 43.84v5.28m1 -5.28v5.28" stroke="#ea302a" stroke-width="1" fill="none"/>
<path d="M32.5 49.12v5.28m-5 0v5.28m6 -5.28v5.28m0 -0v5.28" stroke="#3672ba" stroke-width="1" fill="none"/>
<path d="M48.5 49.12v5.28m57 38.31v5.26m-16 33.13v5.30" stroke="#84a2d2" stroke-width="1" fill="none"/>
<path d="M58.5 49.12v5.28m14 10.56v5.28" stroke="#90aed2" stroke-width="1" fill="none"/>
<path d="M62.5 49.12v5.28m106 -5.28v5.28m72 0v5.28m-25 43.55v5.26" stroke="#e4ccd8" stroke-width="1" fill="none"/>
<path d="M83.5 49.12v5.28m-1 38.31v5.26" stroke="#c0bacc" stroke-width="1" fill="none"/>
<path d="M85.5 49.12v5.28m32 -5.28v5.28m0 10.56v5.28m43 5.28v5.28m91 50.30v5.30" stroke="#eac0c0" stroke-width="1" fill="none"/>
<path d="M87.5 49.12v5.28m34 0v5.28m48 -0v5.28m-49 17.24v5.26m-89 10.51v5.26" stroke="#deccd8" stroke-width="1" fill="none"/>
<path d="M97.5 49.12v5.28m8 5.28v5.28m111 17.24v5.26m-43 10.51v5.26m-20 5.26v5.26m63 12.06v5.30" stroke="#c6c6de" stroke-width="1" fill="none"/>
<path d="M101.5 49.12v5.28m-17 0v5.28m55 10.56v5.28m-75 22.45v5.26" stroke="#ded8de" stroke-width="1" fill="none"/>
<path d="M105.5 49.12v5.28m29 71.40v5.30" stroke="#a2bad8" stroke-width="1" fill="none"/>
<path d="M111.5 49.12v5.28m48 -5.28v5.28m-25 5.28v5.28" stroke="#c6c6d8" stroke-width="1" fill="none"/>
<path d="M115.5 49.12v5.28" stroke="#c096a8" stroke-width="1" fill="none"/>
<path d="M119.5 49.12v5.28m-47 38.31v5.26m-18 0v5.26m94 -5.26v5.26m75 -5.26v5.26m-103 27.87v5.30" stroke="#c6ccde" stroke-width="1" fill="none"/>
<path d="M134.5 49.12v5.28" stroke="#9ca2c6" stroke-width="1" fill="none"/>
<path d="M137.5 49.12v5.28m30 0v5.28" stroke="#b4c0d8" stroke-width="1" fill="none"/>
<path d="M139.5 49.12v5.28" stroke="#d89ca2" stroke-width="1" fill="none"/>
<path d="M154.5 49.12v5.28m71 15.84v5.28m16 0v5.28m-136 6.66v5.26m-47 5.26v5.26m48 10.51v5.26m100 -5.26v5.26m-69 1.50v5.30m9 0v5.30" stroke="#bac6de" stroke-width="1" fill="none"/>
<path d="M176.5 49.12v5.28m-110 0v5.28m111 -5.28v5.28m24 -5.28v5.28m-54 10.56v5.28m-52 6.68v5.26m21 5.26v5.26" stroke="#f0c6c6" stroke-width="1" fill="none"/>
<path d="M181.5 49.12v5.28m58 -5.28v5.28m-74 0v5.28m-78 10.56v5.28m146 -5.28v5.28m-171 6.68v5.26m130 -5.26v5.26m6 -5.26v5.26m-92 5.26v5.26m0 0v5.26m-17 10.51v5.26m50 -5.26v5.26m-1 1.50v5.30" stroke="#eaeaf0" stroke-width="1" fill="none"/>
<path d="M188.5 49.12v5.28" stroke="#baa2ba" stroke-width="1" fill="none"/>
<path d="M189.5 49.12v5.28m-63 5.28v5.28m-80 22.50v5.26m191 27.79v5.30" stroke="#e4aeb4" stroke-width="1" fill="none"/>
<path d="M190.5 49.12v5.28m-92 48.83v5.26m-59 5.26v5.26" stroke="#9cb4d2" stroke-width="1" fill="none"/>
<path d="M196.5 49.12v5.28m-35 10.56v5.28m-65 5.28v5.28m41 1.40v5.26m-113 5.26v5.26m174 -5.26v5.26m-24 5.26v5.26m65 -5.26v5.26" stroke="#d8ccd8" stroke-width="1" fill="none"/>
<path d="M215.5 49.12v5.28" stroke="#b4a8c6" stroke-width="1" fill="none"/>
<path d="M221.5 49.12v5.28" stroke="#e47e84" stroke-width="1" fill="none"/>
<path d="M226.5 49.12v5.28m-206 27.80v5.26m204 -5.26v5.26m-26 15.77v5.26m-12 12.01v5.30m33 0v5.30" stroke="#c6c0d8" stroke-width="1" fill="none"/>
<path d="M230.5 49.12v5.28m-34 5.28v5.28m23 17.24v5.26m-92 0v5.26m54 0v5.26m15 0v5.26m15 -5.26v5.26m29 0v5.26m-160 12.01v5.30m120 5.30v5.30" stroke="#d8d2de" stroke-width="1" fill="none"/>
<path d="M231.5 49.12v5.28" stroke="#e4aeae" stroke-width="1" fill="none"/>
<path d="M236.5 49.12v5.28m-172 71.40v5.30" stroke="#c6aec0" stroke-width="1" fill="none"/>
<path d="M237.5 49.12v5.28" stroke="#e49c9c" stroke-width="1" fill="none"/>
<path d="M243.5 49.12v5.28m-141 59.34v5.26m132 6.80v5.30" stroke="#fcf6fc" stroke-width="1" fill="none"/>
<path d="M250.5 49.12v5.28" stroke="#ea605a" stroke-width="1" fill="none"/>
<path d="M252.5 49.12v5.28m3 0v5.28m-5 5.28v5.28" stroke="#ea4e48" stroke-width="1" fill="none"/>
<path d="M18.5 54.40v5.28m14 15.84v5.28" stroke="#3c72ba" stroke-width="1" fill="none"/>
<path d="M23.5 54.40v5.28m19 71.42v5.30m20 -5.30v5.30" stroke="#6696cc" stroke-width="1" fill="none"/>
<path d="M24.5 54.40v5.28m18 38.29v5.26m-9 17.27v5.30" stroke="#548ac6" stroke-width="1" fill="none"/>
<path d="M28.5 54.40v5.28m4 -5.28v5.28m11 -0v5.28m-18 0v5.28m83 60.86v5.30" stroke="#6090c6" stroke-width="1" fill="none"/>
<path d="M39.5 54.40v5.28" stroke="#7e9cc6" stroke-width="1" fill="none"/>
<path d="M40.5 54.40v5.28m56 71.42v5.30" stroke="#a8b4d2" stroke-width="1" fill="none"/>
<path d="M43.5 54.40v5.28m1 -5.28v5.28m68 5.28v5.28" stroke="#ccb4c0" stroke-width="1" fill="none"/>
<path d="M60.5 54.40v5.28m8 54.06v5.26" stroke="#a2a2c0" stroke-width="1" fill="none"/>
<path d="M69.5 54.40v5.28m-41 48.81v5.26" stroke="#e4bac6" stroke-width="1" fill="none"/>
<path d="M94.5 54.40v5.28m64 66.12v5.30" stroke="#a2b4d8" stroke-width="1" fill="none"/>
<path d="M96.5 54.40v5.28" stroke="#aea8c0" stroke-width="1" fill="none"/>
<path d="M103.5 54.40v5.28m89 -5.28v5.28m-22 43.55v5.26m32 0v5.26m13 12.06v5.30" stroke="#d8d2e4" stroke-width="1" fill="none"/>
<path d="M105.5 54.40v5.28m-58 38.29v5.26m-25 10.51v5.26m123 12.10v5.30" stroke="#b4c0de" stroke-width="1" fill="none"/>
<path d="M109.5 54.40v5.28m94 15.84v5.28m-112 6.66v5.26m-45 27.79v5.30" stroke="#e4a8ae" stroke-width="1" fill="none"/>
<path d="M114.5 54.40v5.28m4 38.29v5.26m0 0v5.26m7 5.26v5.26" stroke="#aebad8" stroke-width="1" fill="none"/>
<path d="M122.5 54.40v5.28m71 66.12v5.30" stroke="#a8b4d8" stroke-width="1" fill="none"/>
<path d="M123.5 54.40v5.28m93 43.55v5.26" stroke="#d2c0d2" stroke-width="1" fill="none"/>
<path d="M143.5 54.40v5.28m45 43.55v5.26m-20 5.26v5.26m28 6.80v5.30m48 -5.30v5.30" stroke="#c6bacc" stroke-width="1" fill="none"/>
<path d="M157.5 54.40v5.28m80 -0v5.28m-52 10.56v5.28m0 11.91v5.26" stroke="#f09696" stroke-width="1" fill="none"/>
<path d="M183.5 54.40v5.28" stroke="#d88490" stroke-width="1" fill="none"/>
<path d="M194.5 54.40v5.28m-53 27.78v5.26m92 10.51v5.26" stroke="#ea9696" stroke-width="1" fill="none"/>
<path d="M196.5 54.40v5.28m-100 22.52v5.26" stroke="#d8b4c0" stroke-width="1" fill="none"/>
<path d="M202.5 54.40v5.28m-30 54.06v5.26" stroke="#ead2de" stroke-width="1" fill="none"/>
<path d="M207.5 54.40v5.28m-106 22.52v5.26m58 -5.26v5.26m-76 10.51v5.26" stroke="#d2d8e4" stroke-width="1" fill="none"/>
<path d="M213.5 54.40v5.28" stroke="#de7e84" stroke-width="1" fill="none"/>
<path d="M222.5 54.40v5.28m-96 27.78v5.26m43 0v5.26m25 5.26v5.26" stroke="#f0c0c6" stroke-width="1" fill="none"/>
<path d="M224.5 54.40v5.28m-104 66.12v5.30" stroke="#ccc0cc" stroke-width="1" fill="none"/>
<path d="M235.5 54.40v5.28m-118 10.56v5.28m67 27.71v5.26" stroke="#e4b4b4" stroke-width="1" fill="none"/>
<path d="M236.5 54.40v5.28" stroke="#96789c" stroke-width="1" fill="none"/>
<path d="M237.5 54.40v5.28" stroke="#d28a96" stroke-width="1" fill="none"/>
<path d="M249.5 54.40v5.28m0 15.84v5.28m0 32.94v5.26" stroke="#ea5454" stroke-width="1" fill="none"/>
<path d="M32.5 59.68v5.28" stroke="#3c78c0" stroke-width="1" fill="none"/>
<path d="M70.5 59.68v5.28" stroke="#608ac6" stroke-width="1" fill="none"/>
<path d="M80.5 59.68v5.28m-28 5.28v5.28" stroke="#ccc6d2" stroke-width="1" fill="none"/>
<path d="M87.5 59.68v5.28m158 43.53v5.26m-217 12.06v5.30m52 -5.30v5.30m167 0v5.30" stroke="#d2c6d2" stroke-width="1" fill="none"/>
<path d="M88.5 59.68v5.28" stroke="#c6c0cc" stroke-width="1" fill="none"/>
<path d="M94.5 59.68v5.28m-61 43.53v5.26m64 17.36v5.30" stroke="#5484c6" stroke-width="1" fill="none"/>
<path d="M95.5 59.68v5.28m145 66.14v5.30" stroke="#c0b4c6" stroke-width="1" fill="none"/>
<path d="M111.5 59.68v5.28m133 -5.28v5.28m-212 22.50v5.26m204 5.26v5.26" stroke="#baaec6" stroke-width="1" fill="none"/>
<path d="M118.5 59.68v5.28m-58 10.56v5.28" stroke="#a8a8c6" stroke-width="1" fill="none"/>
<path d="M121.5 59.68v5.28m118 33.01v5.26" stroke="#f0aeb4" stroke-width="1" fill="none"/>
<path d="M124.5 59.68v5.28" stroke="#c6a8b4" stroke-width="1" fill="none"/>
<path d="M132.5 59.68v5.28m-22 0v5.28m64 5.28v5.28m33 6.66v5.26m-46 15.77v5.26m-93 12.06v5.30m76 0v5.30m43 -5.30v5.30m1 -5.30v5.30m45 -5.30v5.30" stroke="#d2d2de" stroke-width="1" fill="none"/>
<path d="M142.5 59.68v5.28m-32 5.28v5.28" stroke="#ead8d8" stroke-width="1" fill="none"/>
<path d="M152.5 59.68v5.28" stroke="#f6908a" stroke-width="1" fill="none"/>
<path d="M173.5 59.68v5.28m-96 17.24v5.26m165 -5.26v5.26m-178 33.04v5.30" stroke="#d2deea" stroke-width="1" fill="none"/>
<path d="M178.5 59.68v5.28m-80 33.01v5.26m-3 27.87v5.30" stroke="#96a8cc" stroke-width="1" fill="none"/>
<path d="M193.5 59.68v5.28m-8 17.24v5.26" stroke="#eaa8ae" stroke-width="1" fill="none"/>
<path d="M194.5 59.68v5.28" stroke="#e49090" stroke-width="1" fill="none"/>
<path d="M195.5 59.68v5.28m-176 17.24v5.26m57 0v5.26m150 -5.26v5.26m5 27.79v5.30" stroke="#d8ccde" stroke-width="1" fill="none"/>
<path d="M209.5 59.68v5.28m-27 5.28v5.28m-9 0v5.28m41 11.91v5.26m-4 5.26v5.26m-84 0v5.26m124 6.76v5.30" stroke="#f0a2a2" stroke-width="1" fill="none"/>
<path d="M233.5 59.68v5.28" stroke="#7e90c0" stroke-width="1" fill="none"/>
<path d="M43.5 64.96v5.28m143 11.96v5.26" stroke="#c0ccde" stroke-width="1" fill="none"/>
<path d="M45.5 64.96v5.28m21 38.25v5.26m155 -5.26v5.26m-187 12.06v5.30m56 -5.30v5.30" stroke="#9cb4d8" stroke-width="1" fill="none"/>
<path d="M79.5 64.96v5.28m5 5.28v5.28m-21 1.40v5.26m-36 15.77v5.26m3 12.01v5.30m69 -5.30v5.30m144 -5.30v5.30" stroke="#c6d2ea" stroke-width="1" fill="none"/>
<path d="M206.5 64.96v5.28" stroke="#eadede" stroke-width="1" fill="none"/>
<path d="M97.5 70.24v5.28" stroke="#96a8d2" stroke-width="1" fill="none"/>
<path d="M102.5 70.24v5.28" stroke="#eaa2a8" stroke-width="1" fill="none"/>
<path d="M103.5 70.24v5.28" stroke="#d8a8b4" stroke-width="1" fill="none"/>
<path d="M121.5 70.24v5.28m104 0v5.28m-22 1.40v5.26m1 -5.26v5.26m-136 0v5.26m70 -5.26v5.26m-109 5.26v5.26m38 -5.26v5.26m91 0v5.26m35 0v5.26m-67 6.76v5.30m107 -5.30v5.30m-10 0v5.30m1 -5.30v5.30" stroke="#e4e4f0" stroke-width="1" fill="none"/>
<path d="M207.5 70.24v5.28m-78 38.22v5.26" stroke="#d8bac0" stroke-width="1" fill="none"/>
<path d="M216.5 70.24v5.28" stroke="#d8969c" stroke-width="1" fill="none"/>
<path d="M244.5 70.24v5.28" stroke="#c690a2" stroke-width="1" fill="none"/>
<path d="M254.5 70.24v5.28" stroke="#ea3c36" stroke-width="1" fill="none"/>
<path d="M255.5 70.24v5.28" stroke="#ea3630" stroke-width="1" fill="none"/>
<path d="M41.5 75.52v5.28" stroke="#4278c0" stroke-width="1" fill="none"/>
<path d="M55.5 75.52v5.28" stroke="#deeaf0" stroke-width="1" fill="none"/>
<path d="M73.5 75.52v5.28" stroke="#e4a2a2" stroke-width="1" fill="none"/>
<path d="M180.5 75.52v5.28m64 27.69v5.26" stroke="#d896a2" stroke-width="1" fill="none"/>
<path d="M208.5 75.52v5.28" stroke="#a89cba" stroke-width="1" fill="none"/>
<path d="M209.5 75.52v5.28" stroke="#d88a90" stroke-width="1" fill="none"/>
<path d="M252.5 75.52v5.28" stroke="#f06060" stroke-width="1" fill="none"/>
<path d="M61.5 82.20v5.26m22 5.26v5.26m-37 5.26v5.26m188 0v5.26m-188 12.06v5.30" stroke="#e4a2a8" stroke-width="1" fill="none"/>
<path d="M88.5 82.20v5.26m32 21.03v5.26m-67 12.06v5.30" stroke="#d8aeba" stroke-width="1" fill="none"/>
<path d="M105.5 82.20v5.26" stroke="#7e96c0" stroke-width="1" fill="none"/>
<path d="M127.5 82.20v5.26m48 38.34v5.30" stroke="#c6b4c6" stroke-width="1" fill="none"/>
<path d="M140.5 82.20v5.26m11 26.29v5.26" stroke="#c0bad2" stroke-width="1" fill="none"/>
<path d="M141.5 82.20v5.26m-15 5.26v5.26" stroke="#de8a90" stroke-width="1" fill="none"/>
<path d="M144.5 82.20v5.26m100 10.51v5.26" stroke="#e4a8a8" stroke-width="1" fill="none"/>
<path d="M148.5 82.20v5.26" stroke="#f6c6cc" stroke-width="1" fill="none"/>
<path d="M168.5 82.20v5.26m-40 15.77v5.26m125 -5.26v5.26m-182 5.26v5.26" stroke="#d2c0cc" stroke-width="1" fill="none"/>
<path d="M171.5 82.20v5.26m-112 21.03v5.26" stroke="#baa8c0" stroke-width="1" fill="none"/>
<path d="M178.5 82.20v5.26" stroke="#bac0d2" stroke-width="1" fill="none"/>
<path d="M226.5 82.20v5.26m16 15.77v5.26m-28 17.31v5.30" stroke="#f0f6f6" stroke-width="1" fill="none"/>
<path d="M236.5 82.20v5.26" stroke="#d2aec0" stroke-width="1" fill="none"/>
<path d="M237.5 82.20v5.26" stroke="#eaa2a2" stroke-width="1" fill="none"/>
<path d="M41.5 87.46v5.26m183 21.03v5.26m28 1.50v5.30m-175 0v5.30m140 -5.30v5.30" stroke="#e4b4ba" stroke-width="1" fill="none"/>
<path d="M73.5 87.46v5.26" stroke="#de5a5a" stroke-width="1" fill="none"/>
<path d="M97.5 87.46v5.26m-43 33.09v5.30" stroke="#9caed2" stroke-width="1" fill="none"/>
<path d="M119.5 87.46v5.26" stroke="#c696a8" stroke-width="1" fill="none"/>
<path d="M128.5 87.46v5.26" stroke="#b4b4cc" stroke-width="1" fill="none"/>
<path d="M167.5 87.46v5.26" stroke="#deaeba" stroke-width="1" fill="none"/>
<path d="M190.5 87.46v5.26" stroke="#f0b4ba" stroke-width="1" fill="none"/>
<path d="M22.5 92.71v5.26" stroke="#8a96c0" stroke-width="1" fill="none"/>
<path d="M46.5 92.71v5.26" stroke="#ea9ca2" stroke-width="1" fill="none"/>
<path d="M62.5 92.71v5.26" stroke="#bac6d8" stroke-width="1" fill="none"/>
<path d="M66.5 92.71v5.26" stroke="#e4848a" stroke-width="1" fill="none"/>
<path d="M74.5 92.71v5.26" stroke="#d27884" stroke-width="1" fill="none"/>
<path d="M102.5 92.71v5.26" stroke="#ea9090" stroke-width="1" fill="none"/>
<path d="M150.5 92.71v5.26" stroke="#b4bad8" stroke-width="1" fill="none"/>
<path d="M162.5 92.71v5.26" stroke="#de8484" stroke-width="1" fill="none"/>
<path d="M163.5 92.71v5.26m-62 10.51v5.26" stroke="#c0c6de" stroke-width="1" fill="none"/>
<path d="M208.5 92.71v5.26" stroke="#d2a2a8" stroke-width="1" fill="none"/>
<path d="M244.5 92.71v5.26m-188 5.26v5.26m124 12.01v5.30" stroke="#d8aeb4" stroke-width="1" fill="none"/>
<path d="M28.5 97.97v5.26m77 22.57v5.30" stroke="#dedee4" stroke-width="1" fill="none"/>
<path d="M33.5 97.97v5.26" stroke="#4e84c6" stroke-width="1" fill="none"/>
<path d="M53.5 97.97v5.26" stroke="#96bade" stroke-width="1" fill="none"/>
<path d="M97.5 97.97v5.26" stroke="#84a2cc" stroke-width="1" fill="none"/>
<path d="M127.5 97.97v5.26m-35 0v5.26m-29 5.26v5.26" stroke="#d2c6d8" stroke-width="1" fill="none"/>
<path d="M134.5 97.97v5.26" stroke="#6c90c6" stroke-width="1" fill="none"/>
<path d="M149.5 97.97v5.26" stroke="#d84e54" stroke-width="1" fill="none"/>
<path d="M168.5 97.97v5.26" stroke="#9cbad8" stroke-width="1" fill="none"/>
<path d="M181.5 97.97v5.26" stroke="#90a8d2" stroke-width="1" fill="none"/>
<path d="M193.5 97.97v5.26" stroke="#ea9c96" stroke-width="1" fill="none"/>
<path d="M216.5 97.97v5.26" stroke="#b49cb4" stroke-width="1" fill="none"/>
<path d="M247.5 97.97v5.26" stroke="#c0c0d2" stroke-width="1" fill="none"/>
<path d="M34.5 103.23v5.26" stroke="#dee4ea" stroke-width="1" fill="none"/>
<path d="M35.5 103.23v5.26" stroke="#ccc6d8" stroke-width="1" fill="none"/>
<path d="M142.5 103.23v5.26" stroke="#ea9096" stroke-width="1" fill="none"/>
<path d="M155.5 103.23v5.26" stroke="#f6d2d8" stroke-width="1" fill="none"/>
<path d="M199.5 103.23v5.26m-77 12.01v5.30m23 -5.30v5.30" stroke="#eaaeb4" stroke-width="1" fill="none"/>
<path d="M27.5 108.49v5.26m132 6.76v5.30" stroke="#9cb4de" stroke-width="1" fill="none"/>
<path d="M71.5 108.49v5.26" stroke="#c0aec6" stroke-width="1" fill="none"/>
<path d="M72.5 108.49v5.26m135 -5.26v5.26m-96 12.06v5.30" stroke="#b4a8c0" stroke-width="1" fill="none"/>
<path d="M99.5 108.49v5.26" stroke="#fcf6f0" stroke-width="1" fill="none"/>
<path d="M176.5 108.49v5.26" stroke="#e4c6d2" stroke-width="1" fill="none"/>
<path d="M195.5 108.49v5.26" stroke="#ccbac6" stroke-width="1" fill="none"/>
<path d="M196.5 108.49v5.26m-16 12.06v5.30" stroke="#c0aec0" stroke-width="1" fill="none"/>
<path d="M235.5 108.49v5.26" stroke="#c0a8ba" stroke-width="1" fill="none"/>
<path d="M56.5 113.74v5.26" stroke="#c09ca8" stroke-width="1" fill="none"/>
<path d="M72.5 113.74v5.26" stroke="#a29cba" stroke-width="1" fill="none"/>
<path d="M116.5 113.74v5.26" stroke="#deaeb4" stroke-width="1" fill="none"/>
<path d="M128.5 113.74v5.26" stroke="#9696ba" stroke-width="1" fill="none"/>
<path d="M162.5 113.74v5.26" stroke="#ea6060" stroke-width="1" fill="none"/>
<path d="M173.5 113.74v5.26" stroke="#ea8a84" stroke-width="1" fill="none"/>
<path d="M187.5 113.74v5.26" stroke="#cca2ae" stroke-width="1" fill="none"/>
<path d="M117.5 120.50v5.30" stroke="#de8a8a" stroke-width="1" fill="none"/>
<path d="M150.5 120.50v5.30" stroke="#e48a8a" stroke-width="1" fill="none"/>
<path d="M160.5 120.50v5.30" stroke="#d2a2ae" stroke-width="1" fill="none"/>
<path d="M207.5 120.50v5.30m-59 5.30v5.30" stroke="#ccbacc" stroke-width="1" fill="none"/>
<path d="M224.5 120.50v5.30" stroke="#d2969c" stroke-width="1" fill="none"/>
<path d="M22.5 125.80v5.30" stroke="#427ec0" stroke-width="1" fill="none"/>
<path d="M52.5 125.80v5.30" stroke="#a2aecc" stroke-width="1" fill="none"/>
<path d="M63.5 125.80v5.30" stroke="#c0a8c0" stroke-width="1" fill="none"/>
<path d="M83.5 125.80v5.30m12 -5.30v5.30" stroke="#c09cae" stroke-width="1" fill="none"/>
<path d="M96.5 125.80v5.30" stroke="#d2a8b4" stroke-width="1" fill="none"/>
<path d="M116.5 125.80v5.30" stroke="#d2aeba" stroke-width="1" fill="none"/>
<path d="M144.5 125.80v5.30" stroke="#c06c78" stroke-width="1" fill="none"/>
<path d="M148.5 125.80v5.30" stroke="#debac0" stroke-width="1" fill="none"/>
<path d="M153.5 125.80v5.30" stroke="#d8c6d8" stroke-width="1" fill="none"/>
<path d="M179.5 125.80v5.30" stroke="#c6bad2" stroke-width="1" fill="none"/>
<path d="M236.5 125.80v5.30" stroke="#ae8aa2" stroke-width="1" fill="none"/>
<path d="M237.5 125.80v5.30" stroke="#d87e7e" stroke-width="1" fill="none"/>
<path d="M35.5 131.10v5.30" stroke="#c07e90" stroke-width="1" fill="none"/>
<path d="M46.5 131.10v5.30" stroke="#a8bade" stroke-width="1" fill="none"/>
<path d="M73.5 131.10v5.30" stroke="#cc9ca8" stroke-width="1" fill="none"/>
<path d="M135.5 131.10v5.30" stroke="#ccd2de" stroke-width="1" fill="none"/>
<path d="M152.5 131.10v5.30" stroke="#ea7e7e" stroke-width="1" fill="none"/>
<path d="M218.5 131.10v5.30" stroke="#8aa8d2" stroke-width="1" fill="none"/>
<text x="12" y="144.2" font-size="6.16" textLength="14.05" lengthAdjust="spacingAndGlyphs">Group</text>
<rect x="12" y="147" width="4" height="3.5" fill="#de74c8"/>
<text x="17.9" y="150.4" font-size="6.16" textLength="36.35" lengthAdjust="spacingAndGlyphs">High-ferroptosis</text>
<rect x="12" y="151.5" width="4" height="3.5" fill="#5d9ad6"/>
<text x="17.9" y="155.3" font-size="6.16" textLength="35.44" lengthAdjust="spacingAndGlyphs">Low-ferroptosis</text>
<text x="59.2" y="144" font-size="6.16" textLength="13.33" lengthAdjust="spacingAndGlyphs">Effect</text>
<rect x="59.5" y="146.4" width="4.2" height="4.5" fill="#f8c96a"/>
<rect x="59.5" y="150.9" width="4.2" height="4.6" fill="#d5e38e"/>
<rect x="59.5" y="155.5" width="4.2" height="4.3" fill="#93c57f"/>
<text x="65.1" y="150" font-size="6.16" textLength="49.04" lengthAdjust="spacingAndGlyphs">Ferroptosis promotion</text>
<text x="65.1" y="154.5" font-size="6.16" textLength="52.10" lengthAdjust="spacingAndGlyphs">Ferroptosis suppression</text>
<text x="65.1" y="159" font-size="6.16" textLength="84.82" lengthAdjust="spacingAndGlyphs">Ferroptosis-related energy metabolism</text>
<text x="157" y="145.3" font-size="6.16" textLength="21.08" lengthAdjust="spacingAndGlyphs">Response</text>
<rect x="157" y="147.6" width="4" height="4.2" fill="#5a9ad8"/>
<text x="162.6" y="151.6" font-size="6.16" textLength="7.64" lengthAdjust="spacingAndGlyphs">NR</text>
<rect x="157" y="151.8" width="4" height="4.2" fill="#f4a53a"/>
<text x="162.6" y="156" font-size="6.16" textLength="3.67" lengthAdjust="spacingAndGlyphs">R</text>
<text x="186.4" y="144.3" font-size="6.16" textLength="16.19" lengthAdjust="spacingAndGlyphs">Gender</text>
<rect x="186.4" y="146.7" width="3.7" height="4.2" fill="#fbeef4"/>
<text x="191" y="150.5" font-size="6.16" textLength="16.19" lengthAdjust="spacingAndGlyphs">Famale</text>
<rect x="186.4" y="150.9" width="3.7" height="4.3" fill="#8fc2e8"/>
<text x="191" y="155" font-size="6.16" textLength="11.30" lengthAdjust="spacingAndGlyphs">Male</text>
<rect x="186.4" y="155.2" width="3.7" height="4.6" fill="#bdbdbd"/>
<text x="191" y="159.5" font-size="6.16" textLength="18.94" lengthAdjust="spacingAndGlyphs">Unknow</text>
<defs><linearGradient id="gF" x1="0" x2="1"><stop offset="0" stop-color="#3c80c8"/><stop offset="0.45" stop-color="#ffffff"/><stop offset="0.55" stop-color="#ffffff"/><stop offset="1" stop-color="#ec4c3c"/></linearGradient><linearGradient id="gAge" x1="0" x2="1"><stop offset="0" stop-color="#ebebf1"/><stop offset="1" stop-color="#5c52b4"/></linearGradient><linearGradient id="gZ" x1="0" x2="1"><stop offset="0" stop-color="#2460ae"/><stop offset="0.22" stop-color="#3a78c2"/><stop offset="0.47" stop-color="#ffffff"/><stop offset="0.53" stop-color="#ffffff"/><stop offset="0.76" stop-color="#ee3c30"/><stop offset="1" stop-color="#e8251f"/></linearGradient></defs>
<rect x="221.9" y="140.3" width="37" height="5.4" fill="url(#gF)"/>
<text x="226.2" y="150.3" font-size="6.5" text-anchor="middle" textLength="10.15" lengthAdjust="spacingAndGlyphs">0.45</text>
<text x="240.4" y="150.3" font-size="6.5" text-anchor="middle" textLength="10.15" lengthAdjust="spacingAndGlyphs">0.55</text>
<text x="254.8" y="150.3" font-size="6.5" text-anchor="middle" textLength="10.15" lengthAdjust="spacingAndGlyphs">0.65</text>
<text x="261" y="145.3" font-size="6.16" textLength="24.75" lengthAdjust="spacingAndGlyphs">Ferroptosis</text>
<rect x="221.9" y="152" width="37" height="5.8" fill="url(#gAge)"/>
<text x="224.6" y="162.6" font-size="6.5" text-anchor="middle" textLength="5.80" lengthAdjust="spacingAndGlyphs">20</text>
<text x="240.6" y="162.6" font-size="6.5" text-anchor="middle" textLength="5.80" lengthAdjust="spacingAndGlyphs">60</text>
<text x="255.6" y="162.6" font-size="6.5" text-anchor="middle" textLength="8.70" lengthAdjust="spacingAndGlyphs">100</text>
<text x="261" y="158.4" font-size="6.16" textLength="9.16" lengthAdjust="spacingAndGlyphs">Age</text>
<rect x="293.5" y="140" width="37.2" height="5.8" fill="url(#gZ)"/>
<text x="296" y="150.5" font-size="6.5" text-anchor="middle" style="fill:#444;stroke:#444" textLength="4.83" lengthAdjust="spacingAndGlyphs">-4</text>
<text x="303.5" y="150.5" font-size="6.5" text-anchor="middle" style="fill:#444;stroke:#444" textLength="4.83" lengthAdjust="spacingAndGlyphs">-2</text>
<text x="311.5" y="150.5" font-size="6.5" text-anchor="middle" style="fill:#444;stroke:#444" textLength="2.90" lengthAdjust="spacingAndGlyphs">0</text>
<text x="319.5" y="150.5" font-size="6.5" text-anchor="middle" style="fill:#444;stroke:#444" textLength="2.90" lengthAdjust="spacingAndGlyphs">2</text>
<text x="327.5" y="150.5" font-size="6.5" text-anchor="middle" style="fill:#444;stroke:#444" textLength="2.90" lengthAdjust="spacingAndGlyphs">4</text>
<text x="332.8" y="145.3" font-size="6.16" textLength="15.68" lengthAdjust="spacingAndGlyphs" font-style="italic">z-score</text>
<text x="343" y="5.4" font-size="6.5" textLength="3.87" lengthAdjust="spacingAndGlyphs" font-weight="bold">B</text>
<line x1="373.6" y1="6.8" x2="373.6" y2="45.8" stroke="#444" stroke-width="1"/>
<line x1="373.6" y1="45.8" x2="409.8" y2="45.8" stroke="#444" stroke-width="1"/>
<line x1="372.4" y1="12" x2="373.6" y2="12" stroke="#444" stroke-width="0.5"/>
<text x="371.8" y="13.8" font-size="5.94" text-anchor="end" textLength="6.62" lengthAdjust="spacingAndGlyphs">0.4</text>
<line x1="372.4" y1="21.3" x2="373.6" y2="21.3" stroke="#444" stroke-width="0.5"/>
<text x="371.8" y="23.1" font-size="5.94" text-anchor="end" textLength="6.62" lengthAdjust="spacingAndGlyphs">0.3</text>
<line x1="372.4" y1="29.9" x2="373.6" y2="29.9" stroke="#444" stroke-width="0.5"/>
<text x="371.8" y="31.7" font-size="5.94" text-anchor="end" textLength="6.62" lengthAdjust="spacingAndGlyphs">0.2</text>
<line x1="372.4" y1="39.6" x2="373.6" y2="39.6" stroke="#444" stroke-width="0.5"/>
<text x="371.8" y="41.4" font-size="5.94" text-anchor="end" textLength="6.62" lengthAdjust="spacingAndGlyphs">0.1</text>
<text x="0" y="0" font-size="6.27" text-anchor="middle" textLength="35.70" lengthAdjust="spacingAndGlyphs" transform="translate(363.37,24.20) rotate(-90)">WP_<tspan font-style="italic">ferroptosis</tspan></text>
<text x="392.3" y="3.6" font-size="6.16" text-anchor="middle" textLength="18.23" lengthAdjust="spacingAndGlyphs"><tspan font-style="italic">p</tspan>=0.026</text>
<line x1="382.5" y1="6.2" x2="401.5" y2="6.2" stroke="#666" stroke-width="1"/>
<path d="M383.62 8.20 L383.62 8.54 L383.62 8.87 L383.62 9.21 L383.62 9.54 L383.62 9.88 L383.62 10.22 L383.62 10.55 L383.62 10.89 L383.62 11.22 L383.62 11.56 L383.62 11.90 L383.62 12.23 L383.62 12.57 L383.62 12.90 L383.62 13.24 L383.62 13.58 L383.62 13.91 L383.64 14.25 L383.67 14.58 L383.70 14.92 L383.74 15.26 L383.79 15.59 L383.85 15.93 L383.91 16.26 L383.99 16.60 L384.07 16.94 L384.16 17.27 L384.27 17.61 L384.39 17.94 L384.52 18.28 L384.66 18.62 L384.82 18.95 L384.99 19.29 L385.17 19.62 L385.37 19.96 L385.57 20.30 L385.79 20.63 L386.01 20.97 L386.24 21.30 L386.47 21.64 L386.71 21.98 L386.94 22.31 L387.17 22.65 L387.40 22.98 L387.61 23.32 L387.82 23.66 L388.01 23.99 L388.18 24.33 L388.33 24.66 L388.45 25.00 L388.56 25.34 L388.63 25.67 L388.68 26.01 L388.70 26.34 L388.70 26.68 L388.70 27.02 L388.70 27.35 L388.69 27.69 L388.68 28.02 L388.67 28.36 L388.64 28.70 L388.59 29.03 L388.52 29.37 L388.43 29.70 L388.31 30.04 L388.16 30.38 L387.96 30.71 L387.73 31.05 L387.46 31.38 L387.15 31.72 L386.81 32.06 L386.44 32.39 L386.06 32.73 L385.68 33.06 L385.30 33.40 L384.95 33.74 L384.63 34.07 L384.35 34.41 L384.11 34.74 L383.92 35.08 L383.78 35.42 L383.68 35.75 L383.62 36.09 L383.62 36.42 L383.62 36.76 L383.62 37.10 L383.62 37.43 L383.62 37.77 L383.62 38.10 L383.62 38.44 L383.62 38.78 L383.62 39.11 L383.62 39.45 L383.62 39.78 L383.62 40.12 L383.62 40.46 L383.62 40.79 L383.62 41.13 L383.62 41.46 L383.62 41.80 L383.38 41.80 L383.38 41.46 L383.38 41.13 L383.38 40.79 L383.38 40.46 L383.38 40.12 L383.38 39.78 L383.38 39.45 L383.38 39.11 L383.38 38.78 L383.38 38.44 L383.38 38.10 L383.38 37.77 L383.38 37.43 L383.38 37.10 L383.38 36.76 L383.38 36.42 L383.38 36.09 L383.32 35.75 L383.22 35.42 L383.08 35.08 L382.89 34.74 L382.65 34.41 L382.37 34.07 L382.05 33.74 L381.70 33.40 L381.32 33.06 L380.94 32.73 L380.56 32.39 L380.19 32.06 L379.85 31.72 L379.54 31.38 L379.27 31.05 L379.04 30.71 L378.84 30.38 L378.69 30.04 L378.57 29.70 L378.48 29.37 L378.41 29.03 L378.36 28.70 L378.33 28.36 L378.32 28.02 L378.31 27.69 L378.30 27.35 L378.30 27.02 L378.30 26.68 L378.30 26.34 L378.32 26.01 L378.37 25.67 L378.44 25.34 L378.55 25.00 L378.67 24.66 L378.82 24.33 L378.99 23.99 L379.18 23.66 L379.39 23.32 L379.60 22.98 L379.83 22.65 L380.06 22.31 L380.29 21.98 L380.53 21.64 L380.76 21.30 L380.99 20.97 L381.21 20.63 L381.43 20.30 L381.63 19.96 L381.83 19.62 L382.01 19.29 L382.18 18.95 L382.34 18.62 L382.48 18.28 L382.61 17.94 L382.73 17.61 L382.84 17.27 L382.93 16.94 L383.01 16.60 L383.09 16.26 L383.15 15.93 L383.21 15.59 L383.26 15.26 L383.30 14.92 L383.33 14.58 L383.36 14.25 L383.38 13.91 L383.38 13.58 L383.38 13.24 L383.38 12.90 L383.38 12.57 L383.38 12.23 L383.38 11.90 L383.38 11.56 L383.38 11.22 L383.38 10.89 L383.38 10.55 L383.38 10.22 L383.38 9.88 L383.38 9.54 L383.38 9.21 L383.38 8.87 L383.38 8.54 L383.38 8.20Z" fill="#f46e60" stroke="#2a2a2a" stroke-width="0.5"/>
<circle cx="383.50" cy="26.40" r="1.05" fill="#111"/>
<path d="M400.62 12.30 L400.62 12.59 L400.62 12.88 L400.62 13.17 L400.62 13.46 L400.62 13.76 L400.62 14.05 L400.62 14.34 L400.62 14.63 L400.62 14.92 L400.62 15.21 L400.62 15.50 L400.62 15.79 L400.62 16.08 L400.63 16.37 L400.65 16.66 L400.67 16.96 L400.70 17.25 L400.73 17.54 L400.77 17.83 L400.81 18.12 L400.85 18.41 L400.90 18.70 L400.96 18.99 L401.02 19.28 L401.09 19.58 L401.16 19.87 L401.24 20.16 L401.33 20.45 L401.43 20.74 L401.54 21.03 L401.65 21.32 L401.77 21.61 L401.91 21.90 L402.05 22.19 L402.19 22.48 L402.35 22.78 L402.52 23.07 L402.69 23.36 L402.87 23.65 L403.05 23.94 L403.24 24.23 L403.44 24.52 L403.64 24.81 L403.84 25.10 L404.04 25.40 L404.24 25.69 L404.44 25.98 L404.64 26.27 L404.83 26.56 L405.01 26.85 L405.18 27.14 L405.34 27.43 L405.49 27.72 L405.62 28.01 L405.74 28.30 L405.84 28.60 L405.91 28.89 L405.97 29.18 L406.00 29.47 L406.00 29.76 L406.00 30.05 L405.98 30.34 L405.96 30.63 L405.92 30.92 L405.86 31.21 L405.77 31.51 L405.66 31.80 L405.53 32.09 L405.37 32.38 L405.18 32.67 L404.97 32.96 L404.73 33.25 L404.47 33.54 L404.20 33.83 L403.91 34.12 L403.61 34.42 L403.31 34.71 L403.01 35.00 L402.72 35.29 L402.44 35.58 L402.17 35.87 L401.92 36.16 L401.70 36.45 L401.49 36.74 L401.31 37.03 L401.15 37.33 L401.01 37.62 L400.90 37.91 L400.81 38.20 L400.73 38.49 L400.67 38.78 L400.63 39.07 L400.62 39.36 L400.62 39.65 L400.62 39.95 L400.62 40.24 L400.62 40.53 L400.62 40.82 L400.62 41.11 L400.62 41.40 L400.38 41.40 L400.38 41.11 L400.38 40.82 L400.38 40.53 L400.38 40.24 L400.38 39.95 L400.38 39.65 L400.38 39.36 L400.37 39.07 L400.33 38.78 L400.27 38.49 L400.19 38.20 L400.10 37.91 L399.99 37.62 L399.85 37.33 L399.69 37.03 L399.51 36.74 L399.30 36.45 L399.08 36.16 L398.83 35.87 L398.56 35.58 L398.28 35.29 L397.99 35.00 L397.69 34.71 L397.39 34.42 L397.09 34.12 L396.80 33.83 L396.53 33.54 L396.27 33.25 L396.03 32.96 L395.82 32.67 L395.63 32.38 L395.47 32.09 L395.34 31.80 L395.23 31.51 L395.14 31.21 L395.08 30.92 L395.04 30.63 L395.02 30.34 L395.00 30.05 L395.00 29.76 L395.00 29.47 L395.03 29.18 L395.09 28.89 L395.16 28.60 L395.26 28.30 L395.38 28.01 L395.51 27.72 L395.66 27.43 L395.82 27.14 L395.99 26.85 L396.17 26.56 L396.36 26.27 L396.56 25.98 L396.76 25.69 L396.96 25.40 L397.16 25.10 L397.36 24.81 L397.56 24.52 L397.76 24.23 L397.95 23.94 L398.13 23.65 L398.31 23.36 L398.48 23.07 L398.65 22.78 L398.81 22.48 L398.95 22.19 L399.09 21.90 L399.23 21.61 L399.35 21.32 L399.46 21.03 L399.57 20.74 L399.67 20.45 L399.76 20.16 L399.84 19.87 L399.91 19.58 L399.98 19.28 L400.04 18.99 L400.10 18.70 L400.15 18.41 L400.19 18.12 L400.23 17.83 L400.27 17.54 L400.30 17.25 L400.33 16.96 L400.35 16.66 L400.37 16.37 L400.38 16.08 L400.38 15.79 L400.38 15.50 L400.38 15.21 L400.38 14.92 L400.38 14.63 L400.38 14.34 L400.38 14.05 L400.38 13.76 L400.38 13.46 L400.38 13.17 L400.38 12.88 L400.38 12.59 L400.38 12.30Z" fill="#72ade3" stroke="#2a2a2a" stroke-width="0.5"/>
<circle cx="400.50" cy="29.60" r="1.05" fill="#111"/>
<line x1="373.8" y1="58.5" x2="373.8" y2="97.8" stroke="#444" stroke-width="1"/>
<line x1="373.8" y1="97.8" x2="410.5" y2="97.8" stroke="#444" stroke-width="1"/>
<line x1="372.6" y1="62" x2="373.8" y2="62" stroke="#444" stroke-width="0.5"/>
<text x="372" y="63.8" font-size="5.94" text-anchor="end" textLength="5.30" lengthAdjust="spacingAndGlyphs">15</text>
<line x1="372.6" y1="73" x2="373.8" y2="73" stroke="#444" stroke-width="0.5"/>
<text x="372" y="74.8" font-size="5.94" text-anchor="end" textLength="5.30" lengthAdjust="spacingAndGlyphs">10</text>
<line x1="372.6" y1="85.5" x2="373.8" y2="85.5" stroke="#444" stroke-width="0.5"/>
<text x="372" y="87.3" font-size="5.94" text-anchor="end" textLength="2.65" lengthAdjust="spacingAndGlyphs">5</text>
<line x1="372.6" y1="96" x2="373.8" y2="96" stroke="#444" stroke-width="0.5"/>
<text x="372" y="97.8" font-size="5.94" text-anchor="end" textLength="2.65" lengthAdjust="spacingAndGlyphs">0</text>
<text x="0" y="0" font-size="6.27" text-anchor="middle" textLength="17.10" lengthAdjust="spacingAndGlyphs" transform="translate(364.77,78.20) rotate(-90)">HMOX1</text>
<text x="392.3" y="55.1" font-size="6.16" text-anchor="middle" textLength="18.02" lengthAdjust="spacingAndGlyphs"><tspan font-style="italic">p</tspan>=0.011</text>
<line x1="382.5" y1="57.7" x2="401.5" y2="57.7" stroke="#666" stroke-width="1"/>
<path d="M384.62 69.40 L384.62 69.63 L384.62 69.86 L384.62 70.09 L384.62 70.32 L384.62 70.56 L384.62 70.79 L384.62 71.02 L384.62 71.25 L384.62 71.48 L384.62 71.71 L384.65 71.94 L384.69 72.17 L384.73 72.40 L384.77 72.63 L384.83 72.87 L384.89 73.10 L384.97 73.33 L385.05 73.56 L385.15 73.79 L385.26 74.02 L385.38 74.25 L385.52 74.48 L385.67 74.71 L385.84 74.94 L386.02 75.18 L386.22 75.41 L386.43 75.64 L386.66 75.87 L386.90 76.10 L387.15 76.33 L387.41 76.56 L387.68 76.79 L387.95 77.02 L388.23 77.25 L388.50 77.48 L388.77 77.72 L389.03 77.95 L389.27 78.18 L389.50 78.41 L389.71 78.64 L389.90 78.87 L390.07 79.10 L390.20 79.33 L390.30 79.56 L390.37 79.80 L390.40 80.03 L390.40 80.26 L390.38 80.49 L390.34 80.72 L390.28 80.95 L390.19 81.18 L390.08 81.41 L389.94 81.64 L389.78 81.87 L389.59 82.11 L389.38 82.34 L389.16 82.57 L388.91 82.80 L388.66 83.03 L388.40 83.26 L388.12 83.49 L387.85 83.72 L387.58 83.95 L387.31 84.18 L387.04 84.42 L386.79 84.65 L386.54 84.88 L386.31 85.11 L386.10 85.34 L385.89 85.57 L385.71 85.80 L385.54 86.03 L385.39 86.26 L385.26 86.49 L385.14 86.72 L385.03 86.96 L384.94 87.19 L384.86 87.42 L384.79 87.65 L384.74 87.88 L384.69 88.11 L384.65 88.34 L384.62 88.57 L384.62 88.80 L384.62 89.03 L384.62 89.27 L384.62 89.50 L384.62 89.73 L384.62 89.96 L384.62 90.19 L384.62 90.42 L384.62 90.65 L384.62 90.88 L384.62 91.11 L384.62 91.34 L384.62 91.58 L384.62 91.81 L384.62 92.04 L384.62 92.27 L384.62 92.50 L384.38 92.50 L384.38 92.27 L384.38 92.04 L384.38 91.81 L384.38 91.58 L384.38 91.34 L384.38 91.11 L384.38 90.88 L384.38 90.65 L384.38 90.42 L384.38 90.19 L384.38 89.96 L384.38 89.73 L384.38 89.50 L384.38 89.27 L384.38 89.03 L384.38 88.80 L384.38 88.57 L384.35 88.34 L384.31 88.11 L384.26 87.88 L384.21 87.65 L384.14 87.42 L384.06 87.19 L383.97 86.96 L383.86 86.72 L383.74 86.49 L383.61 86.26 L383.46 86.03 L383.29 85.80 L383.11 85.57 L382.90 85.34 L382.69 85.11 L382.46 84.88 L382.21 84.65 L381.96 84.42 L381.69 84.18 L381.42 83.95 L381.15 83.72 L380.88 83.49 L380.60 83.26 L380.34 83.03 L380.09 82.80 L379.84 82.57 L379.62 82.34 L379.41 82.11 L379.22 81.87 L379.06 81.64 L378.92 81.41 L378.81 81.18 L378.72 80.95 L378.66 80.72 L378.62 80.49 L378.60 80.26 L378.60 80.03 L378.63 79.80 L378.70 79.56 L378.80 79.33 L378.93 79.10 L379.10 78.87 L379.29 78.64 L379.50 78.41 L379.73 78.18 L379.97 77.95 L380.23 77.72 L380.50 77.48 L380.77 77.25 L381.05 77.02 L381.32 76.79 L381.59 76.56 L381.85 76.33 L382.10 76.10 L382.34 75.87 L382.57 75.64 L382.78 75.41 L382.98 75.18 L383.16 74.94 L383.33 74.71 L383.48 74.48 L383.62 74.25 L383.74 74.02 L383.85 73.79 L383.95 73.56 L384.03 73.33 L384.11 73.10 L384.17 72.87 L384.23 72.63 L384.27 72.40 L384.31 72.17 L384.35 71.94 L384.38 71.71 L384.38 71.48 L384.38 71.25 L384.38 71.02 L384.38 70.79 L384.38 70.56 L384.38 70.32 L384.38 70.09 L384.38 69.86 L384.38 69.63 L384.38 69.40Z" fill="#f46e60" stroke="#2a2a2a" stroke-width="0.5"/>
<circle cx="384.50" cy="80.10" r="1.05" fill="#111"/>
<path d="M401.22 62.10 L401.22 62.43 L401.22 62.75 L401.22 63.08 L401.22 63.41 L401.22 63.73 L401.22 64.06 L401.22 64.39 L401.22 64.72 L401.22 65.04 L401.22 65.37 L401.22 65.70 L401.22 66.02 L401.22 66.35 L401.22 66.68 L401.22 67.00 L401.22 67.33 L401.22 67.66 L401.22 67.99 L401.23 68.31 L401.25 68.64 L401.27 68.97 L401.29 69.29 L401.31 69.62 L401.34 69.95 L401.37 70.28 L401.41 70.60 L401.45 70.93 L401.49 71.26 L401.54 71.58 L401.59 71.91 L401.65 72.24 L401.71 72.56 L401.78 72.89 L401.85 73.22 L401.93 73.55 L402.02 73.87 L402.12 74.20 L402.23 74.53 L402.34 74.85 L402.46 75.18 L402.59 75.51 L402.73 75.83 L402.88 76.16 L403.04 76.49 L403.21 76.81 L403.39 77.14 L403.58 77.47 L403.78 77.80 L403.98 78.12 L404.20 78.45 L404.42 78.78 L404.65 79.10 L404.88 79.43 L405.12 79.76 L405.36 80.09 L405.60 80.41 L405.83 80.74 L406.07 81.07 L406.29 81.39 L406.51 81.72 L406.71 82.05 L406.89 82.37 L407.04 82.70 L407.15 83.03 L407.20 83.35 L407.14 83.68 L407.00 84.01 L406.79 84.34 L406.53 84.66 L406.22 84.99 L405.87 85.32 L405.49 85.64 L405.10 85.97 L404.71 86.30 L404.31 86.62 L403.93 86.95 L403.57 87.28 L403.23 87.61 L402.92 87.93 L402.64 88.26 L402.39 88.59 L402.17 88.91 L401.98 89.24 L401.81 89.57 L401.67 89.89 L401.55 90.22 L401.46 90.55 L401.38 90.88 L401.31 91.20 L401.26 91.53 L401.22 91.86 L401.22 92.18 L401.22 92.51 L401.22 92.84 L401.22 93.16 L401.22 93.49 L401.22 93.82 L401.22 94.15 L401.22 94.47 L401.22 94.80 L400.98 94.80 L400.98 94.47 L400.98 94.15 L400.98 93.82 L400.98 93.49 L400.98 93.16 L400.98 92.84 L400.98 92.51 L400.98 92.18 L400.98 91.86 L400.94 91.53 L400.89 91.20 L400.82 90.88 L400.74 90.55 L400.65 90.22 L400.53 89.89 L400.39 89.57 L400.22 89.24 L400.03 88.91 L399.81 88.59 L399.56 88.26 L399.28 87.93 L398.97 87.61 L398.63 87.28 L398.27 86.95 L397.89 86.62 L397.49 86.30 L397.10 85.97 L396.71 85.64 L396.33 85.32 L395.98 84.99 L395.67 84.66 L395.41 84.34 L395.20 84.01 L395.06 83.68 L395.00 83.35 L395.05 83.03 L395.16 82.70 L395.31 82.37 L395.49 82.05 L395.69 81.72 L395.91 81.39 L396.13 81.07 L396.37 80.74 L396.60 80.41 L396.84 80.09 L397.08 79.76 L397.32 79.43 L397.55 79.10 L397.78 78.78 L398.00 78.45 L398.22 78.12 L398.42 77.80 L398.62 77.47 L398.81 77.14 L398.99 76.81 L399.16 76.49 L399.32 76.16 L399.47 75.83 L399.61 75.51 L399.74 75.18 L399.86 74.85 L399.97 74.53 L400.08 74.20 L400.18 73.87 L400.27 73.55 L400.35 73.22 L400.42 72.89 L400.49 72.56 L400.55 72.24 L400.61 71.91 L400.66 71.58 L400.71 71.26 L400.75 70.93 L400.79 70.60 L400.83 70.28 L400.86 69.95 L400.89 69.62 L400.91 69.29 L400.93 68.97 L400.95 68.64 L400.97 68.31 L400.98 67.99 L400.98 67.66 L400.98 67.33 L400.98 67.00 L400.98 66.68 L400.98 66.35 L400.98 66.02 L400.98 65.70 L400.98 65.37 L400.98 65.04 L400.98 64.72 L400.98 64.39 L400.98 64.06 L400.98 63.73 L400.98 63.41 L400.98 63.08 L400.98 62.75 L400.98 62.43 L400.98 62.10Z" fill="#72ade3" stroke="#2a2a2a" stroke-width="0.5"/>
<circle cx="401.10" cy="83.30" r="1.05" fill="#111"/>
<line x1="374.6" y1="112.8" x2="374.6" y2="152" stroke="#444" stroke-width="1"/>
<line x1="374.6" y1="152" x2="411.3" y2="152" stroke="#444" stroke-width="1"/>
<line x1="373.4" y1="115" x2="374.6" y2="115" stroke="#444" stroke-width="0.5"/>
<text x="372.8" y="116.8" font-size="5.94" text-anchor="end" textLength="9.28" lengthAdjust="spacingAndGlyphs">10.0</text>
<line x1="373.4" y1="126" x2="374.6" y2="126" stroke="#444" stroke-width="0.5"/>
<text x="372.8" y="127.8" font-size="5.94" text-anchor="end" textLength="6.62" lengthAdjust="spacingAndGlyphs">7.5</text>
<line x1="373.4" y1="136.7" x2="374.6" y2="136.7" stroke="#444" stroke-width="0.5"/>
<text x="372.8" y="138.5" font-size="5.94" text-anchor="end" textLength="6.62" lengthAdjust="spacingAndGlyphs">5.0</text>
<line x1="373.4" y1="148" x2="374.6" y2="148" stroke="#444" stroke-width="0.5"/>
<text x="372.8" y="149.8" font-size="5.94" text-anchor="end" textLength="6.62" lengthAdjust="spacingAndGlyphs">2.5</text>
<text x="0" y="0" font-size="6.27" text-anchor="middle" textLength="8.80" lengthAdjust="spacingAndGlyphs" transform="translate(363.07,129.00) rotate(-90)"><tspan font-style="italic">JUN</tspan></text>
<text x="392.3" y="112.8" font-size="6.16" text-anchor="middle" textLength="18.23" lengthAdjust="spacingAndGlyphs"><tspan font-style="italic">p</tspan>=0.010</text>
<line x1="382.5" y1="115.4" x2="401.5" y2="115.4" stroke="#666" stroke-width="1"/>
<path d="M384.62 121.60 L384.62 121.88 L384.62 122.16 L384.62 122.45 L384.62 122.73 L384.62 123.01 L384.62 123.29 L384.62 123.57 L384.62 123.86 L384.62 124.14 L384.62 124.42 L384.62 124.70 L384.64 124.98 L384.69 125.27 L384.74 125.55 L384.81 125.83 L384.89 126.11 L384.99 126.39 L385.10 126.68 L385.24 126.96 L385.38 127.24 L385.55 127.52 L385.73 127.80 L385.92 128.09 L386.13 128.37 L386.35 128.65 L386.58 128.93 L386.81 129.21 L387.04 129.50 L387.27 129.78 L387.50 130.06 L387.71 130.34 L387.92 130.62 L388.11 130.91 L388.29 131.19 L388.45 131.47 L388.59 131.75 L388.71 132.03 L388.81 132.32 L388.90 132.60 L388.96 132.88 L389.02 133.16 L389.05 133.44 L389.08 133.73 L389.09 134.01 L389.10 134.29 L389.10 134.57 L389.10 134.85 L389.10 135.14 L389.10 135.42 L389.09 135.70 L389.08 135.98 L389.06 136.26 L389.03 136.55 L388.99 136.83 L388.93 137.11 L388.87 137.39 L388.78 137.67 L388.67 137.96 L388.55 138.24 L388.41 138.52 L388.25 138.80 L388.07 139.08 L387.87 139.37 L387.66 139.65 L387.43 139.93 L387.20 140.21 L386.95 140.49 L386.71 140.78 L386.47 141.06 L386.23 141.34 L386.00 141.62 L385.79 141.90 L385.59 142.19 L385.41 142.47 L385.24 142.75 L385.10 143.03 L384.98 143.31 L384.87 143.60 L384.78 143.88 L384.71 144.16 L384.66 144.44 L384.62 144.72 L384.62 145.01 L384.62 145.29 L384.62 145.57 L384.62 145.85 L384.62 146.13 L384.62 146.42 L384.62 146.70 L384.62 146.98 L384.62 147.26 L384.62 147.54 L384.62 147.83 L384.62 148.11 L384.62 148.39 L384.62 148.67 L384.62 148.95 L384.62 149.24 L384.62 149.52 L384.62 149.80 L384.38 149.80 L384.38 149.52 L384.38 149.24 L384.38 148.95 L384.38 148.67 L384.38 148.39 L384.38 148.11 L384.38 147.83 L384.38 147.54 L384.38 147.26 L384.38 146.98 L384.38 146.70 L384.38 146.42 L384.38 146.13 L384.38 145.85 L384.38 145.57 L384.38 145.29 L384.38 145.01 L384.38 144.72 L384.34 144.44 L384.29 144.16 L384.22 143.88 L384.13 143.60 L384.02 143.31 L383.90 143.03 L383.76 142.75 L383.59 142.47 L383.41 142.19 L383.21 141.90 L383.00 141.62 L382.77 141.34 L382.53 141.06 L382.29 140.78 L382.05 140.49 L381.80 140.21 L381.57 139.93 L381.34 139.65 L381.13 139.37 L380.93 139.08 L380.75 138.80 L380.59 138.52 L380.45 138.24 L380.33 137.96 L380.22 137.67 L380.13 137.39 L380.07 137.11 L380.01 136.83 L379.97 136.55 L379.94 136.26 L379.92 135.98 L379.91 135.70 L379.90 135.42 L379.90 135.14 L379.90 134.85 L379.90 134.57 L379.90 134.29 L379.91 134.01 L379.92 133.73 L379.95 133.44 L379.98 133.16 L380.04 132.88 L380.10 132.60 L380.19 132.32 L380.29 132.03 L380.41 131.75 L380.55 131.47 L380.71 131.19 L380.89 130.91 L381.08 130.62 L381.29 130.34 L381.50 130.06 L381.73 129.78 L381.96 129.50 L382.19 129.21 L382.42 128.93 L382.65 128.65 L382.87 128.37 L383.08 128.09 L383.27 127.80 L383.45 127.52 L383.62 127.24 L383.76 126.96 L383.90 126.68 L384.01 126.39 L384.11 126.11 L384.19 125.83 L384.26 125.55 L384.31 125.27 L384.36 124.98 L384.38 124.70 L384.38 124.42 L384.38 124.14 L384.38 123.86 L384.38 123.57 L384.38 123.29 L384.38 123.01 L384.38 122.73 L384.38 122.45 L384.38 122.16 L384.38 121.88 L384.38 121.60Z" fill="#f46e60" stroke="#2a2a2a" stroke-width="0.5"/>
<circle cx="384.50" cy="134.70" r="1.05" fill="#111"/>
<path d="M400.72 121.60 L400.72 121.89 L400.72 122.17 L400.72 122.46 L400.72 122.75 L400.72 123.03 L400.72 123.32 L400.72 123.61 L400.72 123.90 L400.72 124.18 L400.72 124.47 L400.72 124.76 L400.72 125.04 L400.72 125.33 L400.72 125.62 L400.74 125.91 L400.76 126.19 L400.80 126.48 L400.83 126.77 L400.88 127.05 L400.93 127.34 L400.98 127.63 L401.05 127.91 L401.12 128.20 L401.20 128.49 L401.30 128.78 L401.40 129.06 L401.52 129.35 L401.64 129.64 L401.78 129.92 L401.94 130.21 L402.10 130.50 L402.28 130.78 L402.47 131.07 L402.67 131.36 L402.89 131.65 L403.11 131.93 L403.35 132.22 L403.59 132.51 L403.84 132.79 L404.10 133.08 L404.36 133.37 L404.61 133.65 L404.87 133.94 L405.13 134.23 L405.37 134.51 L405.61 134.80 L405.84 135.09 L406.05 135.38 L406.24 135.66 L406.41 135.95 L406.56 136.24 L406.68 136.52 L406.78 136.81 L406.85 137.10 L406.89 137.38 L406.90 137.67 L406.85 137.96 L406.76 138.25 L406.61 138.53 L406.43 138.82 L406.21 139.11 L405.95 139.39 L405.67 139.68 L405.38 139.97 L405.06 140.25 L404.74 140.54 L404.41 140.83 L404.09 141.12 L403.77 141.40 L403.46 141.69 L403.16 141.98 L402.88 142.26 L402.61 142.55 L402.36 142.84 L402.14 143.12 L401.93 143.41 L401.75 143.70 L401.58 143.99 L401.43 144.27 L401.30 144.56 L401.19 144.85 L401.09 145.13 L401.00 145.42 L400.93 145.71 L400.87 146.00 L400.82 146.28 L400.78 146.57 L400.74 146.86 L400.72 147.14 L400.72 147.43 L400.72 147.72 L400.72 148.00 L400.72 148.29 L400.72 148.58 L400.72 148.87 L400.72 149.15 L400.72 149.44 L400.72 149.73 L400.72 150.01 L400.72 150.30 L400.48 150.30 L400.48 150.01 L400.48 149.73 L400.48 149.44 L400.48 149.15 L400.48 148.87 L400.48 148.58 L400.48 148.29 L400.48 148.00 L400.48 147.72 L400.48 147.43 L400.48 147.14 L400.46 146.86 L400.42 146.57 L400.38 146.28 L400.33 146.00 L400.27 145.71 L400.20 145.42 L400.11 145.13 L400.01 144.85 L399.90 144.56 L399.77 144.27 L399.62 143.99 L399.45 143.70 L399.27 143.41 L399.06 143.12 L398.84 142.84 L398.59 142.55 L398.32 142.26 L398.04 141.98 L397.74 141.69 L397.43 141.40 L397.11 141.12 L396.79 140.83 L396.46 140.54 L396.14 140.25 L395.82 139.97 L395.53 139.68 L395.25 139.39 L394.99 139.11 L394.77 138.82 L394.59 138.53 L394.44 138.25 L394.35 137.96 L394.30 137.67 L394.31 137.38 L394.35 137.10 L394.42 136.81 L394.52 136.52 L394.64 136.24 L394.79 135.95 L394.96 135.66 L395.15 135.38 L395.36 135.09 L395.59 134.80 L395.83 134.51 L396.07 134.23 L396.33 133.94 L396.59 133.65 L396.84 133.37 L397.10 133.08 L397.36 132.79 L397.61 132.51 L397.85 132.22 L398.09 131.93 L398.31 131.65 L398.53 131.36 L398.73 131.07 L398.92 130.78 L399.10 130.50 L399.26 130.21 L399.42 129.92 L399.56 129.64 L399.68 129.35 L399.80 129.06 L399.90 128.78 L400.00 128.49 L400.08 128.20 L400.15 127.91 L400.22 127.63 L400.27 127.34 L400.32 127.05 L400.37 126.77 L400.40 126.48 L400.44 126.19 L400.46 125.91 L400.48 125.62 L400.48 125.33 L400.48 125.04 L400.48 124.76 L400.48 124.47 L400.48 124.18 L400.48 123.90 L400.48 123.61 L400.48 123.32 L400.48 123.03 L400.48 122.75 L400.48 122.46 L400.48 122.17 L400.48 121.89 L400.48 121.60Z" fill="#72ade3" stroke="#2a2a2a" stroke-width="0.5"/>
<circle cx="400.60" cy="137.60" r="1.05" fill="#111"/>
<rect x="411.3" y="6.5" width="5" height="4.2" fill="#f46e60" stroke="#333" stroke-width="0.4"/>
<circle cx="413.8" cy="8.6" r="0.6" fill="#111"/>
<text x="418.8" y="10.2" font-size="6.16" textLength="3.67" lengthAdjust="spacingAndGlyphs">R</text>
<rect x="411.3" y="13.5" width="5" height="4.2" fill="#72ade3" stroke="#333" stroke-width="0.4"/>
<circle cx="413.8" cy="15.6" r="0.6" fill="#111"/>
<text x="418.8" y="17.3" font-size="6.16" textLength="7.64" lengthAdjust="spacingAndGlyphs">NR</text>
<text x="2.6" y="177.3" font-size="6.61" textLength="4.26" lengthAdjust="spacingAndGlyphs" font-weight="bold">C</text>
<line x1="18.3" y1="193.7" x2="18.3" y2="244.3" stroke="#444" stroke-width="1"/>
<line x1="18.3" y1="244.3" x2="113.5" y2="244.3" stroke="#444" stroke-width="1"/>
<line x1="17" y1="197.3" x2="18.3" y2="197.3" stroke="#444" stroke-width="0.5"/>
<text x="16.6" y="199.3" font-size="6.5" text-anchor="end" textLength="10.15" lengthAdjust="spacingAndGlyphs">1.00</text>
<line x1="17" y1="208.2" x2="18.3" y2="208.2" stroke="#444" stroke-width="0.5"/>
<text x="16.6" y="210.2" font-size="6.5" text-anchor="end" textLength="10.15" lengthAdjust="spacingAndGlyphs">0.75</text>
<line x1="17" y1="219" x2="18.3" y2="219" stroke="#444" stroke-width="0.5"/>
<text x="16.6" y="221" font-size="6.5" text-anchor="end" textLength="10.15" lengthAdjust="spacingAndGlyphs">0.50</text>
<line x1="17" y1="230.2" x2="18.3" y2="230.2" stroke="#444" stroke-width="0.5"/>
<text x="16.6" y="232.2" font-size="6.5" text-anchor="end" textLength="10.15" lengthAdjust="spacingAndGlyphs">0.25</text>
<line x1="17" y1="241.7" x2="18.3" y2="241.7" stroke="#444" stroke-width="0.5"/>
<text x="16.6" y="243.7" font-size="6.5" text-anchor="end" textLength="10.15" lengthAdjust="spacingAndGlyphs">0.00</text>
<text x="0" y="0" font-size="6.05" text-anchor="middle" textLength="34.70" lengthAdjust="spacingAndGlyphs" transform="translate(4.60,216.90) rotate(-90)">Percentage (%)</text>
<rect x="20.3" y="195.3" width="13.1" height="11.1" fill="#b4d5eb"/>
<rect x="20.3" y="206.4" width="13.1" height="35.8" fill="#cdb6de"/>
<text x="26.85" y="202.95" font-size="6.72" text-anchor="middle" textLength="3.00" lengthAdjust="spacingAndGlyphs">6</text>
<text x="26.85" y="226.4" font-size="6.72" text-anchor="middle" textLength="6.00" lengthAdjust="spacingAndGlyphs">20</text>
<rect x="20.7" y="246.3" width="12.3" height="3.3" fill="#b24fba"/>
<rect x="35" y="195.3" width="13" height="28.6" fill="#b4d5eb"/>
<rect x="35" y="223.9" width="13" height="18.3" fill="#cdb6de"/>
<text x="41.5" y="211.7" font-size="6.72" text-anchor="middle" textLength="6.00" lengthAdjust="spacingAndGlyphs">12</text>
<text x="41.5" y="235.15" font-size="6.72" text-anchor="middle" textLength="3.00" lengthAdjust="spacingAndGlyphs">8</text>
<rect x="35.4" y="246.3" width="12.2" height="3.3" fill="#f4a6d2"/>
<rect x="52.9" y="195.3" width="13.1" height="8.9" fill="#b4d5eb"/>
<rect x="52.9" y="204.2" width="13.1" height="38" fill="#cdb6de"/>
<text x="59.45" y="201.85" font-size="6.72" text-anchor="middle" textLength="3.00" lengthAdjust="spacingAndGlyphs">5</text>
<text x="59.45" y="225.3" font-size="6.72" text-anchor="middle" textLength="6.00" lengthAdjust="spacingAndGlyphs">21</text>
<rect x="53.3" y="246.3" width="12.3" height="3.3" fill="#f26a3b"/>
<rect x="67.9" y="195.3" width="13.1" height="30.9" fill="#b4d5eb"/>
<rect x="67.9" y="226.2" width="13.1" height="16" fill="#cdb6de"/>
<text x="74.45" y="212.85" font-size="6.72" text-anchor="middle" textLength="6.00" lengthAdjust="spacingAndGlyphs">13</text>
<text x="74.45" y="236.3" font-size="6.72" text-anchor="middle" textLength="3.00" lengthAdjust="spacingAndGlyphs">7</text>
<rect x="68.3" y="246.3" width="12.3" height="3.3" fill="#f8b03e"/>
<rect x="85.6" y="195.3" width="12.6" height="6.8" fill="#b4d5eb"/>
<rect x="85.6" y="202.1" width="12.6" height="40.1" fill="#cdb6de"/>
<text x="91.9" y="200.8" font-size="6.72" text-anchor="middle" textLength="3.00" lengthAdjust="spacingAndGlyphs">3</text>
<text x="91.9" y="224.25" font-size="6.72" text-anchor="middle" textLength="6.00" lengthAdjust="spacingAndGlyphs">19</text>
<rect x="86" y="246.3" width="11.8" height="3.3" fill="#2fa548"/>
<rect x="100.3" y="195.3" width="12.6" height="25.6" fill="#b4d5eb"/>
<rect x="100.3" y="220.9" width="12.6" height="21.3" fill="#cdb6de"/>
<text x="106.6" y="210.2" font-size="6.72" text-anchor="middle" textLength="6.00" lengthAdjust="spacingAndGlyphs">12</text>
<text x="106.6" y="233.65" font-size="6.72" text-anchor="middle" textLength="6.00" lengthAdjust="spacingAndGlyphs">10</text>
<rect x="100.7" y="246.3" width="11.8" height="3.3" fill="#a9d86a"/>
<line x1="20.3" y1="192.3" x2="47.7" y2="192.3" stroke="#555" stroke-width="0.9"/>
<text x="34" y="189.8" font-size="6.5" text-anchor="middle" textLength="19.22" lengthAdjust="spacingAndGlyphs"><tspan font-style="italic">p</tspan>=0.025</text>
<line x1="53.5" y1="192.3" x2="80.7" y2="192.3" stroke="#555" stroke-width="0.9"/>
<text x="67.1" y="189.8" font-size="6.5" text-anchor="middle" textLength="19.22" lengthAdjust="spacingAndGlyphs"><tspan font-style="italic">p</tspan>=0.004</text>
<line x1="85.6" y1="192.3" x2="112.4" y2="192.3" stroke="#555" stroke-width="0.9"/>
<text x="99" y="189.8" font-size="6.5" text-anchor="middle" textLength="19.01" lengthAdjust="spacingAndGlyphs"><tspan font-style="italic">p</tspan>=0.011</text>
<text x="115.9" y="183.1" font-size="6.16" textLength="21.08" lengthAdjust="spacingAndGlyphs">Response</text>
<rect x="115.9" y="186.9" width="5.1" height="4.9" fill="#b4d5eb"/>
<text x="125.7" y="190.1" font-size="5.6" textLength="6.95" lengthAdjust="spacingAndGlyphs">NR</text>
<rect x="152.4" y="186.9" width="4.6" height="4.9" fill="#cdb6de"/>
<text x="161.2" y="190.1" font-size="5.6" textLength="3.34" lengthAdjust="spacingAndGlyphs">R</text>
<rect x="115.9" y="197.2" width="12.1" height="3.1" fill="#b24fba"/>
<rect x="152.4" y="197.2" width="11.6" height="3.1" fill="#f4a6d2"/>
<text x="115.9" y="205.2" font-size="5.6" textLength="33.75" lengthAdjust="spacingAndGlyphs">High Ferroptosis</text>
<text x="115.9" y="210.8" font-size="5.6" textLength="31.85" lengthAdjust="spacingAndGlyphs">+High HMOX1</text>
<text x="153.3" y="205.2" font-size="5.6" textLength="32.91" lengthAdjust="spacingAndGlyphs">Low Ferroptosis</text>
<text x="153.3" y="210.8" font-size="5.6" textLength="31.01" lengthAdjust="spacingAndGlyphs">+Low HMOX1</text>
<rect x="115.9" y="218.2" width="12.1" height="3.1" fill="#f26a3b"/>
<rect x="152.4" y="218.2" width="11.6" height="3.1" fill="#f8b03e"/>
<text x="115.9" y="226.2" font-size="5.6" textLength="33.75" lengthAdjust="spacingAndGlyphs">High Ferroptosis</text>
<text x="115.9" y="231.8" font-size="5.6" textLength="23.24" lengthAdjust="spacingAndGlyphs">+High JUN</text>
<text x="153.3" y="226.2" font-size="5.6" textLength="32.91" lengthAdjust="spacingAndGlyphs">Low Ferroptosis</text>
<text x="153.3" y="231.8" font-size="5.6" textLength="22.40" lengthAdjust="spacingAndGlyphs">+Low JUN</text>
<rect x="115.9" y="238.9" width="12.1" height="3.1" fill="#2fa548"/>
<rect x="152.4" y="238.9" width="11.6" height="3.1" fill="#a9d86a"/>
<text x="115.9" y="246.9" font-size="5.6" textLength="20.42" lengthAdjust="spacingAndGlyphs">High JUN</text>
<text x="115.9" y="252.5" font-size="5.6" textLength="31.85" lengthAdjust="spacingAndGlyphs">+High HMOX1</text>
<text x="153.3" y="246.9" font-size="5.6" textLength="19.58" lengthAdjust="spacingAndGlyphs">Low JUN</text>
<text x="153.3" y="252.5" font-size="5.6" textLength="31.01" lengthAdjust="spacingAndGlyphs">+Low HMOX1</text>
<text x="178.1" y="177.7" font-size="5.6" textLength="3.61" lengthAdjust="spacingAndGlyphs" font-weight="bold">D</text>
<line x1="212.8" y1="194.3" x2="212.8" y2="243.3" stroke="#333" stroke-width="0.8"/>
<line x1="212.8" y1="243.3" x2="271.5" y2="243.3" stroke="#333" stroke-width="0.8"/>
<line x1="211.6" y1="197.1" x2="212.8" y2="197.1" stroke="#333" stroke-width="0.5"/>
<text x="211.1" y="198.9" font-size="5.82" text-anchor="end" textLength="9.10" lengthAdjust="spacingAndGlyphs">1.00</text>
<line x1="211.6" y1="208.18" x2="212.8" y2="208.18" stroke="#333" stroke-width="0.5"/>
<text x="211.1" y="209.98" font-size="5.82" text-anchor="end" textLength="9.10" lengthAdjust="spacingAndGlyphs">0.75</text>
<line x1="211.6" y1="219.25" x2="212.8" y2="219.25" stroke="#333" stroke-width="0.5"/>
<text x="211.1" y="221.05" font-size="5.82" text-anchor="end" textLength="9.10" lengthAdjust="spacingAndGlyphs">0.50</text>
<line x1="211.6" y1="230.32" x2="212.8" y2="230.32" stroke="#333" stroke-width="0.5"/>
<text x="211.1" y="232.12" font-size="5.82" text-anchor="end" textLength="9.10" lengthAdjust="spacingAndGlyphs">0.25</text>
<line x1="211.6" y1="241.4" x2="212.8" y2="241.4" stroke="#333" stroke-width="0.5"/>
<text x="211.1" y="243.2" font-size="5.82" text-anchor="end" textLength="9.10" lengthAdjust="spacingAndGlyphs">0.00</text>
<line x1="215.2" y1="243.3" x2="215.2" y2="244.5" stroke="#333" stroke-width="0.5"/>
<text x="215.2" y="248.5" font-size="5.82" text-anchor="middle" textLength="2.60" lengthAdjust="spacingAndGlyphs">0</text>
<line x1="232.47" y1="243.3" x2="232.47" y2="244.5" stroke="#333" stroke-width="0.5"/>
<text x="232.47" y="248.5" font-size="5.82" text-anchor="middle" textLength="5.20" lengthAdjust="spacingAndGlyphs">10</text>
<line x1="249.74" y1="243.3" x2="249.74" y2="244.5" stroke="#333" stroke-width="0.5"/>
<text x="249.74" y="248.5" font-size="5.82" text-anchor="middle" textLength="5.20" lengthAdjust="spacingAndGlyphs">20</text>
<line x1="267.01" y1="243.3" x2="267.01" y2="244.5" stroke="#333" stroke-width="0.5"/>
<text x="267.01" y="248.5" font-size="5.82" text-anchor="middle" textLength="5.20" lengthAdjust="spacingAndGlyphs">30</text>
<text x="243.3" y="257" font-size="6.16" text-anchor="middle" textLength="30.51" lengthAdjust="spacingAndGlyphs">Time (month)</text>
<text x="218" y="231.7" font-size="6.16" textLength="23.12" lengthAdjust="spacingAndGlyphs">HR=0.387</text>
<text x="218" y="238.7" font-size="6.16" textLength="18.23" lengthAdjust="spacingAndGlyphs"><tspan font-style="italic">p</tspan>=0.038</text>
<path d="M215.20 197.10 H217.79 V201.53 H219.52 V202.86 H222.45 V209.06 H264.42" fill="none" stroke="#b23fbd" stroke-width="0.8"/>
<line x1="232.43" y1="207.96" x2="232.43" y2="210.16" stroke="#b23fbd" stroke-width="0.6"/>
<line x1="239.81" y1="207.96" x2="239.81" y2="210.16" stroke="#b23fbd" stroke-width="0.6"/>
<line x1="245.72" y1="207.96" x2="245.72" y2="210.16" stroke="#b23fbd" stroke-width="0.6"/>
<line x1="252.11" y1="207.96" x2="252.11" y2="210.16" stroke="#b23fbd" stroke-width="0.6"/>
<line x1="255.56" y1="207.96" x2="255.56" y2="210.16" stroke="#b23fbd" stroke-width="0.6"/>
<line x1="258.51" y1="207.96" x2="258.51" y2="210.16" stroke="#b23fbd" stroke-width="0.6"/>
<line x1="260.97" y1="207.96" x2="260.97" y2="210.16" stroke="#b23fbd" stroke-width="0.6"/>
<line x1="264.42" y1="207.96" x2="264.42" y2="210.16" stroke="#b23fbd" stroke-width="0.6"/>
<path d="M215.20 197.10 H217.45 V201.53 H219.00 V205.96 H220.38 V212.60 H223.66 V219.25 H230.74 V221.47 H236.79 V223.68 H266.15" fill="none" stroke="#f08ac2" stroke-width="0.8"/>
<line x1="233.03" y1="222.58" x2="233.03" y2="224.78" stroke="#f08ac2" stroke-width="0.6"/>
<line x1="240.67" y1="222.58" x2="240.67" y2="224.78" stroke="#f08ac2" stroke-width="0.6"/>
<line x1="246.79" y1="222.58" x2="246.79" y2="224.78" stroke="#f08ac2" stroke-width="0.6"/>
<line x1="253.41" y1="222.58" x2="253.41" y2="224.78" stroke="#f08ac2" stroke-width="0.6"/>
<line x1="256.98" y1="222.58" x2="256.98" y2="224.78" stroke="#f08ac2" stroke-width="0.6"/>
<line x1="260.03" y1="222.58" x2="260.03" y2="224.78" stroke="#f08ac2" stroke-width="0.6"/>
<line x1="262.58" y1="222.58" x2="262.58" y2="224.78" stroke="#f08ac2" stroke-width="0.6"/>
<line x1="266.15" y1="222.58" x2="266.15" y2="224.78" stroke="#f08ac2" stroke-width="0.6"/>
<text x="0" y="0" font-size="6.27" text-anchor="middle" textLength="57.50" lengthAdjust="spacingAndGlyphs" transform="translate(197.67,220.80) rotate(-90)">Progression-free-survival</text>
<line x1="285.5" y1="194.8" x2="285.5" y2="243.3" stroke="#333" stroke-width="0.8"/>
<line x1="285.5" y1="243.3" x2="343.7" y2="243.3" stroke="#333" stroke-width="0.8"/>
<line x1="284.3" y1="197" x2="285.5" y2="197" stroke="#333" stroke-width="0.5"/>
<text x="283.8" y="198.8" font-size="5.82" text-anchor="end" textLength="9.10" lengthAdjust="spacingAndGlyphs">1.00</text>
<line x1="284.3" y1="207.93" x2="285.5" y2="207.93" stroke="#333" stroke-width="0.5"/>
<text x="283.8" y="209.73" font-size="5.82" text-anchor="end" textLength="9.10" lengthAdjust="spacingAndGlyphs">0.75</text>
<line x1="284.3" y1="218.85" x2="285.5" y2="218.85" stroke="#333" stroke-width="0.5"/>
<text x="283.8" y="220.65" font-size="5.82" text-anchor="end" textLength="9.10" lengthAdjust="spacingAndGlyphs">0.50</text>
<line x1="284.3" y1="229.77" x2="285.5" y2="229.77" stroke="#333" stroke-width="0.5"/>
<text x="283.8" y="231.57" font-size="5.82" text-anchor="end" textLength="9.10" lengthAdjust="spacingAndGlyphs">0.25</text>
<line x1="284.3" y1="240.7" x2="285.5" y2="240.7" stroke="#333" stroke-width="0.5"/>
<text x="283.8" y="242.5" font-size="5.82" text-anchor="end" textLength="9.10" lengthAdjust="spacingAndGlyphs">0.00</text>
<line x1="287" y1="243.3" x2="287" y2="244.5" stroke="#333" stroke-width="0.5"/>
<text x="287" y="249.3" font-size="5.82" text-anchor="middle" textLength="2.60" lengthAdjust="spacingAndGlyphs">0</text>
<line x1="298.2" y1="243.3" x2="298.2" y2="244.5" stroke="#333" stroke-width="0.5"/>
<text x="298.2" y="249.3" font-size="5.82" text-anchor="middle" textLength="2.60" lengthAdjust="spacingAndGlyphs">5</text>
<line x1="309.4" y1="243.3" x2="309.4" y2="244.5" stroke="#333" stroke-width="0.5"/>
<text x="309.4" y="249.3" font-size="5.82" text-anchor="middle" textLength="5.20" lengthAdjust="spacingAndGlyphs">10</text>
<line x1="320.6" y1="243.3" x2="320.6" y2="244.5" stroke="#333" stroke-width="0.5"/>
<text x="320.6" y="249.3" font-size="5.82" text-anchor="middle" textLength="5.20" lengthAdjust="spacingAndGlyphs">15</text>
<line x1="331.8" y1="243.3" x2="331.8" y2="244.5" stroke="#333" stroke-width="0.5"/>
<text x="331.8" y="249.3" font-size="5.82" text-anchor="middle" textLength="5.20" lengthAdjust="spacingAndGlyphs">20</text>
<line x1="343" y1="243.3" x2="343" y2="244.5" stroke="#333" stroke-width="0.5"/>
<text x="343" y="249.3" font-size="5.82" text-anchor="middle" textLength="5.20" lengthAdjust="spacingAndGlyphs">25</text>
<text x="312.8" y="255.8" font-size="6.16" text-anchor="middle" textLength="30.51" lengthAdjust="spacingAndGlyphs">Time (month)</text>
<text x="288.3" y="232.5" font-size="6.16" textLength="23.12" lengthAdjust="spacingAndGlyphs">HR=0.266</text>
<text x="288.3" y="239.5" font-size="6.16" textLength="18.23" lengthAdjust="spacingAndGlyphs"><tspan font-style="italic">p</tspan>=0.004</text>
<path d="M287.00 197.00 H289.40 V199.01 H291.39 V201.02 H292.89 V206.61 H342.33" fill="none" stroke="#f07a5a" stroke-width="0.8"/>
<line x1="306.36" y1="205.51" x2="306.36" y2="207.71" stroke="#f07a5a" stroke-width="0.6"/>
<line x1="314.66" y1="205.51" x2="314.66" y2="207.71" stroke="#f07a5a" stroke-width="0.6"/>
<line x1="321.3" y1="205.51" x2="321.3" y2="207.71" stroke="#f07a5a" stroke-width="0.6"/>
<line x1="328.5" y1="205.51" x2="328.5" y2="207.71" stroke="#f07a5a" stroke-width="0.6"/>
<line x1="332.37" y1="205.51" x2="332.37" y2="207.71" stroke="#f07a5a" stroke-width="0.6"/>
<line x1="335.69" y1="205.51" x2="335.69" y2="207.71" stroke="#f07a5a" stroke-width="0.6"/>
<line x1="338.46" y1="205.51" x2="338.46" y2="207.71" stroke="#f07a5a" stroke-width="0.6"/>
<line x1="342.33" y1="205.51" x2="342.33" y2="207.71" stroke="#f07a5a" stroke-width="0.6"/>
<path d="M287.00 197.00 H289.40 V199.01 H291.39 V201.02 H292.89 V213.17 H295.51 V216.66 H298.20 V219.72 H299.32 V223.22 H309.18 V225.41 H315.67 V227.59 H341.43" fill="none" stroke="#f6c244" stroke-width="0.8"/>
<line x1="306.05" y1="226.49" x2="306.05" y2="228.69" stroke="#f6c244" stroke-width="0.6"/>
<line x1="314.22" y1="226.49" x2="314.22" y2="228.69" stroke="#f6c244" stroke-width="0.6"/>
<line x1="320.75" y1="226.49" x2="320.75" y2="228.69" stroke="#f6c244" stroke-width="0.6"/>
<line x1="327.82" y1="226.49" x2="327.82" y2="228.69" stroke="#f6c244" stroke-width="0.6"/>
<line x1="331.63" y1="226.49" x2="331.63" y2="228.69" stroke="#f6c244" stroke-width="0.6"/>
<line x1="334.9" y1="226.49" x2="334.9" y2="228.69" stroke="#f6c244" stroke-width="0.6"/>
<line x1="337.62" y1="226.49" x2="337.62" y2="228.69" stroke="#f6c244" stroke-width="0.6"/>
<line x1="341.43" y1="226.49" x2="341.43" y2="228.69" stroke="#f6c244" stroke-width="0.6"/>
<line x1="360.9" y1="197" x2="360.9" y2="244.4" stroke="#333" stroke-width="0.8"/>
<line x1="360.9" y1="244.4" x2="420.2" y2="244.4" stroke="#333" stroke-width="0.8"/>
<line x1="359.7" y1="198.4" x2="360.9" y2="198.4" stroke="#333" stroke-width="0.5"/>
<text x="359.2" y="200.2" font-size="5.82" text-anchor="end" textLength="9.10" lengthAdjust="spacingAndGlyphs">1.00</text>
<line x1="359.7" y1="209.72" x2="360.9" y2="209.72" stroke="#333" stroke-width="0.5"/>
<text x="359.2" y="211.53" font-size="5.82" text-anchor="end" textLength="9.10" lengthAdjust="spacingAndGlyphs">0.75</text>
<line x1="359.7" y1="221.05" x2="360.9" y2="221.05" stroke="#333" stroke-width="0.5"/>
<text x="359.2" y="222.85" font-size="5.82" text-anchor="end" textLength="9.10" lengthAdjust="spacingAndGlyphs">0.50</text>
<line x1="359.7" y1="232.38" x2="360.9" y2="232.38" stroke="#333" stroke-width="0.5"/>
<text x="359.2" y="234.18" font-size="5.82" text-anchor="end" textLength="9.10" lengthAdjust="spacingAndGlyphs">0.25</text>
<line x1="359.7" y1="243.7" x2="360.9" y2="243.7" stroke="#333" stroke-width="0.5"/>
<text x="359.2" y="245.5" font-size="5.82" text-anchor="end" textLength="9.10" lengthAdjust="spacingAndGlyphs">0.00</text>
<line x1="364.4" y1="244.4" x2="364.4" y2="245.6" stroke="#333" stroke-width="0.5"/>
<text x="364.4" y="249.3" font-size="5.82" text-anchor="middle" textLength="2.60" lengthAdjust="spacingAndGlyphs">0</text>
<line x1="385.4" y1="244.4" x2="385.4" y2="245.6" stroke="#333" stroke-width="0.5"/>
<text x="385.4" y="249.3" font-size="5.82" text-anchor="middle" textLength="5.20" lengthAdjust="spacingAndGlyphs">10</text>
<line x1="406.4" y1="244.4" x2="406.4" y2="245.6" stroke="#333" stroke-width="0.5"/>
<text x="406.4" y="249.3" font-size="5.82" text-anchor="middle" textLength="5.20" lengthAdjust="spacingAndGlyphs">20</text>
<text x="396" y="255.1" font-size="6.16" text-anchor="middle" textLength="30.51" lengthAdjust="spacingAndGlyphs">Time (month)</text>
<text x="365.4" y="234.2" font-size="6.16" textLength="23.12" lengthAdjust="spacingAndGlyphs">HR=0.238</text>
<text x="365.4" y="241.2" font-size="6.16" textLength="20.98" lengthAdjust="spacingAndGlyphs"><tspan font-style="italic">p</tspan>=0.0061</text>
<path d="M364.40 198.40 H365.60 V200.39 H367.40 V206.42 H418.79" fill="none" stroke="#35a84a" stroke-width="0.8"/>
<line x1="383.44" y1="205.32" x2="383.44" y2="207.52" stroke="#35a84a" stroke-width="0.6"/>
<line x1="391.59" y1="205.32" x2="391.59" y2="207.52" stroke="#35a84a" stroke-width="0.6"/>
<line x1="398.12" y1="205.32" x2="398.12" y2="207.52" stroke="#35a84a" stroke-width="0.6"/>
<line x1="405.19" y1="205.32" x2="405.19" y2="207.52" stroke="#35a84a" stroke-width="0.6"/>
<line x1="409" y1="205.32" x2="409" y2="207.52" stroke="#35a84a" stroke-width="0.6"/>
<line x1="412.26" y1="205.32" x2="412.26" y2="207.52" stroke="#35a84a" stroke-width="0.6"/>
<line x1="414.98" y1="205.32" x2="414.98" y2="207.52" stroke="#35a84a" stroke-width="0.6"/>
<line x1="418.79" y1="205.32" x2="418.79" y2="207.52" stroke="#35a84a" stroke-width="0.6"/>
<path d="M364.40 198.40 H365.60 V200.39 H367.40 V204.74 H368.60 V211.76 H371.96 V217.06 H373.22 V222.41 H386.87 V224.22 H394.22 V226.67 H412.07" fill="none" stroke="#acd864" stroke-width="0.8"/>
<line x1="381.08" y1="225.57" x2="381.08" y2="227.77" stroke="#acd864" stroke-width="0.6"/>
<line x1="388.23" y1="225.57" x2="388.23" y2="227.77" stroke="#acd864" stroke-width="0.6"/>
<line x1="393.96" y1="225.57" x2="393.96" y2="227.77" stroke="#acd864" stroke-width="0.6"/>
<line x1="400.15" y1="225.57" x2="400.15" y2="227.77" stroke="#acd864" stroke-width="0.6"/>
<line x1="403.49" y1="225.57" x2="403.49" y2="227.77" stroke="#acd864" stroke-width="0.6"/>
<line x1="406.35" y1="225.57" x2="406.35" y2="227.77" stroke="#acd864" stroke-width="0.6"/>
<line x1="408.73" y1="225.57" x2="408.73" y2="227.77" stroke="#acd864" stroke-width="0.6"/>
<line x1="412.07" y1="225.57" x2="412.07" y2="227.77" stroke="#acd864" stroke-width="0.6"/>
<line x1="183.7" y1="183.7" x2="189" y2="183.7" stroke="#b23fbd" stroke-width="0.8"/>
<line x1="186.35" y1="182.7" x2="186.35" y2="184.7" stroke="#b23fbd" stroke-width="0.5"/>
<text x="193" y="181.9" font-size="5.6" style="fill:#222;stroke:#222" textLength="33.75" lengthAdjust="spacingAndGlyphs">High Ferroptosis</text>
<text x="190.8" y="188.2" font-size="5.6" style="fill:#222;stroke:#222" textLength="31.85" lengthAdjust="spacingAndGlyphs">+High HMOX1</text>
<line x1="226.4" y1="184" x2="231.7" y2="184" stroke="#f08ac2" stroke-width="0.8"/>
<line x1="229.05" y1="183" x2="229.05" y2="185" stroke="#f08ac2" stroke-width="0.5"/>
<text x="235" y="181.9" font-size="5.6" style="fill:#222;stroke:#222" textLength="32.91" lengthAdjust="spacingAndGlyphs">Low Ferroptosis</text>
<text x="232.8" y="188.2" font-size="5.6" style="fill:#222;stroke:#222" textLength="31.01" lengthAdjust="spacingAndGlyphs">+Low HMOX1</text>
<line x1="270.4" y1="180.3" x2="275.7" y2="180.3" stroke="#f07a5a" stroke-width="0.8"/>
<line x1="273.05" y1="179.3" x2="273.05" y2="181.3" stroke="#f07a5a" stroke-width="0.5"/>
<text x="276.2" y="181.9" font-size="5.6" style="fill:#222;stroke:#222" textLength="33.75" lengthAdjust="spacingAndGlyphs">High Ferroptosis</text>
<text x="274.5" y="188.3" font-size="5.6" style="fill:#222;stroke:#222" textLength="23.24" lengthAdjust="spacingAndGlyphs">+High JUN</text>
<line x1="313" y1="181" x2="318.3" y2="181" stroke="#f6c244" stroke-width="0.8"/>
<line x1="315.65" y1="180" x2="315.65" y2="182" stroke="#f6c244" stroke-width="0.5"/>
<text x="318.4" y="181.9" font-size="5.6" style="fill:#222;stroke:#222" textLength="32.91" lengthAdjust="spacingAndGlyphs">Low Ferroptosis</text>
<text x="316.2" y="188.3" font-size="5.6" style="fill:#222;stroke:#222" textLength="31.01" lengthAdjust="spacingAndGlyphs">+Low HMOX1</text>
<line x1="351.9" y1="184" x2="357.2" y2="184" stroke="#35a84a" stroke-width="0.8"/>
<line x1="354.55" y1="183" x2="354.55" y2="185" stroke="#35a84a" stroke-width="0.5"/>
<text x="361.6" y="181.2" font-size="5.6" style="fill:#222;stroke:#222" textLength="20.42" lengthAdjust="spacingAndGlyphs">High JUN</text>
<text x="357.7" y="187.7" font-size="5.6" style="fill:#222;stroke:#222" textLength="31.85" lengthAdjust="spacingAndGlyphs">+High HMOX1</text>
<line x1="392.8" y1="184" x2="398.1" y2="184" stroke="#acd864" stroke-width="0.8"/>
<line x1="395.45" y1="183" x2="395.45" y2="185" stroke="#acd864" stroke-width="0.5"/>
<text x="401.4" y="181.2" font-size="5.6" style="fill:#888;stroke:#888" textLength="19.58" lengthAdjust="spacingAndGlyphs">Low JUN</text>
<text x="398.6" y="187.7" font-size="5.6" style="fill:#888;stroke:#888" textLength="31.01" lengthAdjust="spacingAndGlyphs">+Low HMOX1</text>
<text x="5" y="272" font-size="6.27" textLength="3.74" lengthAdjust="spacingAndGlyphs" font-weight="bold">E</text>
<rect x="19.7" y="268.9" width="290" height="10.2" fill="#f2abb7"/>
<rect x="315.7" y="269.2" width="108" height="10.1" fill="#a8d8f0"/>
<line x1="18.9" y1="284" x2="18.9" y2="334.4" stroke="#777" stroke-width="1"/>
<line x1="18.9" y1="334.4" x2="48.4" y2="334.4" stroke="#777" stroke-width="1"/>
<line x1="17.7" y1="287.7" x2="18.9" y2="287.7" stroke="#777" stroke-width="0.5"/>
<text x="17.1" y="289.5" font-size="5.94" text-anchor="end" textLength="9.28" lengthAdjust="spacingAndGlyphs">12.5</text>
<line x1="17.7" y1="297.6" x2="18.9" y2="297.6" stroke="#777" stroke-width="0.5"/>
<text x="17.1" y="299.4" font-size="5.94" text-anchor="end" textLength="9.28" lengthAdjust="spacingAndGlyphs">10.0</text>
<line x1="17.7" y1="307.4" x2="18.9" y2="307.4" stroke="#777" stroke-width="0.5"/>
<text x="17.1" y="309.2" font-size="5.94" text-anchor="end" textLength="6.62" lengthAdjust="spacingAndGlyphs">7.5</text>
<line x1="17.7" y1="317.3" x2="18.9" y2="317.3" stroke="#777" stroke-width="0.5"/>
<text x="17.1" y="319.1" font-size="5.94" text-anchor="end" textLength="6.62" lengthAdjust="spacingAndGlyphs">5.0</text>
<line x1="17.7" y1="327" x2="18.9" y2="327" stroke="#777" stroke-width="0.5"/>
<text x="17.1" y="328.8" font-size="5.94" text-anchor="end" textLength="6.62" lengthAdjust="spacingAndGlyphs">2.5</text>
<text x="33" y="276.6" font-size="6.38" text-anchor="middle" textLength="11.40" lengthAdjust="spacingAndGlyphs">CYT</text>
<line x1="27" y1="288.2" x2="27" y2="297.3" stroke="#777" stroke-width="0.85"/>
<line x1="27" y1="309.1" x2="27" y2="319.8" stroke="#777" stroke-width="0.85"/>
<rect x="23.1" y="297.3" width="7.8" height="11.8" fill="#f36524" stroke="#444" stroke-width="0.5"/>
<line x1="23.1" y1="302.5" x2="30.9" y2="302.5" stroke="#333" stroke-width="0.7"/>
<line x1="40" y1="299.7" x2="40" y2="309.1" stroke="#777" stroke-width="0.85"/>
<line x1="40" y1="320.8" x2="40" y2="332" stroke="#777" stroke-width="0.85"/>
<rect x="36.2" y="309.1" width="7.6" height="11.7" fill="#6aa9df" stroke="#444" stroke-width="0.5"/>
<line x1="36.2" y1="315.2" x2="43.8" y2="315.2" stroke="#333" stroke-width="0.7"/>
<line x1="27.3" y1="287" x2="40" y2="287" stroke="#444" stroke-width="0.7"/>
<text x="33.65" y="287.4" font-size="6.27" text-anchor="middle" textLength="8.40" lengthAdjust="spacingAndGlyphs">***</text>
<line x1="58.7" y1="284" x2="58.7" y2="334.4" stroke="#777" stroke-width="1"/>
<line x1="58.7" y1="334.4" x2="88" y2="334.4" stroke="#777" stroke-width="1"/>
<line x1="57.5" y1="294.1" x2="58.7" y2="294.1" stroke="#777" stroke-width="0.5"/>
<text x="56.9" y="295.9" font-size="5.94" text-anchor="end" textLength="6.62" lengthAdjust="spacingAndGlyphs">7.5</text>
<line x1="57.5" y1="306.9" x2="58.7" y2="306.9" stroke="#777" stroke-width="0.5"/>
<text x="56.9" y="308.7" font-size="5.94" text-anchor="end" textLength="6.62" lengthAdjust="spacingAndGlyphs">5.0</text>
<line x1="57.5" y1="319.6" x2="58.7" y2="319.6" stroke="#777" stroke-width="0.5"/>
<text x="56.9" y="321.4" font-size="5.94" text-anchor="end" textLength="6.62" lengthAdjust="spacingAndGlyphs">2.5</text>
<line x1="57.5" y1="332.7" x2="58.7" y2="332.7" stroke="#777" stroke-width="0.5"/>
<text x="56.9" y="334.5" font-size="5.94" text-anchor="end" textLength="6.62" lengthAdjust="spacingAndGlyphs">0.0</text>
<text x="74.3" y="276.6" font-size="6.38" text-anchor="middle" textLength="33.09" lengthAdjust="spacingAndGlyphs">TCR Richness</text>
<line x1="66.15" y1="289.1" x2="66.15" y2="297.5" stroke="#777" stroke-width="0.85"/>
<line x1="66.15" y1="311.5" x2="66.15" y2="327.4" stroke="#777" stroke-width="0.85"/>
<rect x="62.4" y="297.5" width="7.5" height="14" fill="#f36524" stroke="#444" stroke-width="0.5"/>
<line x1="62.4" y1="304.6" x2="69.9" y2="304.6" stroke="#333" stroke-width="0.7"/>
<line x1="79.45" y1="291" x2="79.45" y2="312.5" stroke="#777" stroke-width="0.85"/>
<line x1="79.45" y1="327.4" x2="79.45" y2="332.7" stroke="#777" stroke-width="0.85"/>
<rect x="75.5" y="312.5" width="7.9" height="14.9" fill="#6aa9df" stroke="#444" stroke-width="0.5"/>
<line x1="75.5" y1="320" x2="83.4" y2="320" stroke="#333" stroke-width="0.7"/>
<line x1="66.2" y1="287.4" x2="79.3" y2="287.4" stroke="#444" stroke-width="0.7"/>
<text x="72.75" y="287.8" font-size="6.27" text-anchor="middle" textLength="8.40" lengthAdjust="spacingAndGlyphs">***</text>
<line x1="95.6" y1="284" x2="95.6" y2="334.4" stroke="#777" stroke-width="1"/>
<line x1="95.6" y1="334.4" x2="123.3" y2="334.4" stroke="#777" stroke-width="1"/>
<line x1="94.4" y1="297.1" x2="95.6" y2="297.1" stroke="#777" stroke-width="0.5"/>
<text x="93.8" y="298.9" font-size="5.94" text-anchor="end" textLength="6.62" lengthAdjust="spacingAndGlyphs">7.5</text>
<line x1="94.4" y1="311" x2="95.6" y2="311" stroke="#777" stroke-width="0.5"/>
<text x="93.8" y="312.8" font-size="5.94" text-anchor="end" textLength="6.62" lengthAdjust="spacingAndGlyphs">5.0</text>
<line x1="94.4" y1="324" x2="95.6" y2="324" stroke="#777" stroke-width="0.5"/>
<text x="93.8" y="325.8" font-size="5.94" text-anchor="end" textLength="6.62" lengthAdjust="spacingAndGlyphs">2.5</text>
<text x="114.3" y="276.6" font-size="6.38" text-anchor="middle" textLength="33.41" lengthAdjust="spacingAndGlyphs">BCR Richness</text>
<line x1="103.55" y1="288.2" x2="103.55" y2="300.3" stroke="#777" stroke-width="0.85"/>
<line x1="103.55" y1="315.3" x2="103.55" y2="332" stroke="#777" stroke-width="0.85"/>
<rect x="99.3" y="300.3" width="8.5" height="15" fill="#f36524" stroke="#444" stroke-width="0.5"/>
<line x1="99.3" y1="306.5" x2="107.8" y2="306.5" stroke="#333" stroke-width="0.7"/>
<line x1="116.8" y1="295.6" x2="116.8" y2="311.5" stroke="#777" stroke-width="0.85"/>
<line x1="116.8" y1="329.3" x2="116.8" y2="332.7" stroke="#777" stroke-width="0.85"/>
<rect x="112.8" y="311.5" width="8" height="17.8" fill="#6aa9df" stroke="#444" stroke-width="0.5"/>
<line x1="112.8" y1="321.4" x2="120.8" y2="321.4" stroke="#333" stroke-width="0.7"/>
<line x1="104" y1="287.1" x2="117.1" y2="287.1" stroke="#444" stroke-width="0.7"/>
<text x="110.55" y="287.5" font-size="6.27" text-anchor="middle" textLength="8.40" lengthAdjust="spacingAndGlyphs">***</text>
<line x1="133.4" y1="284" x2="133.4" y2="334.4" stroke="#777" stroke-width="1"/>
<line x1="133.4" y1="334.4" x2="162.9" y2="334.4" stroke="#777" stroke-width="1"/>
<line x1="132.2" y1="285.4" x2="133.4" y2="285.4" stroke="#777" stroke-width="0.5"/>
<text x="131.6" y="287.2" font-size="5.94" text-anchor="end" textLength="2.65" lengthAdjust="spacingAndGlyphs">8</text>
<line x1="132.2" y1="298.4" x2="133.4" y2="298.4" stroke="#777" stroke-width="0.5"/>
<text x="131.6" y="300.2" font-size="5.94" text-anchor="end" textLength="2.65" lengthAdjust="spacingAndGlyphs">6</text>
<line x1="132.2" y1="311.5" x2="133.4" y2="311.5" stroke="#777" stroke-width="0.5"/>
<text x="131.6" y="313.3" font-size="5.94" text-anchor="end" textLength="2.65" lengthAdjust="spacingAndGlyphs">4</text>
<line x1="132.2" y1="323.7" x2="133.4" y2="323.7" stroke="#777" stroke-width="0.5"/>
<text x="131.6" y="325.5" font-size="5.94" text-anchor="end" textLength="2.65" lengthAdjust="spacingAndGlyphs">2</text>
<text x="149.4" y="276.6" font-size="6.38" text-anchor="middle" textLength="11.70" lengthAdjust="spacingAndGlyphs">IFN&#947;</text>
<line x1="142.3" y1="288.2" x2="142.3" y2="300.9" stroke="#777" stroke-width="0.85"/>
<line x1="142.3" y1="315.8" x2="142.3" y2="328.4" stroke="#777" stroke-width="0.85"/>
<rect x="138.2" y="300.9" width="8.2" height="14.9" fill="#f36524" stroke="#444" stroke-width="0.5"/>
<line x1="138.2" y1="307.2" x2="146.4" y2="307.2" stroke="#333" stroke-width="0.7"/>
<line x1="155.4" y1="298.4" x2="155.4" y2="314.7" stroke="#777" stroke-width="0.85"/>
<line x1="155.4" y1="327" x2="155.4" y2="332.7" stroke="#777" stroke-width="0.85"/>
<rect x="151.3" y="314.7" width="8.2" height="12.3" fill="#6aa9df" stroke="#444" stroke-width="0.5"/>
<line x1="151.3" y1="320.9" x2="159.5" y2="320.9" stroke="#333" stroke-width="0.7"/>
<line x1="142.4" y1="285.6" x2="155.7" y2="285.6" stroke="#444" stroke-width="0.7"/>
<text x="149.05" y="286" font-size="6.27" text-anchor="middle" textLength="8.40" lengthAdjust="spacingAndGlyphs">***</text>
<line x1="170.3" y1="284" x2="170.3" y2="334.4" stroke="#777" stroke-width="1"/>
<line x1="170.3" y1="334.4" x2="197.4" y2="334.4" stroke="#777" stroke-width="1"/>
<line x1="169.1" y1="296.6" x2="170.3" y2="296.6" stroke="#777" stroke-width="0.5"/>
<text x="168.5" y="298.4" font-size="5.94" text-anchor="end" textLength="2.65" lengthAdjust="spacingAndGlyphs">4</text>
<line x1="169.1" y1="313.4" x2="170.3" y2="313.4" stroke="#777" stroke-width="0.5"/>
<text x="168.5" y="315.2" font-size="5.94" text-anchor="end" textLength="2.65" lengthAdjust="spacingAndGlyphs">3</text>
<line x1="169.1" y1="329.7" x2="170.3" y2="329.7" stroke="#777" stroke-width="0.5"/>
<text x="168.5" y="331.5" font-size="5.94" text-anchor="end" textLength="2.65" lengthAdjust="spacingAndGlyphs">2</text>
<text x="184.7" y="276.6" font-size="6.38" text-anchor="middle" textLength="10.77" lengthAdjust="spacingAndGlyphs">GEP</text>
<line x1="178.35" y1="288.2" x2="178.35" y2="297.1" stroke="#777" stroke-width="0.85"/>
<line x1="178.35" y1="309.7" x2="178.35" y2="322.7" stroke="#777" stroke-width="0.85"/>
<rect x="174.6" y="297.1" width="7.5" height="12.6" fill="#f36524" stroke="#444" stroke-width="0.5"/>
<line x1="174.6" y1="301.3" x2="182.1" y2="301.3" stroke="#333" stroke-width="0.7"/>
<line x1="190.8" y1="297.1" x2="190.8" y2="310.2" stroke="#777" stroke-width="0.85"/>
<line x1="190.8" y1="322.7" x2="190.8" y2="332.7" stroke="#777" stroke-width="0.85"/>
<rect x="186.5" y="310.2" width="8.6" height="12.5" fill="#6aa9df" stroke="#444" stroke-width="0.5"/>
<line x1="186.5" y1="317.1" x2="195.1" y2="317.1" stroke="#333" stroke-width="0.7"/>
<line x1="177.8" y1="284.8" x2="190.8" y2="284.8" stroke="#444" stroke-width="0.7"/>
<text x="184.3" y="285.2" font-size="6.27" text-anchor="middle" textLength="8.40" lengthAdjust="spacingAndGlyphs">***</text>
<line x1="207.1" y1="284" x2="207.1" y2="334.4" stroke="#777" stroke-width="1"/>
<line x1="207.1" y1="334.4" x2="234.8" y2="334.4" stroke="#777" stroke-width="1"/>
<line x1="205.9" y1="285.4" x2="207.1" y2="285.4" stroke="#777" stroke-width="0.5"/>
<text x="205.3" y="287.2" font-size="5.94" text-anchor="end" textLength="2.65" lengthAdjust="spacingAndGlyphs">5</text>
<line x1="205.9" y1="293.8" x2="207.1" y2="293.8" stroke="#777" stroke-width="0.5"/>
<text x="205.3" y="295.6" font-size="5.94" text-anchor="end" textLength="2.65" lengthAdjust="spacingAndGlyphs">4</text>
<line x1="205.9" y1="301.8" x2="207.1" y2="301.8" stroke="#777" stroke-width="0.5"/>
<text x="205.3" y="303.6" font-size="5.94" text-anchor="end" textLength="2.65" lengthAdjust="spacingAndGlyphs">3</text>
<line x1="205.9" y1="310.2" x2="207.1" y2="310.2" stroke="#777" stroke-width="0.5"/>
<text x="205.3" y="312" font-size="5.94" text-anchor="end" textLength="2.65" lengthAdjust="spacingAndGlyphs">2</text>
<line x1="205.9" y1="318.1" x2="207.1" y2="318.1" stroke="#777" stroke-width="0.5"/>
<text x="205.3" y="319.9" font-size="5.94" text-anchor="end" textLength="2.65" lengthAdjust="spacingAndGlyphs">1</text>
<line x1="205.9" y1="326.5" x2="207.1" y2="326.5" stroke="#777" stroke-width="0.5"/>
<text x="205.3" y="328.3" font-size="5.94" text-anchor="end" textLength="2.65" lengthAdjust="spacingAndGlyphs">0</text>
<text x="220.2" y="276.6" font-size="6.38" text-anchor="middle" textLength="16.47" lengthAdjust="spacingAndGlyphs">CD274</text>
<line x1="215.1" y1="296" x2="215.1" y2="312.1" stroke="#777" stroke-width="0.85"/>
<line x1="215.1" y1="324.1" x2="215.1" y2="331.5" stroke="#777" stroke-width="0.85"/>
<rect x="210.8" y="312.1" width="8.6" height="12" fill="#f36524" stroke="#444" stroke-width="0.5"/>
<line x1="210.8" y1="319.6" x2="219.4" y2="319.6" stroke="#333" stroke-width="0.7"/>
<line x1="228.2" y1="316.2" x2="228.2" y2="324.1" stroke="#777" stroke-width="0.85"/>
<line x1="228.2" y1="329.7" x2="228.2" y2="332.7" stroke="#777" stroke-width="0.85"/>
<rect x="223.9" y="324.1" width="8.6" height="5.6" fill="#6aa9df" stroke="#444" stroke-width="0.5"/>
<line x1="223.9" y1="327" x2="232.5" y2="327" stroke="#333" stroke-width="0.7"/>
<line x1="214.6" y1="289.4" x2="228.2" y2="289.4" stroke="#444" stroke-width="0.7"/>
<text x="221.4" y="289.8" font-size="6.27" text-anchor="middle" textLength="8.40" lengthAdjust="spacingAndGlyphs">***</text>
<line x1="242.7" y1="284" x2="242.7" y2="334.4" stroke="#777" stroke-width="1"/>
<line x1="242.7" y1="334.4" x2="271.5" y2="334.4" stroke="#777" stroke-width="1"/>
<line x1="241.5" y1="289.7" x2="242.7" y2="289.7" stroke="#777" stroke-width="0.5"/>
<text x="240.9" y="291.5" font-size="5.94" text-anchor="end" textLength="2.65" lengthAdjust="spacingAndGlyphs">6</text>
<line x1="241.5" y1="302.2" x2="242.7" y2="302.2" stroke="#777" stroke-width="0.5"/>
<text x="240.9" y="304" font-size="5.94" text-anchor="end" textLength="2.65" lengthAdjust="spacingAndGlyphs">4</text>
<line x1="241.5" y1="314.7" x2="242.7" y2="314.7" stroke="#777" stroke-width="0.5"/>
<text x="240.9" y="316.5" font-size="5.94" text-anchor="end" textLength="2.65" lengthAdjust="spacingAndGlyphs">2</text>
<line x1="241.5" y1="327.4" x2="242.7" y2="327.4" stroke="#777" stroke-width="0.5"/>
<text x="240.9" y="329.2" font-size="5.94" text-anchor="end" textLength="2.65" lengthAdjust="spacingAndGlyphs">0</text>
<text x="257.7" y="276.6" font-size="6.38" text-anchor="middle" textLength="17.55" lengthAdjust="spacingAndGlyphs">CD8<tspan font-size="3.92" dy="-2">+</tspan><tspan dy="2"> T</tspan></text>
<line x1="251.2" y1="288.5" x2="251.2" y2="305" stroke="#777" stroke-width="0.85"/>
<line x1="251.2" y1="321.8" x2="251.2" y2="330.8" stroke="#777" stroke-width="0.85"/>
<rect x="247.2" y="305" width="8" height="16.8" fill="#f36524" stroke="#444" stroke-width="0.5"/>
<line x1="247.2" y1="312.8" x2="255.2" y2="312.8" stroke="#333" stroke-width="0.7"/>
<line x1="264.1" y1="307.2" x2="264.1" y2="320.9" stroke="#777" stroke-width="0.85"/>
<line x1="264.1" y1="330.8" x2="264.1" y2="332.7" stroke="#777" stroke-width="0.85"/>
<rect x="259.9" y="320.9" width="8.4" height="9.9" fill="#6aa9df" stroke="#444" stroke-width="0.5"/>
<line x1="259.9" y1="326.5" x2="268.3" y2="326.5" stroke="#333" stroke-width="0.7"/>
<line x1="251" y1="286.4" x2="264" y2="286.4" stroke="#444" stroke-width="0.7"/>
<text x="257.5" y="286.8" font-size="6.27" text-anchor="middle" textLength="8.40" lengthAdjust="spacingAndGlyphs">***</text>
<line x1="278.2" y1="284" x2="278.2" y2="334.4" stroke="#777" stroke-width="1"/>
<line x1="278.2" y1="334.4" x2="308.5" y2="334.4" stroke="#777" stroke-width="1"/>
<line x1="277" y1="291" x2="278.2" y2="291" stroke="#777" stroke-width="0.5"/>
<text x="276.4" y="292.8" font-size="5.94" text-anchor="end" textLength="2.65" lengthAdjust="spacingAndGlyphs">6</text>
<line x1="277" y1="303.5" x2="278.2" y2="303.5" stroke="#777" stroke-width="0.5"/>
<text x="276.4" y="305.3" font-size="5.94" text-anchor="end" textLength="2.65" lengthAdjust="spacingAndGlyphs">4</text>
<line x1="277" y1="315.8" x2="278.2" y2="315.8" stroke="#777" stroke-width="0.5"/>
<text x="276.4" y="317.6" font-size="5.94" text-anchor="end" textLength="2.65" lengthAdjust="spacingAndGlyphs">2</text>
<line x1="277" y1="328.4" x2="278.2" y2="328.4" stroke="#777" stroke-width="0.5"/>
<text x="276.4" y="330.2" font-size="5.94" text-anchor="end" textLength="2.65" lengthAdjust="spacingAndGlyphs">0</text>
<text x="293.6" y="276.6" font-size="6.38" text-anchor="middle" textLength="10.76" lengthAdjust="spacingAndGlyphs">CTL</text>
<line x1="287.65" y1="290" x2="287.65" y2="303.5" stroke="#777" stroke-width="0.85"/>
<line x1="287.65" y1="319" x2="287.65" y2="329.3" stroke="#777" stroke-width="0.85"/>
<rect x="283.3" y="303.5" width="8.7" height="15.5" fill="#f36524" stroke="#444" stroke-width="0.5"/>
<line x1="283.3" y1="311.5" x2="292" y2="311.5" stroke="#333" stroke-width="0.7"/>
<line x1="301.5" y1="306.5" x2="301.5" y2="320" stroke="#777" stroke-width="0.85"/>
<line x1="301.5" y1="328.9" x2="301.5" y2="332.1" stroke="#777" stroke-width="0.85"/>
<rect x="297.3" y="320" width="8.4" height="8.9" fill="#6aa9df" stroke="#444" stroke-width="0.5"/>
<line x1="297.3" y1="325.6" x2="305.7" y2="325.6" stroke="#333" stroke-width="0.7"/>
<line x1="288.9" y1="287.4" x2="302" y2="287.4" stroke="#444" stroke-width="0.7"/>
<text x="295.45" y="287.8" font-size="6.27" text-anchor="middle" textLength="8.40" lengthAdjust="spacingAndGlyphs">***</text>
<line x1="315.9" y1="284" x2="315.9" y2="334.4" stroke="#777" stroke-width="1"/>
<line x1="315.9" y1="334.4" x2="344.9" y2="334.4" stroke="#777" stroke-width="1"/>
<line x1="314.7" y1="294.7" x2="315.9" y2="294.7" stroke="#777" stroke-width="0.5"/>
<text x="314.1" y="296.5" font-size="5.94" text-anchor="end" textLength="2.65" lengthAdjust="spacingAndGlyphs">3</text>
<line x1="314.7" y1="308.4" x2="315.9" y2="308.4" stroke="#777" stroke-width="0.5"/>
<text x="314.1" y="310.2" font-size="5.94" text-anchor="end" textLength="2.65" lengthAdjust="spacingAndGlyphs">2</text>
<line x1="314.7" y1="322.7" x2="315.9" y2="322.7" stroke="#777" stroke-width="0.5"/>
<text x="314.1" y="324.5" font-size="5.94" text-anchor="end" textLength="2.65" lengthAdjust="spacingAndGlyphs">1</text>
<text x="334.3" y="276.6" font-size="6.38" text-anchor="middle" textLength="22.80" lengthAdjust="spacingAndGlyphs">Exclusion</text>
<line x1="324.1" y1="292.8" x2="324.1" y2="306.5" stroke="#777" stroke-width="0.85"/>
<line x1="324.1" y1="316.6" x2="324.1" y2="329.7" stroke="#777" stroke-width="0.85"/>
<rect x="320.2" y="306.5" width="7.8" height="10.1" fill="#f36524" stroke="#444" stroke-width="0.5"/>
<line x1="320.2" y1="311" x2="328" y2="311" stroke="#333" stroke-width="0.7"/>
<line x1="336.9" y1="295.3" x2="336.9" y2="302.2" stroke="#777" stroke-width="0.85"/>
<line x1="336.9" y1="308.7" x2="336.9" y2="314.7" stroke="#777" stroke-width="0.85"/>
<rect x="332.7" y="302.2" width="8.4" height="6.5" fill="#6aa9df" stroke="#444" stroke-width="0.5"/>
<line x1="332.7" y1="305.4" x2="341.1" y2="305.4" stroke="#333" stroke-width="0.7"/>
<line x1="324.3" y1="287.2" x2="337" y2="287.2" stroke="#444" stroke-width="0.7"/>
<text x="330.65" y="287.6" font-size="6.27" text-anchor="middle" textLength="8.40" lengthAdjust="spacingAndGlyphs">***</text>
<line x1="355" y1="284" x2="355" y2="334.4" stroke="#777" stroke-width="1"/>
<line x1="355" y1="334.4" x2="383.5" y2="334.4" stroke="#777" stroke-width="1"/>
<line x1="353.8" y1="297.5" x2="355" y2="297.5" stroke="#777" stroke-width="0.5"/>
<text x="353.2" y="299.3" font-size="5.94" text-anchor="end" textLength="6.62" lengthAdjust="spacingAndGlyphs">0.2</text>
<line x1="353.8" y1="312.8" x2="355" y2="312.8" stroke="#777" stroke-width="0.5"/>
<text x="353.2" y="314.6" font-size="5.94" text-anchor="end" textLength="6.62" lengthAdjust="spacingAndGlyphs">0.1</text>
<line x1="353.8" y1="328.4" x2="355" y2="328.4" stroke="#777" stroke-width="0.5"/>
<text x="353.2" y="330.2" font-size="5.94" text-anchor="end" textLength="6.62" lengthAdjust="spacingAndGlyphs">0.0</text>
<text x="366.7" y="276.6" font-size="6.38" text-anchor="middle" textLength="16.16" lengthAdjust="spacingAndGlyphs">MDSC</text>
<line x1="362.75" y1="299" x2="362.75" y2="308.4" stroke="#777" stroke-width="0.85"/>
<line x1="362.75" y1="316.2" x2="362.75" y2="325.6" stroke="#777" stroke-width="0.85"/>
<rect x="358.8" y="308.4" width="7.9" height="7.8" fill="#f36524" stroke="#444" stroke-width="0.5"/>
<line x1="358.8" y1="312.5" x2="366.7" y2="312.5" stroke="#333" stroke-width="0.7"/>
<line x1="376" y1="295.3" x2="376" y2="302.2" stroke="#777" stroke-width="0.85"/>
<line x1="376" y1="307.8" x2="376" y2="314.3" stroke="#777" stroke-width="0.85"/>
<rect x="371.9" y="302.2" width="8.2" height="5.6" fill="#6aa9df" stroke="#444" stroke-width="0.5"/>
<line x1="371.9" y1="305" x2="380.1" y2="305" stroke="#333" stroke-width="0.7"/>
<line x1="362" y1="286.8" x2="375.1" y2="286.8" stroke="#444" stroke-width="0.7"/>
<text x="368.55" y="287.2" font-size="6.27" text-anchor="middle" textLength="8.40" lengthAdjust="spacingAndGlyphs">***</text>
<line x1="393.8" y1="284" x2="393.8" y2="334.4" stroke="#777" stroke-width="1"/>
<line x1="393.8" y1="334.4" x2="423.7" y2="334.4" stroke="#777" stroke-width="1"/>
<line x1="392.6" y1="300.3" x2="393.8" y2="300.3" stroke="#777" stroke-width="0.5"/>
<text x="392" y="302.1" font-size="5.94" text-anchor="end" textLength="9.28" lengthAdjust="spacingAndGlyphs">0.00</text>
<line x1="392.6" y1="320.3" x2="393.8" y2="320.3" stroke="#777" stroke-width="0.5"/>
<text x="392" y="322.1" font-size="5.94" text-anchor="end" textLength="11.04" lengthAdjust="spacingAndGlyphs">-0.05</text>
<text x="405" y="276.6" font-size="6.38" text-anchor="middle" textLength="21.55" lengthAdjust="spacingAndGlyphs">TAM M2</text>
<line x1="402.5" y1="290" x2="402.5" y2="306.9" stroke="#777" stroke-width="0.85"/>
<line x1="402.5" y1="319" x2="402.5" y2="332.7" stroke="#777" stroke-width="0.85"/>
<rect x="398.1" y="306.9" width="8.8" height="12.1" fill="#f36524" stroke="#444" stroke-width="0.5"/>
<line x1="398.1" y1="312.5" x2="406.9" y2="312.5" stroke="#333" stroke-width="0.7"/>
<line x1="415.4" y1="288.5" x2="415.4" y2="299" stroke="#777" stroke-width="0.85"/>
<line x1="415.4" y1="307.2" x2="415.4" y2="319" stroke="#777" stroke-width="0.85"/>
<rect x="411.2" y="299" width="8.4" height="8.2" fill="#6aa9df" stroke="#444" stroke-width="0.5"/>
<line x1="411.2" y1="303.1" x2="419.6" y2="303.1" stroke="#333" stroke-width="0.7"/>
<line x1="402.6" y1="286.4" x2="415.3" y2="286.4" stroke="#444" stroke-width="0.7"/>
<text x="408.95" y="286.8" font-size="6.27" text-anchor="middle" textLength="8.40" lengthAdjust="spacingAndGlyphs">***</text>
<text x="0" y="0" font-size="6.72" text-anchor="middle" textLength="13.90" lengthAdjust="spacingAndGlyphs" transform="translate(6.52,310.00) rotate(-90)">Value</text>
<rect x="16.6" y="341.6" width="6.3" height="4.6" fill="#f36524" stroke="#446" stroke-width="0.5"/>
<line x1="16.6" y1="343.9" x2="22.9" y2="343.9" stroke="#333" stroke-width="0.5"/>
<text x="25.8" y="345.7" font-size="5.54" textLength="64.94" lengthAdjust="spacingAndGlyphs">High Ferroptosis+High HMOX1</text>
<rect x="100.9" y="341.6" width="6.1" height="4.6" fill="#6aa9df" stroke="#446" stroke-width="0.5"/>
<line x1="100.9" y1="343.9" x2="107" y2="343.9" stroke="#333" stroke-width="0.5"/>
<text x="110.2" y="345.7" font-size="5.49" textLength="62.65" lengthAdjust="spacingAndGlyphs">Low Ferroptosis+Low HMOX1</text>
<rect x="181.4" y="342" width="11.7" height="4.2" fill="#f2a6b2"/>
<text x="197" y="345.7" font-size="5.6" textLength="56.20" lengthAdjust="spacingAndGlyphs" font-style="italic">Antitumor immune response</text>
<rect x="270.6" y="342" width="11.7" height="4.2" fill="#a9d6ee"/>
<text x="284.4" y="345.7" font-size="5.51" textLength="54.39" lengthAdjust="spacingAndGlyphs">Protumor immune response</text>
<text x="5" y="363.4" font-size="6.27" textLength="3.42" lengthAdjust="spacingAndGlyphs" font-weight="bold">F</text>
<text x="28.7" y="374.6" font-size="6.16" text-anchor="middle" textLength="38.87" lengthAdjust="spacingAndGlyphs">1×10<tspan font-size="3.92" dy="-2">6</tspan><tspan dy="2"> YUMM1.7</tspan></text>
<text x="28.4" y="381.4" font-size="6.16" text-anchor="middle" textLength="30.70" lengthAdjust="spacingAndGlyphs">cells injection</text>
<rect x="54.7" y="362.9" width="72.3" height="16.4" fill="#f1f1f1"/>
<rect x="54.7" y="383" width="72.3" height="10.3" fill="#f1f1f1"/>
<line x1="58.4" y1="366.4" x2="58.4" y2="368.4" stroke="#3a86d0" stroke-width="1.1"/>
<path d="M56.65 368.10 L60.15 368.10 L58.40 370.80Z" fill="#3a86d0"/>
<text x="62.7" y="370" font-size="6.44" style="fill:#3a80c8;stroke:#3a80c8" textLength="59.09" lengthAdjust="spacingAndGlyphs">IgG2a isotype/PD-1 mAb</text>
<text x="70.2" y="375.9" font-size="6.44" style="fill:#3a80c8;stroke:#3a80c8" textLength="43.81" lengthAdjust="spacingAndGlyphs">100 μg/mouse (i.p)</text>
<line x1="58.4" y1="386.5" x2="58.4" y2="388.3" stroke="#111" stroke-width="1.1"/>
<path d="M56.65 388.00 L60.15 388.00 L58.40 390.70Z" fill="#111"/>
<text x="70.2" y="390.5" font-size="6.34" textLength="43.40" lengthAdjust="spacingAndGlyphs">PPF 10 mg/kg (i.p)</text>
<path d="M26.8 406.0 C23.8 405.8 21.4 407.0 21.9 408.6 C22.6 410.4 28 410.6 34.5 409.9" fill="none" stroke="#d89890" stroke-width="0.55"/>
<path d="M26 407 C24.8 403.5 27 400.2 31.5 399.6 C35 399.1 38 399.3 40 399.4 C40.3 398.3 41.6 398.1 42 399.2 C44 400.2 46 401.5 47.2 402.6 C46.5 403.6 45 404.1 43.8 404.3 C42.8 406.2 40.5 407.2 37.5 407.4 C33 407.8 28.5 407.9 26 407Z" fill="#3a3a3a"/>
<path d="M42.6 406.0 L44.6 407.5 M39.0 406.8 L40.4 408.0" fill="none" stroke="#d0a0a0" stroke-width="0.5"/>
<line x1="19.5" y1="389.6" x2="23.8" y2="395.3" stroke="#a8bccc" stroke-width="1.6"/>
<line x1="23.8" y1="395.3" x2="26.3" y2="398.7" stroke="#444444" stroke-width="1.2"/>
<line x1="26.3" y1="398.7" x2="27" y2="399.8" stroke="#50b060" stroke-width="0.6"/>
<text x="38.6" y="417.3" font-size="6.38" text-anchor="middle" textLength="21.22" lengthAdjust="spacingAndGlyphs">C57BL/6</text>
<line x1="18.7" y1="418.6" x2="112.3" y2="418.6" stroke="#333" stroke-width="0.9"/>
<path d="M112.6 420 L114.8 416.8 M114.8 420 L117.0 416.8" fill="none" stroke="#333" stroke-width="0.6"/>
<line x1="117.5" y1="418.6" x2="122.5" y2="418.6" stroke="#333" stroke-width="0.9"/>
<path d="M121.6 416.8 L124.6 418.6 L121.6 420.4Z" fill="#111"/>
<line x1="53.1" y1="403.9" x2="53.1" y2="407.2" stroke="#3a86d0" stroke-width="1.1"/>
<path d="M51.35 406.90 L54.85 406.90 L53.10 409.60Z" fill="#3a86d0"/>
<line x1="53.1" y1="415.2" x2="53.1" y2="418.6" stroke="#333" stroke-width="0.6"/>
<line x1="70.5" y1="403.9" x2="70.5" y2="407.2" stroke="#3a86d0" stroke-width="1.1"/>
<path d="M68.75 406.90 L72.25 406.90 L70.50 409.60Z" fill="#3a86d0"/>
<line x1="70.5" y1="415.2" x2="70.5" y2="418.6" stroke="#333" stroke-width="0.6"/>
<line x1="88.2" y1="403.9" x2="88.2" y2="407.2" stroke="#3a86d0" stroke-width="1.1"/>
<path d="M86.45 406.90 L89.95 406.90 L88.20 409.60Z" fill="#3a86d0"/>
<line x1="88.2" y1="415.2" x2="88.2" y2="418.6" stroke="#333" stroke-width="0.6"/>
<line x1="105.2" y1="403.9" x2="105.2" y2="407.2" stroke="#3a86d0" stroke-width="1.1"/>
<path d="M103.45 406.90 L106.95 406.90 L105.20 409.60Z" fill="#3a86d0"/>
<line x1="105.2" y1="415.2" x2="105.2" y2="418.6" stroke="#333" stroke-width="0.6"/>
<line x1="53.1" y1="410.4" x2="53.1" y2="413" stroke="#111" stroke-width="1.1"/>
<path d="M51.35 412.70 L54.85 412.70 L53.10 415.40Z" fill="#111"/>
<line x1="59" y1="410.4" x2="59" y2="413" stroke="#111" stroke-width="1.1"/>
<path d="M57.25 412.70 L60.75 412.70 L59.00 415.40Z" fill="#111"/>
<line x1="64.6" y1="410.4" x2="64.6" y2="413" stroke="#111" stroke-width="1.1"/>
<path d="M62.85 412.70 L66.35 412.70 L64.60 415.40Z" fill="#111"/>
<line x1="70.5" y1="410.4" x2="70.5" y2="413" stroke="#111" stroke-width="1.1"/>
<path d="M68.75 412.70 L72.25 412.70 L70.50 415.40Z" fill="#111"/>
<line x1="76.3" y1="410.4" x2="76.3" y2="413" stroke="#111" stroke-width="1.1"/>
<path d="M74.55 412.70 L78.05 412.70 L76.30 415.40Z" fill="#111"/>
<line x1="82.2" y1="410.4" x2="82.2" y2="413" stroke="#111" stroke-width="1.1"/>
<path d="M80.45 412.70 L83.95 412.70 L82.20 415.40Z" fill="#111"/>
<line x1="88.2" y1="410.4" x2="88.2" y2="413" stroke="#111" stroke-width="1.1"/>
<path d="M86.45 412.70 L89.95 412.70 L88.20 415.40Z" fill="#111"/>
<line x1="94" y1="410.4" x2="94" y2="413" stroke="#111" stroke-width="1.1"/>
<path d="M92.25 412.70 L95.75 412.70 L94.00 415.40Z" fill="#111"/>
<line x1="99.6" y1="410.4" x2="99.6" y2="413" stroke="#111" stroke-width="1.1"/>
<path d="M97.85 412.70 L101.35 412.70 L99.60 415.40Z" fill="#111"/>
<line x1="105.2" y1="410.4" x2="105.2" y2="413" stroke="#111" stroke-width="1.1"/>
<path d="M103.45 412.70 L106.95 412.70 L105.20 415.40Z" fill="#111"/>
<text x="13.9" y="425.1" font-size="6.16" textLength="5.50" lengthAdjust="spacingAndGlyphs">0d</text>
<text x="53.5" y="424.9" font-size="6.16" text-anchor="middle" textLength="5.50" lengthAdjust="spacingAndGlyphs">8d</text>
<text x="71.8" y="424.9" font-size="6.16" text-anchor="middle" textLength="8.05" lengthAdjust="spacingAndGlyphs">11d</text>
<text x="89" y="424.9" font-size="6.16" text-anchor="middle" textLength="8.25" lengthAdjust="spacingAndGlyphs">14d</text>
<text x="106" y="424.9" font-size="6.16" text-anchor="middle" textLength="8.25" lengthAdjust="spacingAndGlyphs">17d</text>
<text x="31.4" y="433.2" font-size="6.16" text-anchor="middle" textLength="31.73" lengthAdjust="spacingAndGlyphs">Tumor growth</text>
<text x="31.4" y="439.6" font-size="6.16" text-anchor="middle" textLength="32.99" lengthAdjust="spacingAndGlyphs">until ~100mm<tspan font-size="3.92" dy="-2">3</tspan></text>
<text x="143.1" y="362.7" font-size="5.6" textLength="3.89" lengthAdjust="spacingAndGlyphs" font-weight="bold">G</text>
<line x1="168.6" y1="370" x2="168.6" y2="422" stroke="#333" stroke-width="0.8"/>
<line x1="168.6" y1="422" x2="230" y2="422" stroke="#333" stroke-width="0.8"/>
<line x1="166.8" y1="422" x2="168.6" y2="422" stroke="#333" stroke-width="0.6"/>
<text x="166.2" y="423.8" font-size="6.16" text-anchor="end" textLength="2.75" lengthAdjust="spacingAndGlyphs">0</text>
<line x1="166.8" y1="409.27" x2="168.6" y2="409.27" stroke="#333" stroke-width="0.6"/>
<text x="166.2" y="411.07" font-size="6.16" text-anchor="end" textLength="8.25" lengthAdjust="spacingAndGlyphs">500</text>
<line x1="166.8" y1="396.55" x2="168.6" y2="396.55" stroke="#333" stroke-width="0.6"/>
<text x="166.2" y="398.35" font-size="6.16" text-anchor="end" textLength="11.00" lengthAdjust="spacingAndGlyphs">1000</text>
<line x1="166.8" y1="383.83" x2="168.6" y2="383.83" stroke="#333" stroke-width="0.6"/>
<text x="166.2" y="385.63" font-size="6.16" text-anchor="end" textLength="11.00" lengthAdjust="spacingAndGlyphs">1500</text>
<line x1="166.8" y1="371.1" x2="168.6" y2="371.1" stroke="#333" stroke-width="0.6"/>
<text x="166.2" y="372.9" font-size="6.16" text-anchor="end" textLength="11.00" lengthAdjust="spacingAndGlyphs">2000</text>
<line x1="169.4" y1="422" x2="169.4" y2="423.4" stroke="#333" stroke-width="0.6"/>
<text x="169.4" y="428.7" font-size="6.16" text-anchor="middle" textLength="2.75" lengthAdjust="spacingAndGlyphs">0</text>
<line x1="181.26" y1="422" x2="181.26" y2="423.4" stroke="#333" stroke-width="0.6"/>
<text x="181.26" y="428.7" font-size="6.16" text-anchor="middle" textLength="2.75" lengthAdjust="spacingAndGlyphs">5</text>
<line x1="193.12" y1="422" x2="193.12" y2="423.4" stroke="#333" stroke-width="0.6"/>
<text x="193.12" y="428.7" font-size="6.16" text-anchor="middle" textLength="5.50" lengthAdjust="spacingAndGlyphs">10</text>
<line x1="204.98" y1="422" x2="204.98" y2="423.4" stroke="#333" stroke-width="0.6"/>
<text x="204.98" y="428.7" font-size="6.16" text-anchor="middle" textLength="5.50" lengthAdjust="spacingAndGlyphs">15</text>
<line x1="216.84" y1="422" x2="216.84" y2="423.4" stroke="#333" stroke-width="0.6"/>
<text x="216.84" y="428.7" font-size="6.16" text-anchor="middle" textLength="5.50" lengthAdjust="spacingAndGlyphs">20</text>
<line x1="228.7" y1="422" x2="228.7" y2="423.4" stroke="#333" stroke-width="0.6"/>
<text x="228.7" y="428.7" font-size="6.16" text-anchor="middle" textLength="5.50" lengthAdjust="spacingAndGlyphs">25</text>
<text x="203" y="436.3" font-size="6.16" text-anchor="middle" textLength="26.53" lengthAdjust="spacingAndGlyphs">Time (days)</text>
<text x="0" y="0" font-size="6.27" text-anchor="middle" textLength="47.70" lengthAdjust="spacingAndGlyphs" transform="translate(148.87,393.60) rotate(-90)">Tumor volume(mm<tspan font-size="4.03" dy="-2">3</tspan><tspan dy="2">)</tspan></text>
<path d="M188.38 420.60 L195.49 419.81 L202.61 419.81 L209.72 419.51 L216.84 419.51 L223.96 419.10" fill="none" stroke="#e2532f" stroke-width="0.9"/>
<line x1="188.38" y1="420.85" x2="188.38" y2="420.35" stroke="#e2532f" stroke-width="0.6"/>
<line x1="187.48" y1="420.35" x2="189.28" y2="420.35" stroke="#e2532f" stroke-width="0.6"/>
<circle cx="188.38" cy="420.60" r="1.25" fill="#e2532f"/>
<line x1="195.49" y1="420.19" x2="195.49" y2="419.43" stroke="#e2532f" stroke-width="0.6"/>
<line x1="194.59" y1="419.43" x2="196.39" y2="419.43" stroke="#e2532f" stroke-width="0.6"/>
<circle cx="195.49" cy="419.81" r="1.25" fill="#e2532f"/>
<line x1="202.61" y1="420.32" x2="202.61" y2="419.3" stroke="#e2532f" stroke-width="0.6"/>
<line x1="201.71" y1="419.3" x2="203.51" y2="419.3" stroke="#e2532f" stroke-width="0.6"/>
<circle cx="202.61" cy="419.81" r="1.25" fill="#e2532f"/>
<line x1="209.72" y1="420.14" x2="209.72" y2="418.87" stroke="#e2532f" stroke-width="0.6"/>
<line x1="208.82" y1="418.87" x2="210.62" y2="418.87" stroke="#e2532f" stroke-width="0.6"/>
<circle cx="209.72" cy="419.51" r="1.25" fill="#e2532f"/>
<line x1="216.84" y1="420.27" x2="216.84" y2="418.74" stroke="#e2532f" stroke-width="0.6"/>
<line x1="215.94" y1="418.74" x2="217.74" y2="418.74" stroke="#e2532f" stroke-width="0.6"/>
<circle cx="216.84" cy="419.51" r="1.25" fill="#e2532f"/>
<line x1="223.96" y1="420.12" x2="223.96" y2="418.08" stroke="#e2532f" stroke-width="0.6"/>
<line x1="223.06" y1="418.08" x2="224.86" y2="418.08" stroke="#e2532f" stroke-width="0.6"/>
<circle cx="223.96" cy="419.10" r="1.25" fill="#e2532f"/>
<path d="M188.38 420.60 L195.49 418.92 L202.61 417.70 L209.72 416.81 L216.84 415.61 L223.96 409.20" fill="none" stroke="#f2876f" stroke-width="0.9"/>
<line x1="188.38" y1="420.85" x2="188.38" y2="420.35" stroke="#f2876f" stroke-width="0.6"/>
<line x1="187.48" y1="420.35" x2="189.28" y2="420.35" stroke="#f2876f" stroke-width="0.6"/>
<circle cx="188.38" cy="420.60" r="1.25" fill="#f2876f"/>
<line x1="195.49" y1="419.68" x2="195.49" y2="418.16" stroke="#f2876f" stroke-width="0.6"/>
<line x1="194.59" y1="418.16" x2="196.39" y2="418.16" stroke="#f2876f" stroke-width="0.6"/>
<circle cx="195.49" cy="418.92" r="1.25" fill="#f2876f"/>
<line x1="202.61" y1="419.23" x2="202.61" y2="416.17" stroke="#f2876f" stroke-width="0.6"/>
<line x1="201.71" y1="416.17" x2="203.51" y2="416.17" stroke="#f2876f" stroke-width="0.6"/>
<circle cx="202.61" cy="417.70" r="1.25" fill="#f2876f"/>
<line x1="209.72" y1="418.84" x2="209.72" y2="414.77" stroke="#f2876f" stroke-width="0.6"/>
<line x1="208.82" y1="414.77" x2="210.62" y2="414.77" stroke="#f2876f" stroke-width="0.6"/>
<circle cx="209.72" cy="416.81" r="1.25" fill="#f2876f"/>
<line x1="216.84" y1="418.16" x2="216.84" y2="413.07" stroke="#f2876f" stroke-width="0.6"/>
<line x1="215.94" y1="413.07" x2="217.74" y2="413.07" stroke="#f2876f" stroke-width="0.6"/>
<circle cx="216.84" cy="415.61" r="1.25" fill="#f2876f"/>
<line x1="223.96" y1="413.27" x2="223.96" y2="405.13" stroke="#f2876f" stroke-width="0.6"/>
<line x1="223.06" y1="405.13" x2="224.86" y2="405.13" stroke="#f2876f" stroke-width="0.6"/>
<circle cx="223.96" cy="409.20" r="1.25" fill="#f2876f"/>
<path d="M188.38 420.60 L195.49 416.50 L202.61 413.60 L209.72 410.70 L216.84 407.39 L223.96 399.60" fill="none" stroke="#2f84d2" stroke-width="0.9"/>
<line x1="188.38" y1="421.11" x2="188.38" y2="420.09" stroke="#2f84d2" stroke-width="0.6"/>
<line x1="187.48" y1="420.09" x2="189.28" y2="420.09" stroke="#2f84d2" stroke-width="0.6"/>
<circle cx="188.38" cy="420.60" r="1.25" fill="#2f84d2"/>
<line x1="195.49" y1="418.79" x2="195.49" y2="414.21" stroke="#2f84d2" stroke-width="0.6"/>
<line x1="194.59" y1="414.21" x2="196.39" y2="414.21" stroke="#2f84d2" stroke-width="0.6"/>
<circle cx="195.49" cy="416.50" r="1.25" fill="#2f84d2"/>
<line x1="202.61" y1="416.66" x2="202.61" y2="410.55" stroke="#2f84d2" stroke-width="0.6"/>
<line x1="201.71" y1="410.55" x2="203.51" y2="410.55" stroke="#2f84d2" stroke-width="0.6"/>
<circle cx="202.61" cy="413.60" r="1.25" fill="#2f84d2"/>
<line x1="209.72" y1="417.7" x2="209.72" y2="403.7" stroke="#2f84d2" stroke-width="0.6"/>
<line x1="208.82" y1="403.7" x2="210.62" y2="403.7" stroke="#2f84d2" stroke-width="0.6"/>
<circle cx="209.72" cy="410.70" r="1.25" fill="#2f84d2"/>
<line x1="216.84" y1="414.59" x2="216.84" y2="400.19" stroke="#2f84d2" stroke-width="0.6"/>
<line x1="215.94" y1="400.19" x2="217.74" y2="400.19" stroke="#2f84d2" stroke-width="0.6"/>
<circle cx="216.84" cy="407.39" r="1.25" fill="#2f84d2"/>
<line x1="223.96" y1="403.42" x2="223.96" y2="395.79" stroke="#2f84d2" stroke-width="0.6"/>
<line x1="223.06" y1="395.79" x2="224.86" y2="395.79" stroke="#2f84d2" stroke-width="0.6"/>
<circle cx="223.96" cy="399.60" r="1.25" fill="#2f84d2"/>
<path d="M188.38 420.60 L195.49 416.81 L202.61 413.60 L209.72 410.70 L216.84 405.10 L223.96 393.22" fill="none" stroke="#8c8c8c" stroke-width="0.9"/>
<line x1="188.38" y1="421.11" x2="188.38" y2="420.09" stroke="#8c8c8c" stroke-width="0.6"/>
<line x1="187.48" y1="420.09" x2="189.28" y2="420.09" stroke="#8c8c8c" stroke-width="0.6"/>
<circle cx="188.38" cy="420.60" r="1.25" fill="#8c8c8c"/>
<line x1="195.49" y1="418.84" x2="195.49" y2="414.77" stroke="#8c8c8c" stroke-width="0.6"/>
<line x1="194.59" y1="414.77" x2="196.39" y2="414.77" stroke="#8c8c8c" stroke-width="0.6"/>
<circle cx="195.49" cy="416.81" r="1.25" fill="#8c8c8c"/>
<line x1="202.61" y1="416.66" x2="202.61" y2="410.55" stroke="#8c8c8c" stroke-width="0.6"/>
<line x1="201.71" y1="410.55" x2="203.51" y2="410.55" stroke="#8c8c8c" stroke-width="0.6"/>
<circle cx="202.61" cy="413.60" r="1.25" fill="#8c8c8c"/>
<line x1="209.72" y1="415.28" x2="209.72" y2="406.12" stroke="#8c8c8c" stroke-width="0.6"/>
<line x1="208.82" y1="406.12" x2="210.62" y2="406.12" stroke="#8c8c8c" stroke-width="0.6"/>
<circle cx="209.72" cy="410.70" r="1.25" fill="#8c8c8c"/>
<line x1="216.84" y1="410.19" x2="216.84" y2="400.01" stroke="#8c8c8c" stroke-width="0.6"/>
<line x1="215.94" y1="400.01" x2="217.74" y2="400.01" stroke="#8c8c8c" stroke-width="0.6"/>
<circle cx="216.84" cy="405.10" r="1.25" fill="#8c8c8c"/>
<line x1="223.96" y1="401.36" x2="223.96" y2="385.07" stroke="#8c8c8c" stroke-width="0.6"/>
<line x1="223.06" y1="385.07" x2="224.86" y2="385.07" stroke="#8c8c8c" stroke-width="0.6"/>
<circle cx="223.96" cy="393.22" r="1.25" fill="#8c8c8c"/>
<line x1="171.9" y1="363.6" x2="178.3" y2="363.6" stroke="#8c8c8c" stroke-width="0.8"/>
<path d="M173.50 363.60 L175.10 362.30 L176.70 363.60 L175.10 364.90Z" fill="#8c8c8c"/>
<text x="180.7" y="365.1" font-size="4.7" style="fill:#333;stroke:#333" textLength="10.50" lengthAdjust="spacingAndGlyphs">IgG2a</text>
<line x1="171.9" y1="370.3" x2="178.3" y2="370.3" stroke="#f2876f" stroke-width="0.8"/>
<path d="M173.50 370.30 L175.10 369.00 L176.70 370.30 L175.10 371.60Z" fill="#f2876f"/>
<text x="180.7" y="371.8" font-size="4.7" style="fill:#333;stroke:#333" textLength="18.32" lengthAdjust="spacingAndGlyphs">PD-1 mAb</text>
<line x1="171.9" y1="377.3" x2="178.3" y2="377.3" stroke="#2f84d2" stroke-width="0.8"/>
<path d="M173.50 377.30 L175.10 376.00 L176.70 377.30 L175.10 378.60Z" fill="#2f84d2"/>
<text x="180.7" y="378.8" font-size="4.7" style="fill:#333;stroke:#333" textLength="19.87" lengthAdjust="spacingAndGlyphs">PPF+IgG2a</text>
<line x1="171.9" y1="383.7" x2="178.3" y2="383.7" stroke="#e2532f" stroke-width="0.8"/>
<path d="M173.50 383.70 L175.10 382.40 L176.70 383.70 L175.10 385.00Z" fill="#e2532f"/>
<text x="180.7" y="385.2" font-size="4.7" style="fill:#333;stroke:#333" textLength="9.57" lengthAdjust="spacingAndGlyphs">COM</text>
<line x1="200.5" y1="363.1" x2="200.5" y2="369.6" stroke="#444" stroke-width="0.8"/>
<circle cx="202.80" cy="366.35" r="0.65" fill="#333"/>
<line x1="203.5" y1="376.7" x2="203.5" y2="383.8" stroke="#444" stroke-width="0.8"/>
<circle cx="205.80" cy="379.15" r="0.65" fill="#333"/>
<circle cx="205.80" cy="381.35" r="0.65" fill="#333"/>
<line x1="208.3" y1="369.2" x2="208.3" y2="384.2" stroke="#555" stroke-width="0.8"/>
<circle cx="210.60" cy="376.70" r="0.65" fill="#333"/>
<line x1="213.1" y1="362.1" x2="213.1" y2="383.9" stroke="#999" stroke-width="1.3"/>
<circle cx="215.40" cy="371.90" r="0.65" fill="#333"/>
<circle cx="215.40" cy="374.10" r="0.65" fill="#333"/>
<text x="239.8" y="362.7" font-size="5.6" textLength="3.89" lengthAdjust="spacingAndGlyphs" font-weight="bold">H</text>
<line x1="254.5" y1="370.4" x2="254.5" y2="422" stroke="#333" stroke-width="0.8"/>
<line x1="254.5" y1="422" x2="315.2" y2="422" stroke="#333" stroke-width="0.8"/>
<line x1="252.8" y1="422" x2="254.5" y2="422" stroke="#333" stroke-width="0.6"/>
<text x="252.3" y="423.8" font-size="6.16" text-anchor="end" textLength="2.75" lengthAdjust="spacingAndGlyphs">0</text>
<line x1="252.8" y1="404.97" x2="254.5" y2="404.97" stroke="#333" stroke-width="0.6"/>
<text x="252.3" y="406.77" font-size="6.16" text-anchor="end" textLength="5.50" lengthAdjust="spacingAndGlyphs">10</text>
<line x1="252.8" y1="387.93" x2="254.5" y2="387.93" stroke="#333" stroke-width="0.6"/>
<text x="252.3" y="389.73" font-size="6.16" text-anchor="end" textLength="5.50" lengthAdjust="spacingAndGlyphs">20</text>
<line x1="252.8" y1="370.9" x2="254.5" y2="370.9" stroke="#333" stroke-width="0.6"/>
<text x="252.3" y="372.7" font-size="6.16" text-anchor="end" textLength="5.50" lengthAdjust="spacingAndGlyphs">30</text>
<line x1="255.6" y1="422" x2="255.6" y2="423.4" stroke="#333" stroke-width="0.6"/>
<text x="255.6" y="428.7" font-size="6.16" text-anchor="middle" textLength="2.75" lengthAdjust="spacingAndGlyphs">0</text>
<line x1="267.68" y1="422" x2="267.68" y2="423.4" stroke="#333" stroke-width="0.6"/>
<text x="267.68" y="428.7" font-size="6.16" text-anchor="middle" textLength="2.75" lengthAdjust="spacingAndGlyphs">5</text>
<line x1="279.76" y1="422" x2="279.76" y2="423.4" stroke="#333" stroke-width="0.6"/>
<text x="279.76" y="428.7" font-size="6.16" text-anchor="middle" textLength="5.50" lengthAdjust="spacingAndGlyphs">10</text>
<line x1="291.84" y1="422" x2="291.84" y2="423.4" stroke="#333" stroke-width="0.6"/>
<text x="291.84" y="428.7" font-size="6.16" text-anchor="middle" textLength="5.50" lengthAdjust="spacingAndGlyphs">15</text>
<line x1="303.92" y1="422" x2="303.92" y2="423.4" stroke="#333" stroke-width="0.6"/>
<text x="303.92" y="428.7" font-size="6.16" text-anchor="middle" textLength="5.50" lengthAdjust="spacingAndGlyphs">20</text>
<line x1="316" y1="422" x2="316" y2="423.4" stroke="#333" stroke-width="0.6"/>
<text x="316" y="428.7" font-size="6.16" text-anchor="middle" textLength="5.50" lengthAdjust="spacingAndGlyphs">25</text>
<text x="286.2" y="435.5" font-size="6.16" text-anchor="middle" textLength="26.53" lengthAdjust="spacingAndGlyphs">Time (days)</text>
<text x="0" y="0" font-size="5.94" text-anchor="middle" textLength="33.40" lengthAdjust="spacingAndGlyphs" transform="translate(243.46,396.70) rotate(-90)">Body weight (g)</text>
<path d="M274.93 393.04 L282.18 392.19 L289.42 391.68 L296.67 391.00 L303.92 390.32 L311.17 388.61" fill="none" stroke="#8c8c8c" stroke-width="0.8"/>
<line x1="274.93" y1="391.44" x2="274.93" y2="394.64" stroke="#8c8c8c" stroke-width="0.5"/>
<circle cx="274.93" cy="393.04" r="1.05" fill="#8c8c8c"/>
<line x1="282.18" y1="390.59" x2="282.18" y2="393.79" stroke="#8c8c8c" stroke-width="0.5"/>
<circle cx="282.18" cy="392.19" r="1.05" fill="#8c8c8c"/>
<line x1="289.42" y1="390.08" x2="289.42" y2="393.28" stroke="#8c8c8c" stroke-width="0.5"/>
<circle cx="289.42" cy="391.68" r="1.05" fill="#8c8c8c"/>
<line x1="296.67" y1="389.4" x2="296.67" y2="392.6" stroke="#8c8c8c" stroke-width="0.5"/>
<circle cx="296.67" cy="391.00" r="1.05" fill="#8c8c8c"/>
<line x1="303.92" y1="388.72" x2="303.92" y2="391.92" stroke="#8c8c8c" stroke-width="0.5"/>
<circle cx="303.92" cy="390.32" r="1.05" fill="#8c8c8c"/>
<line x1="311.17" y1="387.01" x2="311.17" y2="390.21" stroke="#8c8c8c" stroke-width="0.5"/>
<circle cx="311.17" cy="388.61" r="1.05" fill="#8c8c8c"/>
<path d="M274.93 393.72 L282.18 392.70 L289.42 392.02 L296.67 391.51 L303.92 390.83 L311.17 389.81" fill="none" stroke="#2f84d2" stroke-width="0.8"/>
<line x1="274.93" y1="392.12" x2="274.93" y2="395.32" stroke="#2f84d2" stroke-width="0.5"/>
<circle cx="274.93" cy="393.72" r="1.05" fill="#2f84d2"/>
<line x1="282.18" y1="391.1" x2="282.18" y2="394.3" stroke="#2f84d2" stroke-width="0.5"/>
<circle cx="282.18" cy="392.70" r="1.05" fill="#2f84d2"/>
<line x1="289.42" y1="390.42" x2="289.42" y2="393.62" stroke="#2f84d2" stroke-width="0.5"/>
<circle cx="289.42" cy="392.02" r="1.05" fill="#2f84d2"/>
<line x1="296.67" y1="389.91" x2="296.67" y2="393.11" stroke="#2f84d2" stroke-width="0.5"/>
<circle cx="296.67" cy="391.51" r="1.05" fill="#2f84d2"/>
<line x1="303.92" y1="389.23" x2="303.92" y2="392.43" stroke="#2f84d2" stroke-width="0.5"/>
<circle cx="303.92" cy="390.83" r="1.05" fill="#2f84d2"/>
<line x1="311.17" y1="388.21" x2="311.17" y2="391.41" stroke="#2f84d2" stroke-width="0.5"/>
<circle cx="311.17" cy="389.81" r="1.05" fill="#2f84d2"/>
<path d="M274.93 392.70 L282.18 392.02 L289.42 391.85 L296.67 391.34 L303.92 391.00 L311.17 390.32" fill="none" stroke="#f2876f" stroke-width="0.8"/>
<line x1="274.93" y1="391.1" x2="274.93" y2="394.3" stroke="#f2876f" stroke-width="0.5"/>
<circle cx="274.93" cy="392.70" r="1.05" fill="#f2876f"/>
<line x1="282.18" y1="390.42" x2="282.18" y2="393.62" stroke="#f2876f" stroke-width="0.5"/>
<circle cx="282.18" cy="392.02" r="1.05" fill="#f2876f"/>
<line x1="289.42" y1="390.25" x2="289.42" y2="393.45" stroke="#f2876f" stroke-width="0.5"/>
<circle cx="289.42" cy="391.85" r="1.05" fill="#f2876f"/>
<line x1="296.67" y1="389.74" x2="296.67" y2="392.94" stroke="#f2876f" stroke-width="0.5"/>
<circle cx="296.67" cy="391.34" r="1.05" fill="#f2876f"/>
<line x1="303.92" y1="389.4" x2="303.92" y2="392.6" stroke="#f2876f" stroke-width="0.5"/>
<circle cx="303.92" cy="391.00" r="1.05" fill="#f2876f"/>
<line x1="311.17" y1="388.72" x2="311.17" y2="391.92" stroke="#f2876f" stroke-width="0.5"/>
<circle cx="311.17" cy="390.32" r="1.05" fill="#f2876f"/>
<path d="M274.93 393.04 L282.18 391.85 L289.42 391.68 L296.67 391.51 L303.92 391.34 L311.17 390.49" fill="none" stroke="#e2532f" stroke-width="0.8"/>
<line x1="274.93" y1="391.44" x2="274.93" y2="394.64" stroke="#e2532f" stroke-width="0.5"/>
<circle cx="274.93" cy="393.04" r="1.05" fill="#e2532f"/>
<line x1="282.18" y1="390.25" x2="282.18" y2="393.45" stroke="#e2532f" stroke-width="0.5"/>
<circle cx="282.18" cy="391.85" r="1.05" fill="#e2532f"/>
<line x1="289.42" y1="390.08" x2="289.42" y2="393.28" stroke="#e2532f" stroke-width="0.5"/>
<circle cx="289.42" cy="391.68" r="1.05" fill="#e2532f"/>
<line x1="296.67" y1="389.91" x2="296.67" y2="393.11" stroke="#e2532f" stroke-width="0.5"/>
<circle cx="296.67" cy="391.51" r="1.05" fill="#e2532f"/>
<line x1="303.92" y1="389.74" x2="303.92" y2="392.94" stroke="#e2532f" stroke-width="0.5"/>
<circle cx="303.92" cy="391.34" r="1.05" fill="#e2532f"/>
<line x1="311.17" y1="388.89" x2="311.17" y2="392.09" stroke="#e2532f" stroke-width="0.5"/>
<circle cx="311.17" cy="390.49" r="1.05" fill="#e2532f"/>
<text x="323.3" y="363" font-size="6.05" textLength="2.10" lengthAdjust="spacingAndGlyphs" font-weight="bold">I</text>
<line x1="339.6" y1="374.5" x2="339.6" y2="422" stroke="#333" stroke-width="0.8"/>
<line x1="339.6" y1="422" x2="392.5" y2="422" stroke="#333" stroke-width="0.8"/>
<line x1="337.8" y1="422" x2="339.6" y2="422" stroke="#333" stroke-width="0.6"/>
<text x="337.2" y="423.8" font-size="6.16" text-anchor="end" textLength="2.75" lengthAdjust="spacingAndGlyphs">0</text>
<line x1="337.8" y1="399.15" x2="339.6" y2="399.15" stroke="#333" stroke-width="0.6"/>
<text x="337.2" y="400.95" font-size="6.16" text-anchor="end" textLength="5.50" lengthAdjust="spacingAndGlyphs">50</text>
<line x1="337.8" y1="376.3" x2="339.6" y2="376.3" stroke="#333" stroke-width="0.6"/>
<text x="337.2" y="378.1" font-size="6.16" text-anchor="end" textLength="8.25" lengthAdjust="spacingAndGlyphs">100</text>
<line x1="339.8" y1="422" x2="339.8" y2="423.4" stroke="#333" stroke-width="0.6"/>
<text x="339.8" y="428" font-size="6.16" text-anchor="middle" textLength="2.75" lengthAdjust="spacingAndGlyphs">0</text>
<line x1="357.2" y1="422" x2="357.2" y2="423.4" stroke="#333" stroke-width="0.6"/>
<text x="357.2" y="428" font-size="6.16" text-anchor="middle" textLength="5.50" lengthAdjust="spacingAndGlyphs">20</text>
<line x1="374.6" y1="422" x2="374.6" y2="423.4" stroke="#333" stroke-width="0.6"/>
<text x="374.6" y="428" font-size="6.16" text-anchor="middle" textLength="5.50" lengthAdjust="spacingAndGlyphs">40</text>
<line x1="392" y1="422" x2="392" y2="423.4" stroke="#333" stroke-width="0.6"/>
<text x="392" y="428" font-size="6.16" text-anchor="middle" textLength="5.50" lengthAdjust="spacingAndGlyphs">60</text>
<text x="365.4" y="435.4" font-size="6.16" text-anchor="middle" textLength="26.53" lengthAdjust="spacingAndGlyphs">Time (days)</text>
<text x="0" y="0" font-size="6.61" text-anchor="middle" textLength="32.50" lengthAdjust="spacingAndGlyphs" transform="translate(328.98,396.90) rotate(-90)">survival (%)</text>
<path d="M339.80 376.30 H358.77 V385.44 H362.42 V394.58 H364.33 V412.86 H366.33 V422.00" fill="none" stroke="#b4b4b4" stroke-width="0.8"/>
<path d="M339.80 376.30 H361.29 V385.44 H363.81 V394.58 H364.16 V412.86 H364.51 V422.00" fill="none" stroke="#2f84d2" stroke-width="0.8"/>
<path d="M339.80 376.30 H364.42 V394.58 H368.77 V412.86 H376.86 V422.00" fill="none" stroke="#f49482" stroke-width="0.8"/>
<path d="M339.80 376.30 H369.38 V385.44 H371.90 V394.58 H379.99 V403.72 H387.48 V422.00" fill="none" stroke="#e04a30" stroke-width="0.8"/>
<line x1="379.9" y1="363.7" x2="386.3" y2="363.7" stroke="#8c8c8c" stroke-width="0.8"/>
<path d="M381.50 363.70 L383.10 362.40 L384.70 363.70 L383.10 365.00Z" fill="#8c8c8c"/>
<text x="387.4" y="365.2" font-size="4.93" style="fill:#333;stroke:#333" textLength="11.00" lengthAdjust="spacingAndGlyphs">IgG2a</text>
<line x1="379.9" y1="370.5" x2="386.3" y2="370.5" stroke="#f2876f" stroke-width="0.8"/>
<path d="M381.50 370.50 L383.10 369.20 L384.70 370.50 L383.10 371.80Z" fill="#f2876f"/>
<text x="387.4" y="372" font-size="4.93" style="fill:#333;stroke:#333" textLength="19.19" lengthAdjust="spacingAndGlyphs">PD-1 mAb</text>
<line x1="379.9" y1="377.6" x2="386.3" y2="377.6" stroke="#2f84d2" stroke-width="0.8"/>
<path d="M381.50 377.60 L383.10 376.30 L384.70 377.60 L383.10 378.90Z" fill="#2f84d2"/>
<text x="387.4" y="379.1" font-size="4.93" style="fill:#333;stroke:#333" textLength="20.82" lengthAdjust="spacingAndGlyphs">PPF+IgG2a</text>
<line x1="379.9" y1="384.1" x2="386.3" y2="384.1" stroke="#e2532f" stroke-width="0.8"/>
<path d="M381.50 384.10 L383.10 382.80 L384.70 384.10 L383.10 385.40Z" fill="#e2532f"/>
<text x="387.4" y="385.6" font-size="4.93" style="fill:#333;stroke:#333" textLength="10.03" lengthAdjust="spacingAndGlyphs">COM</text>
<line x1="407.8" y1="363" x2="407.8" y2="369.3" stroke="#666" stroke-width="1"/>
<circle cx="410.30" cy="366.15" r="0.65" fill="#333"/>
<line x1="410.3" y1="376.7" x2="410.3" y2="384.1" stroke="#666" stroke-width="1"/>
<circle cx="412.80" cy="379.30" r="0.65" fill="#333"/>
<circle cx="412.80" cy="381.50" r="0.65" fill="#333"/>
<line x1="415.3" y1="369.3" x2="415.3" y2="384.7" stroke="#666" stroke-width="1"/>
<circle cx="417.80" cy="377.00" r="0.65" fill="#333"/>
<line x1="420.2" y1="362.2" x2="420.2" y2="384.7" stroke="#666" stroke-width="1"/>
<circle cx="422.70" cy="372.35" r="0.65" fill="#333"/>
<circle cx="422.70" cy="374.55" r="0.65" fill="#333"/>
</svg>
</body></html>
